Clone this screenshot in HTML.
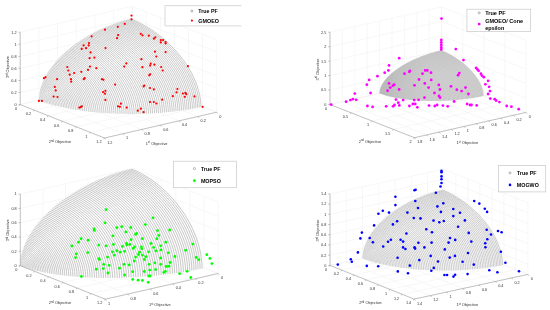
<!DOCTYPE html>
<html><head><meta charset="utf-8"><title>Pareto fronts</title>
<style>
html,body{margin:0;padding:0;background:#fff;}
body{width:550px;height:310px;overflow:hidden;}
svg{display:block;}
text{font-family:"Liberation Sans",Arial,sans-serif;fill:#333;}
.grid{fill:none;stroke:#f1f1f1;stroke-width:0.6;}
.ax{fill:none;stroke:#8a8a8a;stroke-width:0.5;}
.tl text{font-size:3.8px;fill:#333;}
.at{font-size:3.95px;fill:#333;}
.sup{font-size:2.6px;}
.lg{fill:none;stroke:#c8c8c8;stroke-width:0.7;}
.lt{font-size:5.9px;font-weight:bold;fill:#000;}
</style></head>
<body>
<svg width="550" height="310" viewBox="0 0 550 310">
<rect width="550" height="310" fill="#fff"/>
<g id="P1"><path class="grid" d="M132.3,78.8 L216.6,112.2 M132.3,78.8 L132.3,6.4 M113.6,83.1 L197.9,116.5 M113.6,83.1 L113.6,10.7 M94.9,87.4 L179.2,120.8 M94.9,87.4 L94.9,15 M76.2,91.7 L160.5,125.1 M76.2,91.7 L76.2,19.3 M57.6,96 L141.9,129.4 M57.6,96 L57.6,23.6 M38.9,100.3 L123.2,133.7 M38.9,100.3 L38.9,27.9 M20.2,104.6 L104.5,138 M20.2,104.6 L20.2,32.2 M132.3,78.8 L20.2,104.6 M132.3,78.8 L132.3,6.4 M146.3,84.4 L34.2,110.2 M146.3,84.4 L146.3,12 M160.4,89.9 L48.3,115.7 M160.4,89.9 L160.4,17.6 M174.4,95.5 L62.3,121.3 M174.4,95.5 L174.4,23.1 M188.5,101.1 L76.4,126.9 M188.5,101.1 L188.5,28.7 M202.5,106.6 L90.4,132.4 M202.5,106.6 L202.5,34.3 M216.6,112.2 L104.5,138 M216.6,112.2 L216.6,39.8 M20.2,104.6 L132.3,78.8 L216.6,112.2 M20.2,92.5 L132.3,66.7 L216.6,100.1 M20.2,80.5 L132.3,54.7 L216.6,88.1 M20.2,68.4 L132.3,42.6 L216.6,76 M20.2,56.4 L132.3,30.6 L216.6,64 M20.2,44.3 L132.3,18.5 L216.6,51.9 M20.2,32.2 L132.3,6.4 L216.6,39.8"/>
<polygon fill="#fdfdfd" points="38.9,100.3 38.9,98.7 39,97.1 39.2,95.5 39.4,93.9 39.7,92.2 40,90.6 40.4,89 40.9,87.3 41.5,85.6 42.1,84 42.7,82.3 43.5,80.6 44.2,78.9 45.1,77.3 46,75.6 47,73.9 48,72.2 49.1,70.6 50.2,68.9 51.4,67.3 52.6,65.6 54,64 55.3,62.4 56.7,60.8 58.2,59.1 59.7,57.6 61.3,56 62.9,54.4 64.5,52.9 66.2,51.4 68,49.9 69.8,48.4 71.6,46.9 73.5,45.5 75.4,44 77.4,42.7 79.4,41.3 81.4,39.9 83.5,38.6 85.6,37.3 87.7,36.1 89.9,34.8 92.1,33.6 94.3,32.5 96.6,31.3 98.8,30.2 101.1,29.1 103.4,28.1 105.8,27.1 108.1,26.1 110.5,25.2 112.9,24.3 115.3,23.4 117.7,22.6 120.1,21.8 122.5,21.1 125,20.4 127.4,19.7 129.9,19.1 132.3,18.5 134.1,19.2 136,20 137.8,20.9 139.6,21.7 141.5,22.6 143.3,23.6 145.1,24.6 146.9,25.6 148.7,26.7 150.5,27.8 152.3,28.9 154,30.1 155.7,31.2 157.5,32.5 159.2,33.7 160.9,35 162.5,36.4 164.2,37.7 165.8,39.1 167.4,40.5 169,41.9 170.6,43.4 172.1,44.9 173.6,46.4 175.1,47.9 176.5,49.5 177.9,51 179.3,52.6 180.7,54.2 182,55.8 183.3,57.5 184.5,59.1 185.7,60.8 186.9,62.5 188,64.2 189.1,65.9 190.2,67.6 191.2,69.3 192.2,71 193.1,72.8 194,74.5 194.9,76.2 195.7,78 196.5,79.7 197.2,81.4 197.9,83.2 198.5,84.9 199.1,86.6 199.7,88.4 200.2,90.1 200.6,91.8 201,93.5 201.4,95.2 201.7,96.9 201.9,98.5 202.2,100.2 202.3,101.8 202.5,103.4 202.5,105 202.5,106.6 200.1,107.2 197.6,107.7 195,108.2 192.4,108.7 189.8,109.2 187.1,109.7 184.3,110.1 181.6,110.5 178.8,110.9 176,111.2 173.1,111.6 170.2,111.9 167.3,112.2 164.4,112.5 161.5,112.7 158.5,113 155.5,113.2 152.5,113.4 149.5,113.5 146.4,113.7 143.4,113.8 140.3,113.9 137.3,113.9 134.2,114 131.2,114 128.1,114 125,113.9 122,113.9 119,113.8 115.9,113.7 112.9,113.6 109.9,113.4 106.9,113.2 103.9,113 101,112.8 98,112.6 95.1,112.3 92.2,112 89.4,111.7 86.5,111.3 83.7,111 81,110.6 78.2,110.2 75.5,109.8 72.9,109.3 70.3,108.8 67.7,108.4 65.2,107.8 62.7,107.3 60.2,106.8 57.9,106.2 55.5,105.6 53.2,105 51,104.4 48.9,103.7 46.7,103.1 44.7,102.4 42.7,101.7 40.8,101"/>
<path fill="none" stroke="#bebebe" stroke-width="0.8" d="M38.9,99.2 L39,99.3 L39.1,99.3 L39.1,99.4 L39.2,99.4 L39.3,99.5 L39.4,99.5 L39.4,99.6 L39.5,99.6 L39.6,99.7 L39.6,99.8 L39.7,99.8 L39.8,99.9 L39.8,100 L39.9,100 L39.9,100.1 L40,100.2 L40,100.3 L40,100.3 L40.1,100.4 L40.1,100.5 L40.1,100.6 L40.1,100.6 L40.1,100.7 L40.1,100.8 M38.9,98.2 L39.1,98.3 L39.3,98.3 L39.4,98.4 L39.6,98.5 L39.7,98.6 L39.9,98.7 L40,98.8 L40.2,99 L40.3,99.1 L40.4,99.2 L40.6,99.3 L40.7,99.5 L40.8,99.6 L40.9,99.8 L41,99.9 L41.1,100.1 L41.1,100.2 L41.2,100.4 L41.3,100.5 L41.3,100.7 L41.3,100.8 L41.4,101 L41.4,101.1 L41.4,101.3 M39,97.1 L39.3,97.2 L39.5,97.3 L39.7,97.5 L40,97.6 L40.2,97.8 L40.4,97.9 L40.6,98.1 L40.8,98.3 L41.1,98.5 L41.2,98.7 L41.4,98.9 L41.6,99.1 L41.8,99.3 L41.9,99.5 L42.1,99.7 L42.2,100 L42.3,100.2 L42.4,100.4 L42.5,100.6 L42.6,100.9 L42.6,101.1 L42.7,101.3 L42.7,101.5 L42.7,101.7 M39.1,96 L39.4,96.2 L39.8,96.3 L40.1,96.5 L40.4,96.7 L40.7,96.9 L41,97.1 L41.3,97.3 L41.6,97.6 L41.8,97.8 L42.1,98.1 L42.3,98.4 L42.6,98.6 L42.8,98.9 L43,99.2 L43.2,99.5 L43.4,99.8 L43.5,100.1 L43.6,100.4 L43.8,100.7 L43.8,101 L43.9,101.3 L44,101.6 L44,101.9 L44,102.2 M39.2,95 L39.6,95.1 L40,95.3 L40.4,95.5 L40.8,95.8 L41.2,96 L41.6,96.3 L41.9,96.6 L42.3,96.9 L42.6,97.2 L43,97.5 L43.3,97.9 L43.6,98.2 L43.8,98.6 L44.1,98.9 L44.3,99.3 L44.5,99.7 L44.7,100.1 L44.9,100.4 L45,100.8 L45.2,101.2 L45.2,101.6 L45.3,101.9 L45.3,102.3 L45.4,102.6 M39.4,93.9 L39.9,94.1 L40.4,94.3 L40.8,94.6 L41.3,94.8 L41.8,95.1 L42.2,95.5 L42.6,95.8 L43.1,96.2 L43.5,96.6 L43.9,97 L44.2,97.4 L44.6,97.8 L44.9,98.2 L45.2,98.7 L45.5,99.1 L45.8,99.6 L46,100 L46.2,100.5 L46.3,100.9 L46.5,101.4 L46.6,101.8 L46.7,102.2 L46.7,102.7 L46.7,103.1 M39.6,92.8 L40.1,93 L40.7,93.3 L41.2,93.6 L41.8,93.9 L42.3,94.3 L42.9,94.6 L43.4,95 L43.9,95.5 L44.3,95.9 L44.8,96.4 L45.2,96.9 L45.6,97.3 L46,97.8 L46.4,98.4 L46.7,98.9 L47,99.4 L47.3,99.9 L47.5,100.5 L47.7,101 L47.8,101.5 L48,102 L48.1,102.5 L48.1,103 L48.1,103.5 M39.8,91.7 L40.4,92 L41.1,92.3 L41.7,92.6 L42.3,93 L42.9,93.4 L43.5,93.8 L44.1,94.3 L44.7,94.8 L45.2,95.3 L45.7,95.8 L46.2,96.3 L46.7,96.9 L47.1,97.5 L47.5,98.1 L47.9,98.6 L48.3,99.2 L48.6,99.9 L48.8,100.5 L49.1,101.1 L49.2,101.7 L49.4,102.3 L49.5,102.8 L49.5,103.4 L49.6,104 M40,90.6 L40.8,90.9 L41.5,91.3 L42.2,91.6 L42.9,92.1 L43.6,92.5 L44.2,93 L44.9,93.5 L45.5,94 L46.1,94.6 L46.7,95.2 L47.3,95.8 L47.8,96.4 L48.3,97.1 L48.8,97.7 L49.2,98.4 L49.6,99.1 L49.9,99.8 L50.2,100.4 L50.4,101.1 L50.6,101.8 L50.8,102.5 L50.9,103.1 L51,103.8 L51,104.4 M40.3,89.5 L41.1,89.8 L41.9,90.2 L42.7,90.6 L43.5,91.1 L44.2,91.6 L45,92.1 L45.7,92.7 L46.4,93.3 L47.1,94 L47.7,94.6 L48.3,95.3 L48.9,96 L49.5,96.7 L50,97.4 L50.4,98.2 L50.9,98.9 L51.2,99.7 L51.6,100.4 L51.9,101.2 L52.1,101.9 L52.3,102.7 L52.4,103.4 L52.5,104.1 L52.5,104.8 M40.6,88.4 L41.5,88.8 L42.3,89.2 L43.2,89.7 L44.1,90.2 L44.9,90.7 L45.7,91.3 L46.5,91.9 L47.3,92.6 L48,93.3 L48.8,94 L49.4,94.8 L50.1,95.5 L50.7,96.3 L51.2,97.1 L51.7,97.9 L52.2,98.8 L52.6,99.6 L53,100.4 L53.3,101.2 L53.5,102.1 L53.7,102.9 L53.9,103.7 L54,104.5 L54,105.2 M40.9,87.3 L41.9,87.7 L42.8,88.2 L43.8,88.7 L44.7,89.2 L45.6,89.8 L46.5,90.5 L47.4,91.1 L48.2,91.9 L49,92.6 L49.8,93.4 L50.6,94.2 L51.3,95.1 L51.9,95.9 L52.5,96.8 L53.1,97.7 L53.6,98.6 L54,99.5 L54.4,100.4 L54.8,101.3 L55,102.2 L55.2,103.1 L55.4,103.9 L55.5,104.8 L55.5,105.6 M41.3,86.2 L42.3,86.6 L43.3,87.1 L44.4,87.7 L45.4,88.3 L46.4,88.9 L47.3,89.6 L48.3,90.4 L49.2,91.1 L50.1,91.9 L50.9,92.8 L51.7,93.7 L52.5,94.6 L53.2,95.5 L53.8,96.5 L54.4,97.4 L55,98.4 L55.5,99.4 L55.9,100.3 L56.2,101.3 L56.5,102.3 L56.8,103.2 L56.9,104.2 L57,105.1 L57.1,106 M41.7,85.1 L42.8,85.5 L43.9,86.1 L45,86.7 L46.1,87.3 L47.1,88 L48.2,88.8 L49.2,89.6 L50.2,90.4 L51.1,91.3 L52,92.2 L52.9,93.1 L53.7,94.1 L54.4,95.1 L55.1,96.1 L55.8,97.2 L56.4,98.2 L56.9,99.2 L57.4,100.3 L57.8,101.3 L58.1,102.4 L58.3,103.4 L58.5,104.4 L58.6,105.4 L58.7,106.4 M42.1,84 L43.3,84.5 L44.4,85 L45.6,85.7 L46.8,86.4 L47.9,87.1 L49,87.9 L50.1,88.8 L51.2,89.7 L52.2,90.6 L53.1,91.6 L54.1,92.6 L54.9,93.6 L55.7,94.7 L56.5,95.8 L57.2,96.9 L57.8,98 L58.4,99.1 L58.9,100.3 L59.3,101.4 L59.6,102.5 L59.9,103.6 L60.1,104.7 L60.2,105.7 L60.2,106.8 M42.5,82.8 L43.8,83.4 L45,84 L46.3,84.7 L47.5,85.4 L48.7,86.2 L49.9,87 L51.1,88 L52.2,88.9 L53.3,89.9 L54.3,91 L55.3,92 L56.2,93.1 L57.1,94.3 L57.9,95.4 L58.6,96.6 L59.3,97.8 L59.9,99 L60.4,100.2 L60.8,101.4 L61.2,102.6 L61.5,103.7 L61.7,104.9 L61.8,106 L61.9,107.1 M43,81.7 L44.3,82.3 L45.6,82.9 L47,83.7 L48.3,84.4 L49.6,85.3 L50.8,86.2 L52,87.1 L53.2,88.2 L54.4,89.2 L55.5,90.3 L56.5,91.5 L57.5,92.6 L58.4,93.9 L59.3,95.1 L60,96.3 L60.8,97.6 L61.4,98.9 L61.9,100.1 L62.4,101.4 L62.8,102.7 L63.1,103.9 L63.3,105.1 L63.5,106.3 L63.5,107.5 M43.5,80.6 L44.9,81.2 L46.3,81.9 L47.7,82.6 L49.1,83.5 L50.4,84.4 L51.8,85.3 L53.1,86.3 L54.3,87.4 L55.5,88.5 L56.7,89.7 L57.8,90.9 L58.8,92.2 L59.8,93.4 L60.7,94.7 L61.5,96 L62.3,97.4 L62.9,98.7 L63.5,100.1 L64,101.4 L64.4,102.7 L64.7,104 L65,105.3 L65.1,106.6 L65.2,107.8 M44,79.5 L45.5,80.1 L47,80.8 L48.4,81.6 L49.9,82.5 L51.3,83.5 L52.7,84.5 L54.1,85.5 L55.4,86.7 L56.7,87.8 L57.9,89.1 L59.1,90.3 L60.1,91.7 L61.2,93 L62.1,94.4 L63,95.8 L63.8,97.2 L64.5,98.6 L65.1,100 L65.6,101.4 L66.1,102.8 L66.4,104.2 L66.6,105.6 L66.8,106.9 L66.8,108.2 M44.5,78.4 L46.1,79 L47.7,79.8 L49.2,80.6 L50.7,81.5 L52.2,82.5 L53.7,83.6 L55.1,84.7 L56.5,85.9 L57.9,87.1 L59.1,88.4 L60.4,89.8 L61.5,91.2 L62.6,92.6 L63.6,94 L64.5,95.5 L65.3,96.9 L66.1,98.4 L66.7,99.9 L67.3,101.4 L67.7,102.9 L68.1,104.3 L68.3,105.7 L68.5,107.2 L68.5,108.5 M45.1,77.3 L46.7,78 L48.4,78.7 L50,79.6 L51.6,80.6 L53.2,81.6 L54.7,82.7 L56.2,83.9 L57.7,85.1 L59.1,86.4 L60.4,87.8 L61.7,89.2 L62.9,90.6 L64,92.1 L65.1,93.6 L66,95.2 L66.9,96.7 L67.7,98.3 L68.3,99.8 L68.9,101.4 L69.4,102.9 L69.8,104.4 L70,105.9 L70.2,107.4 L70.3,108.8 M45.7,76.1 L47.4,76.9 L49.1,77.7 L50.8,78.6 L52.5,79.6 L54.1,80.7 L55.8,81.9 L57.3,83.1 L58.8,84.4 L60.3,85.7 L61.7,87.2 L63,88.6 L64.3,90.1 L65.5,91.7 L66.6,93.3 L67.6,94.9 L68.5,96.5 L69.3,98.1 L70,99.7 L70.6,101.3 L71.1,103 L71.5,104.6 L71.8,106.1 L71.9,107.7 L72,109.2 M46.3,75 L48.1,75.8 L49.9,76.7 L51.7,77.6 L53.4,78.6 L55.1,79.8 L56.8,81 L58.4,82.3 L60,83.6 L61.6,85 L63,86.5 L64.4,88 L65.7,89.6 L66.9,91.2 L68.1,92.9 L69.1,94.5 L70.1,96.2 L70.9,97.9 L71.7,99.6 L72.3,101.3 L72.8,103 L73.2,104.7 L73.5,106.3 L73.7,107.9 L73.8,109.5 M47,73.9 L48.8,74.7 L50.7,75.6 L52.5,76.6 L54.4,77.7 L56.1,78.9 L57.9,80.1 L59.6,81.5 L61.2,82.9 L62.8,84.3 L64.4,85.9 L65.8,87.5 L67.2,89.1 L68.4,90.8 L69.6,92.5 L70.7,94.2 L71.7,96 L72.6,97.7 L73.4,99.5 L74,101.3 L74.6,103 L75,104.8 L75.3,106.5 L75.5,108.1 L75.5,109.8 M47.6,72.8 L49.6,73.6 L51.5,74.6 L53.4,75.6 L55.3,76.7 L57.2,77.9 L59,79.2 L60.8,80.6 L62.5,82.1 L64.1,83.6 L65.7,85.2 L67.2,86.9 L68.6,88.6 L70,90.3 L71.2,92.1 L72.3,93.9 L73.3,95.7 L74.3,97.6 L75.1,99.4 L75.7,101.2 L76.3,103.1 L76.8,104.9 L77.1,106.6 L77.3,108.4 L77.3,110 M48.3,71.7 L50.4,72.5 L52.4,73.5 L54.3,74.6 L56.3,75.7 L58.2,77 L60.1,78.4 L62,79.8 L63.7,81.3 L65.4,82.9 L67.1,84.6 L68.6,86.3 L70.1,88.1 L71.5,89.9 L72.8,91.7 L73.9,93.6 L75,95.5 L76,97.4 L76.8,99.3 L77.5,101.2 L78.1,103.1 L78.5,104.9 L78.9,106.8 L79.1,108.6 L79.1,110.3 M49.1,70.6 L51.2,71.5 L53.2,72.5 L55.3,73.6 L57.3,74.8 L59.3,76.1 L61.3,77.5 L63.2,79 L65,80.6 L66.8,82.2 L68.5,83.9 L70.1,85.7 L71.6,87.5 L73,89.4 L74.4,91.3 L75.6,93.3 L76.7,95.2 L77.7,97.2 L78.5,99.2 L79.3,101.1 L79.9,103.1 L80.3,105 L80.7,106.9 L80.9,108.8 L81,110.6 M49.8,69.5 L52,70.4 L54.1,71.4 L56.3,72.6 L58.4,73.8 L60.4,75.2 L62.4,76.6 L64.4,78.2 L66.3,79.8 L68.1,81.5 L69.9,83.3 L71.6,85.1 L73.1,87 L74.6,88.9 L76,90.9 L77.2,92.9 L78.4,94.9 L79.4,97 L80.3,99 L81,101.1 L81.7,103.1 L82.2,105.1 L82.5,107 L82.7,109 L82.8,110.9 M50.6,68.4 L52.8,69.3 L55,70.4 L57.2,71.6 L59.4,72.9 L61.5,74.3 L63.6,75.8 L65.7,77.4 L67.6,79 L69.5,80.8 L71.3,82.6 L73.1,84.5 L74.7,86.5 L76.2,88.5 L77.6,90.5 L78.9,92.6 L80.1,94.7 L81.1,96.8 L82.1,98.9 L82.8,101 L83.5,103.1 L84,105.1 L84.4,107.2 L84.6,109.2 L84.7,111.1 M51.4,67.3 L53.7,68.2 L56,69.3 L58.3,70.6 L60.5,71.9 L62.7,73.3 L64.8,74.9 L66.9,76.5 L69,78.3 L70.9,80.1 L72.8,82 L74.6,83.9 L76.2,85.9 L77.8,88 L79.3,90.1 L80.6,92.2 L81.8,94.4 L82.9,96.6 L83.9,98.7 L84.7,100.9 L85.3,103.1 L85.8,105.2 L86.2,107.3 L86.4,109.3 L86.5,111.3 M52.2,66.2 L54.6,67.2 L56.9,68.3 L59.3,69.6 L61.6,70.9 L63.9,72.4 L66.1,74 L68.2,75.7 L70.3,77.5 L72.3,79.4 L74.3,81.3 L76.1,83.3 L77.8,85.4 L79.4,87.5 L80.9,89.7 L82.3,91.9 L83.6,94.1 L84.7,96.3 L85.7,98.6 L86.5,100.8 L87.2,103 L87.7,105.2 L88.1,107.4 L88.3,109.5 L88.4,111.6 M53.1,65.1 L55.5,66.1 L57.9,67.3 L60.3,68.6 L62.7,70 L65,71.5 L67.3,73.2 L69.5,74.9 L71.7,76.7 L73.8,78.7 L75.7,80.7 L77.6,82.7 L79.4,84.9 L81.1,87.1 L82.6,89.3 L84,91.5 L85.3,93.8 L86.5,96.1 L87.5,98.4 L88.3,100.7 L89,103 L89.6,105.3 L90,107.5 L90.2,109.7 L90.3,111.8 M54,64 L56.5,65.1 L58.9,66.2 L61.4,67.6 L63.9,69 L66.3,70.6 L68.6,72.3 L70.9,74.1 L73.1,76 L75.2,77.9 L77.2,80 L79.2,82.1 L81,84.3 L82.7,86.6 L84.3,88.9 L85.8,91.2 L87.1,93.5 L88.3,95.9 L89.3,98.3 L90.2,100.6 L90.9,103 L91.5,105.3 L91.9,107.6 L92.1,109.8 L92.2,112 M54.9,62.9 L57.4,64 L60,65.2 L62.5,66.6 L65,68.1 L67.5,69.7 L69.9,71.4 L72.2,73.3 L74.5,75.2 L76.7,77.2 L78.8,79.3 L80.8,81.5 L82.6,83.8 L84.4,86.1 L86,88.4 L87.5,90.8 L88.9,93.2 L90.1,95.7 L91.1,98.1 L92.1,100.5 L92.8,102.9 L93.4,105.3 L93.8,107.7 L94.1,109.9 L94.1,112.2 M55.8,61.8 L58.4,62.9 L61,64.2 L63.6,65.6 L66.2,67.1 L68.7,68.8 L71.2,70.6 L73.6,72.5 L75.9,74.4 L78.2,76.5 L80.3,78.7 L82.3,80.9 L84.3,83.2 L86.1,85.6 L87.7,88 L89.3,90.5 L90.7,92.9 L91.9,95.4 L93,97.9 L93.9,100.4 L94.7,102.9 L95.3,105.3 L95.7,107.7 L96,110.1 L96.1,112.4 M56.7,60.8 L59.4,61.9 L62.1,63.2 L64.8,64.6 L67.4,66.2 L70,67.9 L72.5,69.7 L75,71.6 L77.4,73.7 L79.7,75.8 L81.9,78 L83.9,80.3 L85.9,82.7 L87.8,85.1 L89.5,87.6 L91.1,90.1 L92.5,92.6 L93.8,95.2 L94.9,97.7 L95.8,100.3 L96.6,102.8 L97.2,105.3 L97.7,107.8 L97.9,110.2 L98,112.6 M57.7,59.7 L60.5,60.9 L63.2,62.2 L65.9,63.6 L68.6,65.3 L71.3,67 L73.9,68.9 L76.4,70.8 L78.8,72.9 L81.2,75.1 L83.4,77.4 L85.6,79.7 L87.6,82.2 L89.5,84.6 L91.2,87.2 L92.8,89.7 L94.3,92.3 L95.6,94.9 L96.8,97.6 L97.7,100.2 L98.5,102.8 L99.2,105.3 L99.6,107.8 L99.9,110.3 L100,112.7 M58.7,58.6 L61.5,59.8 L64.3,61.2 L67.1,62.7 L69.9,64.3 L72.6,66.1 L75.2,68 L77.8,70 L80.3,72.2 L82.7,74.4 L85,76.7 L87.2,79.1 L89.3,81.6 L91.2,84.1 L93,86.7 L94.6,89.4 L96.1,92 L97.5,94.7 L98.6,97.4 L99.6,100 L100.5,102.7 L101.1,105.3 L101.6,107.9 L101.8,110.4 L101.9,112.9 M59.7,57.6 L62.6,58.8 L65.5,60.2 L68.3,61.7 L71.1,63.4 L73.9,65.2 L76.6,67.2 L79.3,69.2 L81.8,71.4 L84.3,73.7 L86.6,76.1 L88.9,78.5 L91,81.1 L92.9,83.7 L94.8,86.3 L96.5,89 L98,91.7 L99.4,94.4 L100.5,97.2 L101.6,99.9 L102.4,102.6 L103.1,105.3 L103.5,107.9 L103.8,110.5 L103.9,113 M60.7,56.5 L63.7,57.8 L66.6,59.2 L69.5,60.7 L72.4,62.5 L75.3,64.3 L78,66.3 L80.7,68.4 L83.3,70.6 L85.8,73 L88.2,75.4 L90.5,77.9 L92.7,80.5 L94.7,83.2 L96.6,85.9 L98.3,88.6 L99.8,91.4 L101.2,94.2 L102.5,97 L103.5,99.8 L104.4,102.5 L105,105.3 L105.5,107.9 L105.8,110.6 L105.9,113.2 M61.8,55.5 L64.8,56.7 L67.8,58.2 L70.8,59.8 L73.7,61.5 L76.6,63.4 L79.4,65.5 L82.2,67.6 L84.8,69.9 L87.4,72.3 L89.9,74.8 L92.2,77.3 L94.4,80 L96.4,82.7 L98.4,85.4 L100.1,88.2 L101.7,91.1 L103.1,93.9 L104.4,96.8 L105.4,99.6 L106.3,102.4 L107,105.2 L107.5,108 L107.8,110.7 L107.9,113.3 M62.9,54.4 L66,55.7 L69,57.2 L72,58.8 L75,60.6 L78,62.6 L80.9,64.6 L83.7,66.8 L86.4,69.1 L89,71.6 L91.5,74.1 L93.9,76.7 L96.1,79.4 L98.2,82.2 L100.2,85 L102,87.8 L103.6,90.7 L105,93.6 L106.3,96.5 L107.4,99.4 L108.3,102.3 L109,105.2 L109.5,108 L109.8,110.7 L109.9,113.4 M64,53.4 L67.1,54.7 L70.2,56.2 L73.3,57.9 L76.4,59.7 L79.4,61.7 L82.3,63.8 L85.2,66 L87.9,68.4 L90.6,70.9 L93.1,73.5 L95.6,76.1 L97.9,78.9 L100,81.7 L102,84.5 L103.8,87.5 L105.5,90.4 L106.9,93.4 L108.2,96.3 L109.3,99.3 L110.3,102.2 L111,105.1 L111.5,108 L111.8,110.8 L111.9,113.5 M65.1,52.4 L68.3,53.7 L71.5,55.3 L74.6,57 L77.7,58.8 L80.8,60.8 L83.8,63 L86.7,65.2 L89.5,67.7 L92.2,70.2 L94.8,72.8 L97.3,75.5 L99.6,78.3 L101.8,81.2 L103.8,84.1 L105.7,87.1 L107.4,90.1 L108.9,93.1 L110.2,96.1 L111.3,99.1 L112.2,102.1 L113,105.1 L113.5,108 L113.8,110.8 L113.9,113.6 M66.2,51.4 L69.5,52.7 L72.7,54.3 L75.9,56 L79.1,57.9 L82.2,60 L85.3,62.1 L88.2,64.5 L91.1,66.9 L93.8,69.5 L96.5,72.2 L99,74.9 L101.4,77.8 L103.6,80.7 L105.7,83.7 L107.5,86.7 L109.3,89.7 L110.8,92.8 L112.1,95.9 L113.3,98.9 L114.2,102 L115,105 L115.5,108 L115.8,110.9 L115.9,113.7 M67.4,50.4 L70.7,51.8 L74,53.3 L77.3,55.1 L80.5,57 L83.7,59.1 L86.7,61.3 L89.8,63.7 L92.7,66.2 L95.5,68.8 L98.2,71.5 L100.7,74.3 L103.1,77.2 L105.4,80.2 L107.5,83.2 L109.4,86.3 L111.2,89.4 L112.7,92.5 L114.1,95.6 L115.3,98.8 L116.2,101.8 L117,104.9 L117.5,107.9 L117.8,110.9 L117.9,113.8 M68.6,49.4 L72,50.8 L75.3,52.4 L78.6,54.2 L81.9,56.1 L85.1,58.2 L88.3,60.5 L91.3,62.9 L94.3,65.4 L97.1,68.1 L99.9,70.9 L102.5,73.7 L104.9,76.7 L107.2,79.7 L109.4,82.8 L111.3,85.9 L113.1,89 L114.7,92.2 L116.1,95.4 L117.2,98.6 L118.2,101.7 L119,104.8 L119.5,107.9 L119.9,110.9 L120,113.8 M69.8,48.4 L73.2,49.8 L76.6,51.5 L80,53.3 L83.3,55.3 L86.6,57.4 L89.8,59.7 L92.9,62.1 L95.9,64.7 L98.8,67.4 L101.6,70.2 L104.2,73.1 L106.7,76.1 L109,79.2 L111.2,82.3 L113.2,85.5 L115,88.7 L116.6,91.9 L118,95.1 L119.2,98.4 L120.2,101.6 L121,104.7 L121.6,107.8 L121.9,110.9 L122,113.9 M71,47.4 L74.5,48.9 L77.9,50.5 L81.4,52.4 L84.7,54.4 L88.1,56.6 L91.3,58.9 L94.5,61.4 L97.5,64 L100.5,66.7 L103.3,69.6 L106,72.5 L108.5,75.6 L110.9,78.7 L113.1,81.9 L115.1,85.1 L116.9,88.3 L118.6,91.6 L120,94.9 L121.2,98.2 L122.2,101.4 L123,104.6 L123.6,107.8 L123.9,110.9 L124,113.9 M72.3,46.4 L75.8,47.9 L79.3,49.6 L82.8,51.5 L86.2,53.5 L89.6,55.7 L92.8,58.1 L96.1,60.6 L99.2,63.3 L102.2,66.1 L105,69 L107.7,71.9 L110.3,75 L112.7,78.2 L114.9,81.4 L117,84.7 L118.9,88 L120.5,91.3 L122,94.6 L123.2,98 L124.2,101.3 L125,104.5 L125.6,107.7 L126,110.9 L126.1,113.9 M73.5,45.5 L77.1,47 L80.6,48.7 L84.2,50.6 L87.6,52.7 L91.1,54.9 L94.4,57.3 L97.7,59.9 L100.8,62.6 L103.8,65.4 L106.7,68.3 L109.5,71.4 L112.1,74.5 L114.6,77.7 L116.8,81 L118.9,84.3 L120.8,87.6 L122.5,91 L123.9,94.4 L125.2,97.7 L126.2,101.1 L127.1,104.4 L127.6,107.7 L128,110.8 L128.1,114 M74.8,44.5 L78.4,46.1 L82,47.8 L85.6,49.7 L89.1,51.8 L92.6,54.1 L96,56.5 L99.3,59.1 L102.5,61.9 L105.5,64.7 L108.5,67.7 L111.3,70.8 L113.9,73.9 L116.4,77.2 L118.7,80.5 L120.8,83.9 L122.7,87.3 L124.4,90.7 L125.9,94.1 L127.2,97.5 L128.3,100.9 L129.1,104.3 L129.7,107.6 L130,110.8 L130.1,114 M76.1,43.6 L79.7,45.1 L83.4,46.9 L87,48.8 L90.6,51 L94.1,53.3 L97.6,55.8 L100.9,58.4 L104.1,61.1 L107.3,64 L110.2,67.1 L113.1,70.2 L115.8,73.4 L118.3,76.7 L120.6,80.1 L122.7,83.5 L124.7,86.9 L126.4,90.4 L127.9,93.8 L129.2,97.3 L130.3,100.7 L131.1,104.1 L131.7,107.5 L132.1,110.8 L132.2,114 M77.4,42.7 L81.1,44.2 L84.8,46 L88.5,48 L92.1,50.1 L95.7,52.5 L99.1,55 L102.5,57.6 L105.8,60.4 L109,63.4 L112,66.4 L114.9,69.6 L117.6,72.9 L120.1,76.2 L122.5,79.6 L124.6,83.1 L126.6,86.5 L128.4,90.1 L129.9,93.6 L131.2,97.1 L132.3,100.6 L133.1,104 L133.7,107.4 L134.1,110.7 L134.2,114 M78.7,41.7 L82.5,43.3 L86.2,45.1 L89.9,47.1 L93.6,49.3 L97.2,51.7 L100.7,54.2 L104.2,56.9 L107.5,59.8 L110.7,62.7 L113.7,65.8 L116.7,69 L119.4,72.3 L122,75.7 L124.4,79.2 L126.6,82.6 L128.6,86.2 L130.3,89.7 L131.9,93.3 L133.2,96.8 L134.3,100.4 L135.2,103.9 L135.8,107.3 L136.1,110.7 L136.3,113.9 M80.1,40.8 L83.9,42.4 L87.7,44.3 L91.4,46.3 L95.1,48.5 L98.8,50.9 L102.3,53.5 L105.8,56.2 L109.2,59.1 L112.4,62.1 L115.5,65.2 L118.5,68.5 L121.2,71.8 L123.8,75.2 L126.3,78.7 L128.5,82.2 L130.5,85.8 L132.3,89.4 L133.9,93 L135.2,96.6 L136.3,100.2 L137.2,103.7 L137.8,107.2 L138.2,110.6 L138.3,113.9 M81.4,39.9 L85.3,41.6 L89.1,43.4 L92.9,45.5 L96.7,47.7 L100.4,50.1 L104,52.7 L107.5,55.5 L110.9,58.4 L114.2,61.4 L117.3,64.6 L120.3,67.9 L123.1,71.3 L125.7,74.7 L128.2,78.2 L130.4,81.8 L132.4,85.4 L134.3,89.1 L135.9,92.7 L137.2,96.4 L138.3,100 L139.2,103.5 L139.8,107.1 L140.2,110.5 L140.3,113.9 M82.8,39.1 L86.7,40.7 L90.6,42.6 L94.4,44.6 L98.2,46.9 L101.9,49.4 L105.6,52 L109.1,54.8 L112.6,57.7 L115.9,60.8 L119.1,64 L122.1,67.3 L124.9,70.7 L127.6,74.2 L130.1,77.8 L132.3,81.4 L134.4,85.1 L136.2,88.7 L137.8,92.4 L139.2,96.1 L140.3,99.8 L141.2,103.4 L141.9,106.9 L142.2,110.4 L142.4,113.8 M84.2,38.2 L88.1,39.9 L92,41.7 L95.9,43.8 L99.8,46.1 L103.5,48.6 L107.2,51.3 L110.8,54.1 L114.3,57 L117.6,60.2 L120.8,63.4 L123.9,66.7 L126.8,70.2 L129.5,73.7 L132,77.3 L134.3,81 L136.3,84.7 L138.2,88.4 L139.8,92.1 L141.2,95.9 L142.4,99.5 L143.2,103.2 L143.9,106.8 L144.3,110.3 L144.4,113.7 M85.6,37.3 L89.6,39 L93.5,40.9 L97.5,43 L101.3,45.3 L105.1,47.8 L108.9,50.5 L112.5,53.4 L116,56.4 L119.4,59.5 L122.6,62.8 L125.7,66.2 L128.6,69.7 L131.3,73.2 L133.9,76.9 L136.2,80.6 L138.3,84.3 L140.2,88.1 L141.8,91.8 L143.2,95.6 L144.4,99.3 L145.3,103 L145.9,106.6 L146.3,110.2 L146.4,113.7 M87,36.5 L91,38.2 L95,40.1 L99,42.2 L102.9,44.6 L106.8,47.1 L110.5,49.8 L114.2,52.7 L117.7,55.7 L121.1,58.9 L124.4,62.2 L127.5,65.6 L130.5,69.1 L133.2,72.8 L135.8,76.4 L138.1,80.2 L140.2,83.9 L142.1,87.7 L143.8,91.5 L145.2,95.3 L146.4,99.1 L147.3,102.8 L147.9,106.5 L148.3,110.1 L148.5,113.6 M88.4,35.7 L92.5,37.4 L96.5,39.3 L100.5,41.5 L104.5,43.8 L108.4,46.4 L112.2,49.1 L115.9,52 L119.5,55.1 L122.9,58.3 L126.2,61.6 L129.3,65.1 L132.3,68.6 L135.1,72.3 L137.7,76 L140,79.7 L142.2,83.6 L144.1,87.4 L145.7,91.2 L147.2,95.1 L148.4,98.9 L149.3,102.6 L149.9,106.3 L150.3,109.9 L150.5,113.5 M89.9,34.8 L94,36.6 L98.1,38.5 L102.1,40.7 L106.1,43.1 L110,45.7 L113.8,48.4 L117.6,51.3 L121.2,54.4 L124.7,57.7 L128,61 L131.2,64.5 L134.1,68.1 L136.9,71.8 L139.5,75.5 L141.9,79.3 L144.1,83.2 L146,87 L147.7,90.9 L149.2,94.8 L150.4,98.6 L151.3,102.4 L151.9,106.1 L152.3,109.8 L152.5,113.4 M91.3,34 L95.5,35.8 L99.6,37.8 L103.7,39.9 L107.7,42.3 L111.6,44.9 L115.5,47.7 L119.3,50.7 L122.9,53.8 L126.4,57.1 L129.8,60.5 L133,64 L136,67.6 L138.8,71.3 L141.4,75.1 L143.8,78.9 L146,82.8 L148,86.7 L149.7,90.6 L151.1,94.5 L152.3,98.4 L153.3,102.2 L153.9,106 L154.4,109.6 L154.5,113.2 M92.8,33.2 L97,35 L101.1,37 L105.2,39.2 L109.3,41.6 L113.3,44.2 L117.2,47 L121,50 L124.7,53.2 L128.2,56.5 L131.6,59.9 L134.8,63.4 L137.8,67.1 L140.7,70.8 L143.3,74.6 L145.8,78.5 L148,82.4 L149.9,86.3 L151.6,90.3 L153.1,94.2 L154.3,98.1 L155.3,102 L155.9,105.8 L156.4,109.5 L156.5,113.1 M94.3,32.5 L98.5,34.2 L102.7,36.2 L106.8,38.5 L110.9,40.9 L114.9,43.6 L118.9,46.4 L122.7,49.4 L126.4,52.6 L130,55.9 L133.4,59.3 L136.6,62.9 L139.7,66.6 L142.6,70.3 L145.2,74.2 L147.7,78.1 L149.9,82 L151.9,86 L153.6,90 L155.1,93.9 L156.3,97.8 L157.2,101.7 L157.9,105.6 L158.3,109.3 L158.5,113 M95.8,31.7 L100,33.5 L104.2,35.5 L108.4,37.8 L112.5,40.2 L116.6,42.9 L120.5,45.7 L124.4,48.8 L128.1,51.9 L131.7,55.3 L135.2,58.8 L138.4,62.4 L141.5,66.1 L144.4,69.9 L147.1,73.7 L149.6,77.7 L151.8,81.6 L153.8,85.6 L155.5,89.6 L157,93.6 L158.3,97.6 L159.2,101.5 L159.9,105.4 L160.3,109.1 L160.5,112.8 M97.3,30.9 L101.6,32.8 L105.8,34.8 L110,37.1 L114.2,39.5 L118.2,42.2 L122.2,45.1 L126.1,48.1 L129.9,51.3 L133.5,54.7 L137,58.2 L140.3,61.8 L143.4,65.6 L146.3,69.4 L149,73.3 L151.5,77.2 L153.7,81.2 L155.7,85.3 L157.5,89.3 L159,93.3 L160.2,97.3 L161.2,101.3 L161.9,105.1 L162.3,108.9 L162.4,112.7 M98.8,30.2 L103.1,32 L107.4,34.1 L111.6,36.4 L115.8,38.9 L119.9,41.6 L123.9,44.4 L127.8,47.5 L131.6,50.7 L135.3,54.1 L138.7,57.7 L142.1,61.3 L145.2,65.1 L148.1,68.9 L150.9,72.8 L153.4,76.8 L155.6,80.9 L157.6,84.9 L159.4,89 L160.9,93 L162.2,97 L163.1,101 L163.8,104.9 L164.3,108.8 L164.4,112.5 M100.3,29.5 L104.7,31.3 L109,33.4 L113.2,35.7 L117.4,38.2 L121.6,40.9 L125.6,43.8 L129.5,46.9 L133.4,50.2 L137,53.6 L140.5,57.1 L143.9,60.8 L147,64.6 L150,68.5 L152.7,72.4 L155.2,76.4 L157.5,80.5 L159.6,84.5 L161.3,88.6 L162.9,92.7 L164.1,96.8 L165.1,100.8 L165.8,104.7 L166.2,108.5 L166.4,112.3 M101.9,28.8 L106.2,30.6 L110.6,32.7 L114.8,35 L119.1,37.5 L123.2,40.3 L127.3,43.2 L131.3,46.3 L135.1,49.6 L138.8,53 L142.3,56.6 L145.7,60.3 L148.9,64.1 L151.8,68 L154.6,72 L157.1,76 L159.4,80.1 L161.5,84.2 L163.3,88.3 L164.8,92.4 L166,96.5 L167,100.5 L167.7,104.4 L168.2,108.3 L168.3,112.1 M103.4,28.1 L107.8,29.9 L112.2,32 L116.5,34.4 L120.7,36.9 L124.9,39.6 L129,42.6 L133,45.7 L136.8,49 L140.6,52.5 L144.1,56.1 L147.5,59.8 L150.7,63.6 L153.7,67.5 L156.4,71.5 L159,75.6 L161.3,79.7 L163.4,83.8 L165.2,88 L166.7,92.1 L168,96.2 L169,100.2 L169.7,104.2 L170.1,108.1 L170.2,111.9 M105,27.4 L109.4,29.3 L113.8,31.4 L118.1,33.7 L122.4,36.3 L126.6,39 L130.7,42 L134.7,45.1 L138.6,48.5 L142.3,51.9 L145.9,55.5 L149.3,59.3 L152.5,63.1 L155.5,67.1 L158.3,71.1 L160.8,75.2 L163.2,79.3 L165.2,83.5 L167.1,87.6 L168.6,91.8 L169.9,95.9 L170.9,99.9 L171.6,103.9 L172,107.9 L172.2,111.7 M106.6,26.8 L111,28.6 L115.4,30.8 L119.7,33.1 L124,35.7 L128.3,38.4 L132.4,41.4 L136.4,44.6 L140.3,47.9 L144.1,51.4 L147.7,55 L151.1,58.8 L154.3,62.7 L157.3,66.6 L160.1,70.7 L162.7,74.8 L165,78.9 L167.1,83.1 L168.9,87.3 L170.5,91.4 L171.8,95.6 L172.8,99.7 L173.5,103.7 L173.9,107.6 L174.1,111.5 M108.1,26.1 L112.6,28 L117,30.1 L121.4,32.5 L125.7,35.1 L129.9,37.9 L134.1,40.8 L138.1,44 L142.1,47.4 L145.8,50.9 L149.4,54.5 L152.9,58.3 L156.1,62.2 L159.1,66.2 L162,70.2 L164.5,74.4 L166.9,78.5 L169,82.7 L170.8,86.9 L172.4,91.1 L173.7,95.3 L174.7,99.4 L175.4,103.4 L175.8,107.4 L176,111.2 M109.7,25.5 L114.2,27.4 L118.6,29.5 L123,31.9 L127.3,34.5 L131.6,37.3 L135.8,40.3 L139.8,43.5 L143.8,46.8 L147.6,50.4 L151.2,54 L154.6,57.8 L157.9,61.7 L160.9,65.7 L163.8,69.8 L166.4,74 L168.7,78.1 L170.8,82.3 L172.7,86.6 L174.2,90.8 L175.5,94.9 L176.6,99.1 L177.3,103.1 L177.7,107.1 L177.9,111 M111.3,24.9 L115.8,26.8 L120.2,28.9 L124.6,31.3 L129,33.9 L133.3,36.7 L137.5,39.7 L141.6,42.9 L145.5,46.3 L149.3,49.9 L153,53.5 L156.4,57.3 L159.7,61.3 L162.7,65.3 L165.6,69.4 L168.2,73.5 L170.6,77.7 L172.7,82 L174.5,86.2 L176.1,90.4 L177.4,94.6 L178.4,98.8 L179.1,102.9 L179.6,106.9 L179.7,110.8 M112.9,24.3 L117.4,26.2 L121.8,28.3 L126.3,30.7 L130.7,33.3 L135,36.2 L139.2,39.2 L143.3,42.4 L147.2,45.8 L151.1,49.4 L154.7,53 L158.2,56.9 L161.5,60.8 L164.5,64.8 L167.4,69 L170,73.1 L172.4,77.4 L174.5,81.6 L176.4,85.9 L177.9,90.1 L179.3,94.3 L180.3,98.5 L181,102.6 L181.4,106.6 L181.6,110.5 M114.5,23.7 L119,25.6 L123.5,27.8 L127.9,30.2 L132.3,32.8 L136.6,35.6 L140.9,38.7 L145,41.9 L149,45.3 L152.8,48.9 L156.5,52.6 L159.9,56.4 L163.2,60.4 L166.3,64.4 L169.2,68.5 L171.8,72.7 L174.2,77 L176.3,81.2 L178.2,85.5 L179.8,89.7 L181.1,94 L182.1,98.2 L182.8,102.3 L183.3,106.3 L183.4,110.2 M116.1,23.1 L120.6,25.1 L125.1,27.2 L129.6,29.6 L134,32.3 L138.3,35.1 L142.6,38.2 L146.7,41.4 L150.7,44.8 L154.5,48.4 L158.2,52.1 L161.7,56 L165,59.9 L168.1,64 L171,68.1 L173.6,72.3 L176,76.6 L178.1,80.9 L180,85.1 L181.6,89.4 L182.9,93.6 L183.9,97.8 L184.7,102 L185.1,106 L185.3,109.9 M117.7,22.6 L122.2,24.5 L126.7,26.7 L131.2,29.1 L135.6,31.8 L140,34.6 L144.2,37.7 L148.4,40.9 L152.4,44.3 L156.2,47.9 L159.9,51.6 L163.4,55.5 L166.7,59.5 L169.9,63.6 L172.7,67.7 L175.4,71.9 L177.8,76.2 L179.9,80.5 L181.8,84.8 L183.4,89.1 L184.7,93.3 L185.7,97.5 L186.5,101.6 L186.9,105.7 L187.1,109.7 M119.3,22.1 L123.8,24 L128.4,26.2 L132.9,28.6 L137.3,31.2 L141.7,34.1 L145.9,37.2 L150.1,40.4 L154.1,43.9 L157.9,47.5 L161.6,51.2 L165.2,55.1 L168.5,59.1 L171.6,63.1 L174.5,67.3 L177.1,71.5 L179.5,75.8 L181.7,80.1 L183.6,84.4 L185.2,88.7 L186.5,93 L187.5,97.2 L188.3,101.3 L188.7,105.4 L188.9,109.4 M120.9,21.6 L125.5,23.5 L130,25.7 L134.5,28.1 L139,30.8 L143.3,33.6 L147.6,36.7 L151.8,40 L155.8,43.4 L159.7,47 L163.4,50.8 L166.9,54.6 L170.2,58.6 L173.3,62.7 L176.2,66.9 L178.9,71.1 L181.3,75.4 L183.5,79.7 L185.3,84 L186.9,88.3 L188.3,92.6 L189.3,96.8 L190,101 L190.5,105.1 L190.6,109 M122.5,21.1 L127.1,23 L131.7,25.2 L136.2,27.6 L140.6,30.3 L145,33.2 L149.3,36.2 L153.4,39.5 L157.5,43 L161.4,46.6 L165.1,50.3 L168.6,54.2 L171.9,58.2 L175.1,62.3 L178,66.5 L180.6,70.7 L183,75 L185.2,79.3 L187.1,83.7 L188.7,88 L190,92.3 L191.1,96.5 L191.8,100.7 L192.3,104.7 L192.4,108.7 M124.2,20.6 L128.7,22.5 L133.3,24.7 L137.8,27.2 L142.3,29.8 L146.7,32.7 L150.9,35.8 L155.1,39.1 L159.1,42.5 L163,46.1 L166.8,49.9 L170.3,53.8 L173.6,57.8 L176.8,61.9 L179.7,66.1 L182.3,70.4 L184.8,74.7 L186.9,79 L188.8,83.3 L190.4,87.6 L191.8,91.9 L192.8,96.1 L193.5,100.3 L194,104.4 L194.1,108.4 M125.8,20.1 L130.4,22.1 L134.9,24.3 L139.5,26.7 L143.9,29.4 L148.3,32.3 L152.6,35.4 L156.8,38.6 L160.8,42.1 L164.7,45.7 L168.4,49.5 L172,53.4 L175.3,57.4 L178.5,61.5 L181.4,65.7 L184.1,70 L186.5,74.3 L188.6,78.6 L190.5,82.9 L192.1,87.3 L193.5,91.6 L194.5,95.8 L195.3,100 L195.7,104.1 L195.9,108.1 M127.4,19.7 L132,21.7 L136.6,23.9 L141.1,26.3 L145.6,29 L150,31.8 L154.3,34.9 L158.4,38.2 L162.5,41.7 L166.4,45.3 L170.1,49.1 L173.7,53 L177,57 L180.2,61.1 L183.1,65.3 L185.7,69.6 L188.2,73.9 L190.3,78.2 L192.2,82.6 L193.8,86.9 L195.2,91.2 L196.2,95.4 L197,99.6 L197.4,103.7 L197.6,107.7 M129,19.3 L133.6,21.2 L138.2,23.4 L142.7,25.9 L147.2,28.5 L151.6,31.4 L155.9,34.5 L160.1,37.8 L164.1,41.3 L168,44.9 L171.8,48.7 L175.3,52.6 L178.7,56.6 L181.8,60.7 L184.7,64.9 L187.4,69.2 L189.8,73.5 L192,77.8 L193.9,82.2 L195.5,86.5 L196.9,90.8 L197.9,95.1 L198.6,99.3 L199.1,103.4 L199.2,107.4 M130.7,18.9 L135.3,20.8 L139.8,23 L144.4,25.5 L148.8,28.1 L153.2,31 L157.5,34.1 L161.7,37.4 L165.8,40.9 L169.7,44.5 L173.4,48.3 L177,52.2 L180.3,56.2 L183.5,60.3 L186.4,64.6 L189.1,68.8 L191.5,73.1 L193.7,77.5 L195.6,81.8 L197.2,86.1 L198.5,90.5 L199.6,94.7 L200.3,98.9 L200.8,103 L200.9,107"/>
<path class="ax" d="M20.2,32.2 L20.2,104.6 L104.5,138 L216.6,112.2"/>
<path class="ax" d="M20.2,104.6 L18.4,104.6 M20.2,92.5 L18.4,92.5 M20.2,80.5 L18.4,80.5 M20.2,68.4 L18.4,68.4 M20.2,56.4 L18.4,56.4 M20.2,44.3 L18.4,44.3 M20.2,32.2 L18.4,32.2 M20.2,104.6 L19,105.7 M34.2,110.2 L33,111.3 M48.3,115.7 L47.1,116.8 M62.3,121.3 L61.1,122.4 M76.4,126.9 L75.2,128 M90.4,132.4 L89.2,133.5 M104.5,138 L103.3,139.1 M216.6,112.2 L217.6,113.6 M197.9,116.5 L198.9,117.9 M179.2,120.8 L180.2,122.2 M160.5,125.1 L161.5,126.5 M141.9,129.4 L142.9,130.8 M123.2,133.7 L124.2,135.1 M104.5,138 L105.5,139.4"/>
<g class="tl"><text x="16.6" y="105.9" text-anchor="end">0</text><text x="16.6" y="93.8" text-anchor="end">0.2</text><text x="16.6" y="81.8" text-anchor="end">0.4</text><text x="16.6" y="69.7" text-anchor="end">0.6</text><text x="16.6" y="57.7" text-anchor="end">0.8</text><text x="16.6" y="45.6" text-anchor="end">1</text><text x="16.6" y="33.5" text-anchor="end">1.2</text><text x="17.2" y="109.8" text-anchor="end">0</text><text x="31.2" y="115.4" text-anchor="end">0.2</text><text x="45.3" y="120.9" text-anchor="end">0.4</text><text x="59.3" y="126.5" text-anchor="end">0.6</text><text x="73.4" y="132.1" text-anchor="end">0.8</text><text x="87.4" y="137.6" text-anchor="end">1</text><text x="101.5" y="143.2" text-anchor="end">1.2</text><text x="219.3" y="117.8">0</text><text x="200.6" y="122.1">0.2</text><text x="181.9" y="126.4">0.4</text><text x="163.2" y="130.7">0.6</text><text x="144.6" y="135">0.8</text><text x="125.9" y="139.3">1</text><text x="107.2" y="143.6">1.2</text></g>
<text class="at" x="60" y="142.8" text-anchor="middle">2<tspan class="sup" dy="-1.3">nd</tspan><tspan dy="1.3"> Objective</tspan></text>
<text class="at" x="156.7" y="144.5" text-anchor="middle">1<tspan class="sup" dy="-1.3">st</tspan><tspan dy="1.3"> Objective</tspan></text>
<text class="at" transform="translate(9.2,67) rotate(-90)" text-anchor="middle">3<tspan class="sup" dy="-1.3">rd</tspan><tspan dy="1.3"> Objective</tspan></text>
<g fill="#ff0000"><circle cx="131.5" cy="15.6" r="1.1"/><circle cx="131.5" cy="19.3" r="1.1"/><circle cx="124.8" cy="23.9" r="1.1"/><circle cx="117.8" cy="26.8" r="1.1"/><circle cx="105" cy="29.7" r="1.1"/><circle cx="91.6" cy="36.3" r="1.1"/><circle cx="118.1" cy="35.1" r="1.1"/><circle cx="117.1" cy="38.2" r="1.1"/><circle cx="140.8" cy="33.8" r="1.1"/><circle cx="142.5" cy="35.3" r="1.1"/><circle cx="148.8" cy="35.7" r="1.1"/><circle cx="155.3" cy="37.3" r="1.1"/><circle cx="153.9" cy="38.7" r="1.1"/><circle cx="89" cy="43.1" r="1.1"/><circle cx="88.7" cy="45.4" r="1.1"/><circle cx="83.6" cy="45.4" r="1.1"/><circle cx="86.1" cy="48.2" r="1.1"/><circle cx="81.7" cy="48.9" r="1.1"/><circle cx="105.5" cy="48.1" r="1.1"/><circle cx="90.5" cy="52.4" r="1.1"/><circle cx="89.6" cy="58.2" r="1.1"/><circle cx="94.4" cy="57.6" r="1.1"/><circle cx="126.3" cy="63.4" r="1.1"/><circle cx="160.8" cy="40.1" r="1.1"/><circle cx="163.1" cy="40.1" r="1.1"/><circle cx="160.8" cy="42.4" r="1.1"/><circle cx="165.6" cy="42" r="1.1"/><circle cx="165.6" cy="43.4" r="1.1"/><circle cx="155" cy="51.7" r="1.1"/><circle cx="165.6" cy="52.1" r="1.1"/><circle cx="156.3" cy="56.5" r="1.1"/><circle cx="141.4" cy="59.2" r="1.1"/><circle cx="150.7" cy="63.7" r="1.1"/><circle cx="150.1" cy="65.6" r="1.1"/><circle cx="154.4" cy="64.7" r="1.1"/><circle cx="142.4" cy="67.2" r="1.1"/><circle cx="161.2" cy="67" r="1.1"/><circle cx="162.7" cy="70.5" r="1.1"/><circle cx="150.1" cy="74.3" r="1.1"/><circle cx="149.2" cy="75.3" r="1.1"/><circle cx="187.9" cy="66.2" r="1.1"/><circle cx="124.2" cy="66.6" r="1.1"/><circle cx="67.3" cy="67" r="1.1"/><circle cx="90" cy="66.6" r="1.1"/><circle cx="96.3" cy="68.2" r="1.1"/><circle cx="68.3" cy="70.5" r="1.1"/><circle cx="88" cy="69.9" r="1.1"/><circle cx="81.3" cy="71.8" r="1.1"/><circle cx="74.1" cy="73" r="1.1"/><circle cx="69.7" cy="74.7" r="1.1"/><circle cx="45.5" cy="77.2" r="1.1"/><circle cx="43.9" cy="78.2" r="1.1"/><circle cx="57.1" cy="79.2" r="1.1"/><circle cx="71" cy="79.2" r="1.1"/><circle cx="84.7" cy="78.2" r="1.1"/><circle cx="83.8" cy="79.2" r="1.1"/><circle cx="71.2" cy="81.7" r="1.1"/><circle cx="102" cy="79.2" r="1.1"/><circle cx="103.5" cy="79.8" r="1.1"/><circle cx="115.1" cy="84.6" r="1.1"/><circle cx="54.8" cy="86.9" r="1.1"/><circle cx="55.7" cy="90.4" r="1.1"/><circle cx="103.1" cy="92.1" r="1.1"/><circle cx="105.4" cy="90.8" r="1.1"/><circle cx="105" cy="93.7" r="1.1"/><circle cx="53.6" cy="96.6" r="1.1"/><circle cx="57.5" cy="97" r="1.1"/><circle cx="105.4" cy="99.9" r="1.1"/><circle cx="38.9" cy="100.9" r="1.1"/><circle cx="41.9" cy="100.9" r="1.1"/><circle cx="79.3" cy="107.6" r="1.1"/><circle cx="81.8" cy="106.3" r="1.1"/><circle cx="80.7" cy="107.2" r="1.1"/><circle cx="120.9" cy="103.7" r="1.1"/><circle cx="118" cy="106.3" r="1.1"/><circle cx="119.9" cy="106.8" r="1.1"/><circle cx="126.7" cy="107.6" r="1.1"/><circle cx="144.2" cy="85.5" r="1.1"/><circle cx="143.6" cy="86.5" r="1.1"/><circle cx="150" cy="88" r="1.1"/><circle cx="153.8" cy="89.4" r="1.1"/><circle cx="177.4" cy="89" r="1.1"/><circle cx="176.5" cy="92.3" r="1.1"/><circle cx="172.8" cy="96.2" r="1.1"/><circle cx="182.9" cy="93.5" r="1.1"/><circle cx="185.4" cy="92.9" r="1.1"/><circle cx="186.3" cy="94.2" r="1.1"/><circle cx="184.8" cy="96.8" r="1.1"/><circle cx="194.5" cy="96.4" r="1.1"/><circle cx="150" cy="102" r="1.1"/><circle cx="153.8" cy="102" r="1.1"/><circle cx="156.4" cy="103.5" r="1.1"/><circle cx="162.2" cy="99.7" r="1.1"/><circle cx="140.9" cy="108.7" r="1.1"/><circle cx="137.8" cy="110.7" r="1.1"/><circle cx="143.6" cy="112.2" r="1.1"/><circle cx="202.6" cy="106.8" r="1.1"/></g>
<rect x="165" y="5.6" width="76.3" height="20.3" fill="#fff" stroke="none"/>
<path class="lg" d="M241.3,5.6 L165,5.6 L165,25.9 L241.3,25.9"/>
<circle cx="191.9" cy="11" r="1.05" fill="#fff" stroke="#7a7a7a" stroke-width="0.55"/>
<circle cx="191.9" cy="20.6" r="1.1" fill="#ff0000"/>
<text class="lt" x="198.3" y="13.1" textLength="19.4" lengthAdjust="spacingAndGlyphs">True PF</text>
<text class="lt" x="198.3" y="22.7" textLength="20.7" lengthAdjust="spacingAndGlyphs">GMOEO</text></g>
<g id="P2"><path class="grid" d="M441.6,79.2 L526.1,112.4 M441.6,79.2 L441.6,7 M429.2,82 L513.7,115.2 M429.2,82 L429.2,9.8 M416.8,84.8 L501.3,118 M416.8,84.8 L416.8,12.6 M404.4,87.6 L488.9,120.8 M404.4,87.6 L404.4,15.4 M392,90.4 L476.5,123.6 M392,90.4 L392,18.2 M379.6,93.3 L464.1,126.5 M379.6,93.3 L379.6,21 M367.2,96.1 L451.7,129.3 M367.2,96.1 L367.2,23.8 M354.8,98.9 L439.3,132.1 M354.8,98.9 L354.8,26.6 M342.4,101.7 L426.9,134.9 M342.4,101.7 L342.4,29.4 M330,104.5 L414.5,137.7 M330,104.5 L330,32.2 M441.6,79.2 L330,104.5 M441.6,79.2 L441.6,7 M462.7,87.5 L351.1,112.8 M462.7,87.5 L462.7,15.3 M483.9,95.8 L372.2,121.1 M483.9,95.8 L483.9,23.6 M505,104.1 L393.4,129.4 M505,104.1 L505,31.9 M526.1,112.4 L414.5,137.7 M526.1,112.4 L526.1,40.2 M330,104.5 L441.6,79.2 L526.1,112.4 M330,90 L441.6,64.8 L526.1,98 M330,75.6 L441.6,50.3 L526.1,83.5 M330,61.2 L441.6,35.9 L526.1,69.1 M330,46.7 L441.6,21.4 L526.1,54.6 M330,32.2 L441.6,7 L526.1,40.2"/>
<defs><linearGradient id="gP2" gradientUnits="userSpaceOnUse" x1="378" y1="0" x2="486" y2="0"><stop offset="0" stop-color="#b8b8b8"/><stop offset="0.2" stop-color="#cccccc"/><stop offset="0.45" stop-color="#dadada"/><stop offset="1" stop-color="#dadada"/></linearGradient></defs>
<polygon fill="url(#gP2)" points="379.6,93.3 379.6,92.5 379.7,91.7 379.8,90.9 379.9,90.2 380.1,89.4 380.4,88.6 380.6,87.8 381,86.9 381.3,86.1 381.7,85.3 382.2,84.5 382.6,83.6 383.2,82.8 383.7,82 384.3,81.1 385,80.3 385.6,79.4 386.4,78.6 387.1,77.8 387.9,76.9 388.7,76.1 389.6,75.2 390.5,74.4 391.4,73.6 392.4,72.8 393.4,71.9 394.5,71.1 395.5,70.3 396.6,69.5 397.8,68.7 398.9,67.9 400.1,67.1 401.3,66.4 402.6,65.6 403.9,64.8 405.2,64.1 406.5,63.3 407.8,62.6 409.2,61.9 410.6,61.2 412,60.5 413.5,59.8 414.9,59.2 416.4,58.5 417.9,57.9 419.4,57.3 420.9,56.6 422.4,56.1 424,55.5 425.6,54.9 427.1,54.4 428.7,53.9 430.3,53.3 431.9,52.9 433.5,52.4 435.1,51.9 436.7,51.5 438.4,51.1 440,50.7 441.6,50.3 442.7,50.7 443.8,51.2 444.9,51.7 446,52.2 447.1,52.7 448.2,53.3 449.3,53.8 450.4,54.4 451.5,55 452.5,55.6 453.6,56.2 454.7,56.8 455.7,57.5 456.7,58.2 457.8,58.9 458.8,59.6 459.8,60.3 460.8,61 461.8,61.7 462.7,62.5 463.7,63.2 464.6,64 465.5,64.8 466.4,65.6 467.3,66.4 468.2,67.2 469,68 469.9,68.8 470.7,69.7 471.5,70.5 472.2,71.3 473,72.2 473.7,73.1 474.4,73.9 475.1,74.8 475.8,75.6 476.4,76.5 477,77.4 477.6,78.3 478.2,79.1 478.7,80 479.2,80.9 479.7,81.7 480.2,82.6 480.6,83.5 481,84.3 481.4,85.2 481.8,86.1 482.1,86.9 482.4,87.8 482.7,88.6 482.9,89.4 483.1,90.3 483.3,91.1 483.5,91.9 483.6,92.7 483.7,93.5 483.8,94.3 483.8,95 483.9,95.8 482.2,96.2 480.5,96.5 478.9,96.9 477.1,97.2 475.4,97.5 473.6,97.8 471.8,98.1 470,98.4 468.2,98.6 466.4,98.9 464.5,99.1 462.6,99.3 460.7,99.5 458.8,99.7 456.9,99.9 455,100.1 453,100.2 451.1,100.4 449.1,100.5 447.2,100.6 445.2,100.7 443.3,100.8 441.3,100.8 439.3,100.9 437.4,100.9 435.4,100.9 433.5,101 431.5,100.9 429.6,100.9 427.6,100.9 425.7,100.8 423.8,100.8 421.9,100.7 420,100.6 418.1,100.5 416.3,100.3 414.4,100.2 412.6,100 410.8,99.9 409,99.7 407.3,99.5 405.5,99.3 403.8,99 402.1,98.8 400.5,98.5 398.9,98.3 397.3,98 395.7,97.7 394.2,97.4 392.6,97.1 391.2,96.7 389.7,96.4 388.3,96 387,95.7 385.6,95.3 384.4,94.9 383.1,94.5 381.9,94.1 380.7,93.7"/>
<path fill="none" stroke="#b8b8b8" stroke-width="0.6" d="M379.6,92.7 L379.7,92.8 L379.7,92.8 L379.8,92.8 L379.8,92.8 L379.8,92.9 L379.9,92.9 L379.9,92.9 L380,93 L380,93 L380.1,93 L380.1,93.1 L380.1,93.1 L380.2,93.1 L380.2,93.2 L380.2,93.2 L380.2,93.3 L380.3,93.3 L380.3,93.3 L380.3,93.4 L380.3,93.4 L380.3,93.4 L380.3,93.5 L380.3,93.5 L380.3,93.5 M379.6,92.2 L379.7,92.3 L379.8,92.3 L379.9,92.4 L380,92.4 L380.1,92.5 L380.2,92.5 L380.3,92.6 L380.4,92.7 L380.5,92.7 L380.5,92.8 L380.6,92.9 L380.7,92.9 L380.7,93 L380.8,93.1 L380.9,93.2 L380.9,93.2 L381,93.3 L381,93.4 L381,93.5 L381.1,93.5 L381.1,93.6 L381.1,93.7 L381.1,93.8 L381.1,93.8 M379.7,91.7 L379.8,91.8 L380,91.9 L380.1,91.9 L380.3,92 L380.4,92.1 L380.5,92.2 L380.7,92.3 L380.8,92.4 L380.9,92.5 L381,92.6 L381.1,92.7 L381.2,92.8 L381.3,92.9 L381.4,93 L381.5,93.1 L381.6,93.2 L381.7,93.3 L381.7,93.5 L381.8,93.6 L381.8,93.7 L381.9,93.8 L381.9,93.9 L381.9,94 L381.9,94.1 M379.8,91.2 L379.9,91.3 L380.1,91.4 L380.3,91.5 L380.5,91.6 L380.7,91.7 L380.9,91.8 L381.1,91.9 L381.2,92.1 L381.4,92.2 L381.5,92.3 L381.7,92.5 L381.8,92.6 L382,92.8 L382.1,92.9 L382.2,93.1 L382.3,93.2 L382.4,93.4 L382.5,93.5 L382.5,93.7 L382.6,93.8 L382.6,94 L382.7,94.1 L382.7,94.2 L382.7,94.4 M379.8,90.7 L380.1,90.8 L380.3,90.9 L380.6,91 L380.8,91.1 L381,91.3 L381.2,91.4 L381.5,91.6 L381.7,91.7 L381.9,91.9 L382.1,92.1 L382.3,92.3 L382.4,92.4 L382.6,92.6 L382.8,92.8 L382.9,93 L383,93.2 L383.1,93.4 L383.2,93.6 L383.3,93.8 L383.4,93.9 L383.4,94.1 L383.5,94.3 L383.5,94.5 L383.5,94.6 M379.9,90.2 L380.2,90.3 L380.5,90.4 L380.8,90.6 L381.1,90.7 L381.4,90.9 L381.6,91.1 L381.9,91.2 L382.1,91.4 L382.4,91.6 L382.6,91.8 L382.9,92.1 L383.1,92.3 L383.3,92.5 L383.4,92.7 L383.6,92.9 L383.8,93.2 L383.9,93.4 L384,93.6 L384.1,93.9 L384.2,94.1 L384.3,94.3 L384.3,94.5 L384.3,94.7 L384.4,94.9 M380.1,89.6 L380.4,89.8 L380.7,89.9 L381.1,90.1 L381.4,90.3 L381.7,90.5 L382,90.7 L382.3,90.9 L382.6,91.1 L382.9,91.3 L383.2,91.6 L383.5,91.8 L383.7,92.1 L383.9,92.3 L384.1,92.6 L384.3,92.9 L384.5,93.1 L384.7,93.4 L384.8,93.7 L384.9,93.9 L385,94.2 L385.1,94.4 L385.2,94.7 L385.2,94.9 L385.2,95.2 M380.2,89.1 L380.6,89.3 L381,89.4 L381.4,89.6 L381.7,89.8 L382.1,90.1 L382.5,90.3 L382.8,90.5 L383.1,90.8 L383.5,91.1 L383.8,91.3 L384.1,91.6 L384.4,91.9 L384.6,92.2 L384.9,92.5 L385.1,92.8 L385.3,93.1 L385.5,93.4 L385.6,93.7 L385.8,94 L385.9,94.3 L386,94.6 L386,94.9 L386.1,95.2 L386.1,95.4 M380.4,88.6 L380.8,88.7 L381.2,88.9 L381.7,89.2 L382.1,89.4 L382.5,89.6 L382.9,89.9 L383.3,90.2 L383.7,90.5 L384,90.8 L384.4,91.1 L384.7,91.4 L385,91.7 L385.3,92.1 L385.6,92.4 L385.9,92.7 L386.1,93.1 L386.3,93.4 L386.5,93.8 L386.6,94.1 L386.7,94.4 L386.8,94.7 L386.9,95.1 L387,95.4 L387,95.7 M380.5,88 L381,88.2 L381.5,88.4 L382,88.7 L382.4,88.9 L382.9,89.2 L383.3,89.5 L383.8,89.8 L384.2,90.1 L384.6,90.5 L385,90.8 L385.4,91.2 L385.7,91.5 L386.1,91.9 L386.4,92.3 L386.6,92.7 L386.9,93 L387.1,93.4 L387.3,93.8 L387.5,94.2 L387.6,94.5 L387.7,94.9 L387.8,95.2 L387.9,95.6 L387.9,95.9 M380.7,87.5 L381.3,87.7 L381.8,87.9 L382.3,88.2 L382.8,88.5 L383.3,88.8 L383.8,89.1 L384.3,89.5 L384.8,89.8 L385.2,90.2 L385.6,90.6 L386.1,90.9 L386.4,91.3 L386.8,91.7 L387.1,92.2 L387.4,92.6 L387.7,93 L388,93.4 L388.2,93.8 L388.4,94.2 L388.5,94.6 L388.6,95 L388.7,95.4 L388.8,95.8 L388.8,96.2 M381,86.9 L381.5,87.2 L382.1,87.4 L382.7,87.7 L383.2,88 L383.8,88.4 L384.3,88.7 L384.8,89.1 L385.3,89.5 L385.8,89.9 L386.3,90.3 L386.7,90.7 L387.2,91.1 L387.6,91.6 L387.9,92 L388.3,92.5 L388.6,92.9 L388.8,93.4 L389.1,93.8 L389.3,94.3 L389.4,94.7 L389.6,95.2 L389.7,95.6 L389.7,96 L389.7,96.4 M381.2,86.4 L381.8,86.7 L382.4,86.9 L383,87.2 L383.6,87.6 L384.2,87.9 L384.8,88.3 L385.4,88.7 L385.9,89.1 L386.5,89.6 L387,90 L387.5,90.5 L387.9,90.9 L388.3,91.4 L388.7,91.9 L389.1,92.4 L389.4,92.9 L389.7,93.4 L390,93.9 L390.2,94.3 L390.4,94.8 L390.5,95.3 L390.6,95.7 L390.7,96.2 L390.7,96.6 M381.4,85.8 L382.1,86.1 L382.8,86.4 L383.4,86.8 L384.1,87.1 L384.7,87.5 L385.4,87.9 L386,88.3 L386.6,88.8 L387.1,89.3 L387.7,89.7 L388.2,90.2 L388.7,90.7 L389.1,91.2 L389.6,91.8 L389.9,92.3 L390.3,92.8 L390.6,93.3 L390.9,93.9 L391.1,94.4 L391.3,94.9 L391.5,95.4 L391.6,95.9 L391.6,96.4 L391.7,96.9 M381.7,85.3 L382.4,85.6 L383.1,85.9 L383.8,86.3 L384.5,86.7 L385.2,87.1 L385.9,87.5 L386.5,88 L387.2,88.4 L387.8,88.9 L388.4,89.5 L388.9,90 L389.4,90.5 L389.9,91.1 L390.4,91.6 L390.8,92.2 L391.2,92.8 L391.5,93.3 L391.8,93.9 L392.1,94.4 L392.3,95 L392.4,95.5 L392.6,96.1 L392.6,96.6 L392.6,97.1 M382,84.7 L382.8,85.1 L383.5,85.4 L384.3,85.8 L385,86.2 L385.7,86.6 L386.5,87.1 L387.2,87.6 L387.8,88.1 L388.5,88.6 L389.1,89.2 L389.7,89.7 L390.2,90.3 L390.8,90.9 L391.2,91.5 L391.7,92.1 L392.1,92.7 L392.4,93.3 L392.8,93.9 L393,94.5 L393.3,95.1 L393.4,95.6 L393.5,96.2 L393.6,96.8 L393.6,97.3 M382.3,84.2 L383.1,84.5 L383.9,84.9 L384.7,85.3 L385.5,85.7 L386.3,86.2 L387,86.7 L387.8,87.2 L388.5,87.8 L389.2,88.3 L389.8,88.9 L390.5,89.5 L391,90.1 L391.6,90.7 L392.1,91.3 L392.6,92 L393,92.6 L393.4,93.3 L393.7,93.9 L394,94.5 L394.2,95.1 L394.4,95.8 L394.6,96.4 L394.6,96.9 L394.7,97.5 M382.6,83.6 L383.5,84 L384.3,84.4 L385.2,84.8 L386,85.3 L386.8,85.8 L387.6,86.3 L388.4,86.8 L389.2,87.4 L389.9,88 L390.6,88.6 L391.2,89.2 L391.9,89.9 L392.5,90.5 L393,91.2 L393.5,91.9 L393.9,92.5 L394.3,93.2 L394.7,93.9 L395,94.6 L395.2,95.2 L395.4,95.9 L395.6,96.5 L395.7,97.1 L395.7,97.7 M383,83.1 L383.9,83.5 L384.8,83.9 L385.7,84.3 L386.5,84.8 L387.4,85.3 L388.2,85.9 L389.1,86.4 L389.9,87 L390.6,87.7 L391.4,88.3 L392,89 L392.7,89.7 L393.3,90.3 L393.9,91 L394.4,91.8 L394.9,92.5 L395.3,93.2 L395.7,93.9 L396,94.6 L396.3,95.3 L396.5,96 L396.6,96.6 L396.7,97.3 L396.7,97.9 M383.3,82.5 L384.3,82.9 L385.2,83.3 L386.2,83.8 L387.1,84.3 L388,84.9 L388.9,85.4 L389.7,86.1 L390.6,86.7 L391.4,87.3 L392.1,88 L392.9,88.7 L393.6,89.4 L394.2,90.2 L394.8,90.9 L395.4,91.6 L395.9,92.4 L396.3,93.1 L396.7,93.9 L397,94.6 L397.3,95.3 L397.5,96 L397.7,96.7 L397.8,97.4 L397.8,98.1 M383.7,82 L384.7,82.4 L385.7,82.8 L386.7,83.3 L387.6,83.9 L388.6,84.4 L389.5,85 L390.4,85.7 L391.3,86.3 L392.1,87 L392.9,87.7 L393.7,88.5 L394.4,89.2 L395.1,90 L395.7,90.7 L396.3,91.5 L396.8,92.3 L397.3,93.1 L397.7,93.9 L398.1,94.6 L398.3,95.4 L398.6,96.1 L398.7,96.9 L398.8,97.6 L398.9,98.3 M384.1,81.4 L385.1,81.8 L386.2,82.3 L387.2,82.8 L388.2,83.4 L389.2,84 L390.2,84.6 L391.1,85.3 L392,86 L392.9,86.7 L393.7,87.4 L394.6,88.2 L395.3,89 L396,89.8 L396.7,90.6 L397.3,91.4 L397.8,92.2 L398.3,93 L398.7,93.8 L399.1,94.6 L399.4,95.4 L399.6,96.2 L399.8,97 L399.9,97.7 L399.9,98.5 M384.5,80.8 L385.6,81.3 L386.7,81.8 L387.7,82.3 L388.8,82.9 L389.8,83.5 L390.8,84.2 L391.8,84.9 L392.8,85.6 L393.7,86.4 L394.6,87.1 L395.4,87.9 L396.2,88.7 L396.9,89.6 L397.6,90.4 L398.3,91.3 L398.8,92.1 L399.3,93 L399.8,93.8 L400.2,94.7 L400.5,95.5 L400.7,96.3 L400.9,97.1 L401,97.9 L401,98.6 M385,80.3 L386.1,80.8 L387.2,81.3 L388.3,81.8 L389.4,82.4 L390.5,83.1 L391.5,83.8 L392.6,84.5 L393.6,85.2 L394.5,86 L395.4,86.8 L396.3,87.7 L397.1,88.5 L397.9,89.4 L398.6,90.2 L399.2,91.1 L399.8,92 L400.4,92.9 L400.8,93.8 L401.2,94.7 L401.6,95.5 L401.8,96.4 L402,97.2 L402.1,98 L402.1,98.8 M385.4,79.7 L386.6,80.2 L387.7,80.7 L388.9,81.3 L390,82 L391.1,82.6 L392.2,83.3 L393.3,84.1 L394.3,84.9 L395.3,85.7 L396.3,86.5 L397.2,87.4 L398,88.3 L398.8,89.2 L399.6,90.1 L400.3,91 L400.9,91.9 L401.4,92.8 L401.9,93.7 L402.3,94.7 L402.7,95.6 L402.9,96.4 L403.1,97.3 L403.2,98.1 L403.3,99 M385.9,79.2 L387.1,79.7 L388.3,80.2 L389.5,80.8 L390.7,81.5 L391.8,82.2 L393,82.9 L394.1,83.7 L395.1,84.5 L396.2,85.3 L397.1,86.2 L398.1,87.1 L399,88 L399.8,89 L400.6,89.9 L401.3,90.8 L401.9,91.8 L402.5,92.8 L403,93.7 L403.4,94.7 L403.8,95.6 L404,96.5 L404.2,97.4 L404.4,98.3 L404.4,99.1 M386.4,78.6 L387.6,79.1 L388.9,79.7 L390.1,80.3 L391.3,81 L392.5,81.7 L393.7,82.5 L394.8,83.3 L395.9,84.1 L397,85 L398,85.9 L399,86.8 L399.9,87.8 L400.8,88.7 L401.6,89.7 L402.3,90.7 L403,91.7 L403.6,92.7 L404.1,93.7 L404.5,94.6 L404.9,95.6 L405.2,96.6 L405.4,97.5 L405.5,98.4 L405.5,99.3 M386.9,78 L388.2,78.6 L389.4,79.2 L390.7,79.8 L392,80.5 L393.2,81.3 L394.4,82.1 L395.6,82.9 L396.8,83.8 L397.9,84.7 L398.9,85.6 L399.9,86.5 L400.9,87.5 L401.8,88.5 L402.6,89.5 L403.3,90.6 L404,91.6 L404.6,92.6 L405.2,93.6 L405.6,94.6 L406,95.6 L406.3,96.6 L406.5,97.6 L406.6,98.5 L406.7,99.4 M387.4,77.5 L388.7,78 L390,78.7 L391.4,79.3 L392.7,80 L394,80.8 L395.2,81.6 L396.4,82.5 L397.6,83.4 L398.8,84.3 L399.8,85.3 L400.9,86.3 L401.9,87.3 L402.8,88.3 L403.6,89.3 L404.4,90.4 L405.1,91.5 L405.7,92.5 L406.3,93.6 L406.8,94.6 L407.2,95.6 L407.5,96.7 L407.7,97.6 L407.8,98.6 L407.9,99.5 M387.9,76.9 L389.3,77.5 L390.7,78.1 L392,78.8 L393.4,79.6 L394.7,80.4 L396,81.2 L397.2,82.1 L398.5,83 L399.6,84 L400.8,85 L401.8,86 L402.8,87 L403.8,88.1 L404.7,89.2 L405.5,90.2 L406.2,91.3 L406.9,92.4 L407.4,93.5 L407.9,94.6 L408.3,95.6 L408.6,96.7 L408.9,97.7 L409,98.7 L409,99.7 M388.5,76.4 L389.9,77 L391.3,77.6 L392.7,78.3 L394.1,79.1 L395.5,79.9 L396.8,80.8 L398.1,81.7 L399.3,82.6 L400.5,83.6 L401.7,84.6 L402.8,85.7 L403.8,86.8 L404.8,87.9 L405.7,89 L406.5,90.1 L407.3,91.2 L408,92.3 L408.6,93.5 L409.1,94.6 L409.5,95.7 L409.8,96.7 L410,97.8 L410.2,98.8 L410.2,99.8 M389,75.8 L390.5,76.4 L391.9,77.1 L393.4,77.8 L394.8,78.6 L396.2,79.4 L397.6,80.3 L398.9,81.3 L400.2,82.3 L401.5,83.3 L402.7,84.3 L403.8,85.4 L404.9,86.5 L405.9,87.6 L406.8,88.8 L407.6,89.9 L408.4,91.1 L409.1,92.2 L409.7,93.4 L410.2,94.5 L410.6,95.7 L411,96.8 L411.2,97.8 L411.4,98.9 L411.4,99.9 M389.6,75.2 L391.1,75.9 L392.6,76.6 L394.1,77.3 L395.6,78.1 L397,79 L398.4,79.9 L399.8,80.9 L401.1,81.9 L402.4,82.9 L403.6,84 L404.8,85.1 L405.9,86.3 L406.9,87.4 L407.9,88.6 L408.7,89.8 L409.5,90.9 L410.2,92.1 L410.9,93.3 L411.4,94.5 L411.8,95.6 L412.2,96.8 L412.4,97.9 L412.6,99 L412.6,100 M390.2,74.7 L391.7,75.3 L393.3,76 L394.8,76.8 L396.3,77.6 L397.8,78.5 L399.2,79.5 L400.6,80.5 L402,81.5 L403.3,82.6 L404.6,83.7 L405.8,84.8 L406.9,86 L408,87.2 L408.9,88.4 L409.8,89.6 L410.7,90.8 L411.4,92 L412,93.2 L412.6,94.4 L413,95.6 L413.4,96.8 L413.6,97.9 L413.8,99.1 L413.8,100.1 M390.8,74.1 L392.4,74.8 L394,75.5 L395.5,76.3 L397.1,77.2 L398.6,78.1 L400.1,79 L401.5,80.1 L402.9,81.1 L404.3,82.2 L405.6,83.4 L406.8,84.5 L407.9,85.7 L409,86.9 L410,88.2 L411,89.4 L411.8,90.7 L412.5,91.9 L413.2,93.2 L413.8,94.4 L414.2,95.6 L414.6,96.8 L414.8,98 L415,99.1 L415,100.2 M391.4,73.6 L393.1,74.3 L394.7,75 L396.3,75.8 L397.9,76.7 L399.4,77.6 L400.9,78.6 L402.4,79.7 L403.9,80.7 L405.2,81.9 L406.6,83 L407.8,84.2 L409,85.5 L410.1,86.7 L411.1,88 L412.1,89.2 L412.9,90.5 L413.7,91.8 L414.4,93.1 L415,94.4 L415.4,95.6 L415.8,96.8 L416.1,98 L416.2,99.2 L416.3,100.3 M392.1,73 L393.7,73.7 L395.4,74.5 L397,75.3 L398.7,76.2 L400.3,77.2 L401.8,78.2 L403.3,79.2 L404.8,80.4 L406.2,81.5 L407.6,82.7 L408.8,83.9 L410.1,85.2 L411.2,86.5 L412.3,87.8 L413.2,89.1 L414.1,90.4 L414.9,91.7 L415.6,93 L416.2,94.3 L416.6,95.6 L417,96.8 L417.3,98.1 L417.5,99.3 L417.5,100.4 M392.7,72.5 L394.4,73.2 L396.1,74 L397.8,74.8 L399.5,75.7 L401.1,76.7 L402.7,77.7 L404.2,78.8 L405.7,80 L407.2,81.2 L408.6,82.4 L409.9,83.6 L411.1,84.9 L412.3,86.2 L413.4,87.6 L414.4,88.9 L415.3,90.2 L416.1,91.6 L416.8,92.9 L417.4,94.2 L417.9,95.5 L418.3,96.8 L418.5,98.1 L418.7,99.3 L418.8,100.5 M393.4,71.9 L395.2,72.7 L396.9,73.5 L398.6,74.3 L400.3,75.3 L402,76.3 L403.6,77.3 L405.2,78.4 L406.7,79.6 L408.2,80.8 L409.6,82.1 L410.9,83.3 L412.2,84.6 L413.4,86 L414.5,87.3 L415.5,88.7 L416.4,90.1 L417.3,91.4 L418,92.8 L418.6,94.2 L419.1,95.5 L419.5,96.8 L419.8,98.1 L419.9,99.4 L420,100.6 M394.1,71.4 L395.9,72.1 L397.7,72.9 L399.4,73.8 L401.1,74.8 L402.8,75.8 L404.5,76.9 L406.1,78 L407.7,79.2 L409.2,80.4 L410.6,81.7 L412,83 L413.3,84.4 L414.5,85.7 L415.7,87.1 L416.7,88.5 L417.6,89.9 L418.5,91.3 L419.2,92.7 L419.8,94.1 L420.3,95.5 L420.7,96.8 L421,98.1 L421.2,99.4 L421.3,100.6 M394.8,70.8 L396.6,71.6 L398.4,72.4 L400.2,73.3 L402,74.3 L403.7,75.4 L405.4,76.5 L407.1,77.6 L408.7,78.8 L410.2,80.1 L411.7,81.4 L413.1,82.7 L414.4,84.1 L415.6,85.5 L416.8,86.9 L417.9,88.3 L418.8,89.8 L419.7,91.2 L420.4,92.6 L421.1,94 L421.6,95.4 L422,96.8 L422.3,98.1 L422.5,99.4 L422.5,100.7 M395.5,70.3 L397.4,71.1 L399.2,71.9 L401,72.8 L402.8,73.8 L404.6,74.9 L406.3,76 L408,77.2 L409.7,78.5 L411.2,79.7 L412.7,81.1 L414.2,82.4 L415.5,83.8 L416.8,85.2 L418,86.7 L419,88.1 L420,89.6 L420.9,91.1 L421.6,92.5 L422.3,93.9 L422.8,95.4 L423.3,96.8 L423.6,98.1 L423.7,99.5 L423.8,100.8 M396.3,69.8 L398.1,70.6 L400,71.4 L401.9,72.4 L403.7,73.4 L405.5,74.5 L407.3,75.6 L409,76.8 L410.7,78.1 L412.3,79.4 L413.8,80.7 L415.3,82.1 L416.6,83.5 L417.9,85 L419.1,86.5 L420.2,87.9 L421.2,89.4 L422.1,90.9 L422.9,92.4 L423.5,93.9 L424.1,95.3 L424.5,96.7 L424.8,98.1 L425,99.5 L425.1,100.8 M397,69.2 L398.9,70 L400.8,70.9 L402.7,71.9 L404.6,72.9 L406.4,74 L408.2,75.2 L410,76.4 L411.7,77.7 L413.3,79 L414.9,80.4 L416.4,81.8 L417.8,83.3 L419.1,84.7 L420.3,86.2 L421.4,87.7 L422.4,89.3 L423.3,90.8 L424.1,92.3 L424.8,93.8 L425.4,95.3 L425.8,96.7 L426.1,98.1 L426.3,99.5 L426.4,100.8 M397.8,68.7 L399.7,69.5 L401.7,70.4 L403.6,71.4 L405.5,72.4 L407.4,73.6 L409.2,74.8 L411,76 L412.7,77.3 L414.4,78.7 L415.9,80.1 L417.5,81.5 L418.9,83 L420.2,84.5 L421.5,86 L422.6,87.5 L423.6,89.1 L424.6,90.6 L425.4,92.2 L426,93.7 L426.6,95.2 L427.1,96.7 L427.4,98.1 L427.6,99.5 L427.6,100.9 M398.5,68.2 L400.5,69 L402.5,69.9 L404.5,70.9 L406.4,72 L408.3,73.1 L410.2,74.3 L412,75.6 L413.7,76.9 L415.4,78.3 L417,79.7 L418.6,81.2 L420,82.7 L421.4,84.2 L422.6,85.8 L423.8,87.3 L424.9,88.9 L425.8,90.5 L426.6,92 L427.3,93.6 L427.9,95.1 L428.3,96.6 L428.7,98.1 L428.9,99.5 L428.9,100.9 M399.3,67.6 L401.3,68.5 L403.3,69.4 L405.3,70.4 L407.3,71.5 L409.2,72.7 L411.1,73.9 L413,75.2 L414.8,76.6 L416.5,78 L418.1,79.4 L419.7,80.9 L421.2,82.4 L422.5,84 L423.8,85.6 L425,87.1 L426.1,88.7 L427,90.3 L427.9,91.9 L428.6,93.5 L429.2,95 L429.6,96.6 L430,98.1 L430.1,99.5 L430.2,100.9 M400.1,67.1 L402.2,68 L404.2,68.9 L406.2,69.9 L408.2,71.1 L410.2,72.2 L412.1,73.5 L414,74.8 L415.8,76.2 L417.6,77.6 L419.2,79.1 L420.8,80.6 L422.3,82.1 L423.7,83.7 L425,85.3 L426.2,86.9 L427.3,88.6 L428.3,90.2 L429.1,91.8 L429.8,93.4 L430.4,95 L430.9,96.5 L431.2,98 L431.4,99.5 L431.5,100.9 M400.9,66.6 L403,67.5 L405.1,68.4 L407.1,69.5 L409.2,70.6 L411.2,71.8 L413.1,73.1 L415,74.4 L416.9,75.8 L418.6,77.2 L420.3,78.7 L421.9,80.3 L423.5,81.9 L424.9,83.5 L426.2,85.1 L427.4,86.7 L428.5,88.4 L429.5,90 L430.4,91.6 L431.1,93.3 L431.7,94.9 L432.2,96.5 L432.5,98 L432.7,99.5 L432.8,100.9 M401.7,66.1 L403.9,67 L406,67.9 L408.1,69 L410.1,70.1 L412.2,71.4 L414.1,72.6 L416.1,74 L417.9,75.4 L419.7,76.9 L421.4,78.4 L423.1,80 L424.6,81.6 L426.1,83.2 L427.4,84.8 L428.7,86.5 L429.8,88.2 L430.8,89.8 L431.6,91.5 L432.4,93.2 L433,94.8 L433.5,96.4 L433.8,98 L434,99.5 L434.1,101 M402.6,65.6 L404.7,66.5 L406.9,67.5 L409,68.5 L411.1,69.7 L413.1,70.9 L415.1,72.2 L417.1,73.6 L419,75 L420.8,76.5 L422.6,78.1 L424.2,79.7 L425.8,81.3 L427.3,82.9 L428.6,84.6 L429.9,86.3 L431,88 L432,89.7 L432.9,91.4 L433.7,93 L434.3,94.7 L434.8,96.3 L435.1,97.9 L435.3,99.4 L435.4,100.9 M403.4,65.1 L405.6,66 L407.8,67 L409.9,68.1 L412,69.2 L414.1,70.5 L416.2,71.8 L418.2,73.2 L420.1,74.7 L421.9,76.2 L423.7,77.7 L425.4,79.4 L427,81 L428.5,82.7 L429.8,84.4 L431.1,86.1 L432.3,87.8 L433.3,89.5 L434.2,91.2 L435,92.9 L435.6,94.6 L436.1,96.2 L436.4,97.8 L436.7,99.4 L436.7,100.9 M404.3,64.6 L406.5,65.5 L408.7,66.5 L410.9,67.6 L413,68.8 L415.1,70.1 L417.2,71.4 L419.2,72.8 L421.2,74.3 L423,75.8 L424.8,77.4 L426.5,79 L428.1,80.7 L429.7,82.4 L431.1,84.1 L432.3,85.9 L433.5,87.6 L434.6,89.3 L435.5,91.1 L436.2,92.8 L436.9,94.5 L437.4,96.2 L437.7,97.8 L438,99.4 L438,100.9 M405.2,64.1 L407.4,65 L409.6,66 L411.8,67.2 L414,68.4 L416.1,69.6 L418.2,71 L420.3,72.4 L422.2,73.9 L424.1,75.5 L426,77.1 L427.7,78.7 L429.3,80.4 L430.9,82.1 L432.3,83.9 L433.6,85.6 L434.8,87.4 L435.8,89.2 L436.7,90.9 L437.5,92.7 L438.2,94.4 L438.7,96.1 L439,97.7 L439.3,99.3 L439.3,100.9 M406,63.6 L408.3,64.5 L410.6,65.6 L412.8,66.7 L415,67.9 L417.2,69.2 L419.3,70.6 L421.3,72 L423.3,73.6 L425.3,75.1 L427.1,76.8 L428.9,78.4 L430.5,80.1 L432.1,81.9 L433.5,83.6 L434.8,85.4 L436,87.2 L437.1,89 L438,90.8 L438.8,92.5 L439.5,94.3 L440,96 L440.4,97.7 L440.6,99.3 L440.6,100.9 M406.9,63.1 L409.2,64.1 L411.5,65.1 L413.8,66.2 L416,67.5 L418.2,68.8 L420.3,70.2 L422.4,71.7 L424.4,73.2 L426.4,74.8 L428.3,76.4 L430,78.1 L431.7,79.8 L433.3,81.6 L434.7,83.4 L436.1,85.2 L437.3,87 L438.3,88.8 L439.3,90.6 L440.1,92.4 L440.8,94.2 L441.3,95.9 L441.7,97.6 L441.9,99.2 L442,100.8 M407.8,62.6 L410.1,63.6 L412.5,64.6 L414.7,65.8 L417,67 L419.2,68.4 L421.4,69.8 L423.5,71.3 L425.5,72.8 L427.5,74.4 L429.4,76.1 L431.2,77.8 L432.9,79.6 L434.5,81.3 L435.9,83.1 L437.3,85 L438.5,86.8 L439.6,88.6 L440.6,90.4 L441.4,92.2 L442.1,94 L442.6,95.8 L443,97.5 L443.2,99.2 L443.3,100.8 M408.7,62.1 L411.1,63.1 L413.4,64.2 L415.7,65.4 L418,66.6 L420.3,68 L422.5,69.4 L424.6,70.9 L426.7,72.5 L428.7,74.1 L430.6,75.8 L432.4,77.5 L434.1,79.3 L435.7,81.1 L437.2,82.9 L438.5,84.7 L439.8,86.6 L440.9,88.4 L441.8,90.3 L442.7,92.1 L443.4,93.9 L443.9,95.7 L444.3,97.4 L444.5,99.1 L444.6,100.7 M409.7,61.7 L412,62.7 L414.4,63.7 L416.7,64.9 L419,66.2 L421.3,67.6 L423.5,69 L425.7,70.5 L427.8,72.1 L429.8,73.7 L431.7,75.4 L433.5,77.2 L435.3,79 L436.9,80.8 L438.4,82.6 L439.8,84.5 L441,86.4 L442.1,88.2 L443.1,90.1 L444,92 L444.6,93.8 L445.2,95.6 L445.6,97.3 L445.8,99 L445.9,100.7 M410.6,61.2 L413,62.2 L415.4,63.3 L417.7,64.5 L420.1,65.8 L422.4,67.1 L424.6,68.6 L426.8,70.1 L428.9,71.7 L430.9,73.4 L432.9,75.1 L434.7,76.9 L436.5,78.7 L438.1,80.5 L439.6,82.4 L441,84.3 L442.3,86.2 L443.4,88.1 L444.4,89.9 L445.2,91.8 L445.9,93.6 L446.5,95.4 L446.9,97.2 L447.1,98.9 L447.2,100.6 M411.5,60.7 L414,61.7 L416.4,62.8 L418.8,64.1 L421.1,65.4 L423.4,66.7 L425.7,68.2 L427.9,69.8 L430,71.4 L432.1,73.1 L434,74.8 L435.9,76.6 L437.7,78.4 L439.3,80.3 L440.9,82.1 L442.3,84 L443.5,85.9 L444.7,87.9 L445.7,89.8 L446.5,91.6 L447.2,93.5 L447.8,95.3 L448.2,97.1 L448.4,98.8 L448.5,100.5 M412.5,60.3 L414.9,61.3 L417.4,62.4 L419.8,63.6 L422.1,64.9 L424.5,66.3 L426.8,67.8 L429,69.4 L431.1,71 L433.2,72.7 L435.2,74.5 L437.1,76.3 L438.9,78.1 L440.5,80 L442.1,81.9 L443.5,83.8 L444.8,85.7 L446,87.7 L447,89.6 L447.8,91.5 L448.5,93.4 L449.1,95.2 L449.5,97 L449.7,98.8 L449.8,100.5 M413.5,59.8 L415.9,60.9 L418.4,62 L420.8,63.2 L423.2,64.5 L425.6,66 L427.9,67.5 L430.1,69 L432.3,70.7 L434.4,72.4 L436.4,74.2 L438.3,76 L440.1,77.8 L441.8,79.7 L443.3,81.6 L444.8,83.6 L446.1,85.5 L447.2,87.5 L448.2,89.4 L449.1,91.3 L449.8,93.2 L450.4,95.1 L450.8,96.9 L451,98.7 L451.1,100.4 M414.4,59.4 L416.9,60.4 L419.4,61.6 L421.8,62.8 L424.2,64.1 L426.6,65.6 L429,67.1 L431.2,68.7 L433.4,70.3 L435.5,72.1 L437.5,73.8 L439.5,75.7 L441.3,77.5 L443,79.5 L444.5,81.4 L446,83.3 L447.3,85.3 L448.5,87.3 L449.5,89.2 L450.4,91.1 L451.1,93.1 L451.7,94.9 L452.1,96.8 L452.3,98.6 L452.4,100.3 M415.4,58.9 L417.9,60 L420.4,61.1 L422.9,62.4 L425.3,63.7 L427.7,65.2 L430.1,66.7 L432.3,68.3 L434.5,70 L436.7,71.7 L438.7,73.5 L440.6,75.4 L442.5,77.3 L444.2,79.2 L445.8,81.1 L447.2,83.1 L448.6,85.1 L449.7,87 L450.8,89 L451.7,91 L452.4,92.9 L453,94.8 L453.4,96.6 L453.6,98.4 L453.7,100.2 M416.4,58.5 L418.9,59.6 L421.4,60.7 L423.9,62 L426.4,63.3 L428.8,64.8 L431.2,66.3 L433.5,67.9 L435.7,69.6 L437.8,71.4 L439.9,73.2 L441.8,75.1 L443.7,77 L445.4,78.9 L447,80.9 L448.5,82.9 L449.8,84.8 L451,86.8 L452,88.8 L452.9,90.8 L453.7,92.7 L454.2,94.6 L454.6,96.5 L454.9,98.3 L455,100.1 M417.4,58.1 L419.9,59.1 L422.5,60.3 L425,61.6 L427.4,63 L429.9,64.4 L432.3,66 L434.6,67.6 L436.8,69.3 L439,71.1 L441.1,72.9 L443,74.8 L444.9,76.7 L446.6,78.6 L448.2,80.6 L449.7,82.6 L451.1,84.6 L452.3,86.6 L453.3,88.6 L454.2,90.6 L454.9,92.6 L455.5,94.5 L455.9,96.4 L456.2,98.2 L456.3,100 M418.4,57.7 L420.9,58.7 L423.5,59.9 L426,61.2 L428.5,62.6 L431,64 L433.4,65.6 L435.7,67.2 L438,69 L440.1,70.7 L442.2,72.6 L444.2,74.5 L446.1,76.4 L447.8,78.4 L449.5,80.4 L450.9,82.4 L452.3,84.4 L453.5,86.4 L454.6,88.4 L455.5,90.4 L456.2,92.4 L456.8,94.3 L457.2,96.2 L457.5,98.1 L457.5,99.9 M419.4,57.3 L422,58.3 L424.5,59.5 L427.1,60.8 L429.6,62.2 L432.1,63.7 L434.5,65.2 L436.8,66.9 L439.1,68.6 L441.3,70.4 L443.4,72.3 L445.4,74.2 L447.3,76.1 L449,78.1 L450.7,80.1 L452.2,82.1 L453.5,84.2 L454.8,86.2 L455.8,88.2 L456.7,90.2 L457.5,92.2 L458.1,94.2 L458.5,96.1 L458.7,97.9 L458.8,99.7 M420.4,56.9 L423,57.9 L425.6,59.1 L428.1,60.4 L430.7,61.8 L433.2,63.3 L435.6,64.9 L438,66.6 L440.2,68.3 L442.5,70.1 L444.6,72 L446.6,73.9 L448.5,75.8 L450.2,77.8 L451.9,79.9 L453.4,81.9 L454.8,83.9 L456,86 L457.1,88 L458,90 L458.7,92 L459.3,94 L459.8,95.9 L460,97.8 L460.1,99.6 M421.4,56.5 L424,57.5 L426.6,58.7 L429.2,60 L431.8,61.4 L434.3,62.9 L436.7,64.5 L439.1,66.2 L441.4,68 L443.6,69.8 L445.7,71.7 L447.8,73.6 L449.7,75.6 L451.4,77.6 L453.1,79.6 L454.6,81.6 L456,83.7 L457.2,85.8 L458.3,87.8 L459.2,89.9 L460,91.9 L460.6,93.8 L461,95.8 L461.3,97.7 L461.4,99.5 M422.4,56.1 L425.1,57.1 L427.7,58.4 L430.3,59.7 L432.8,61.1 L435.4,62.6 L437.8,64.2 L440.2,65.9 L442.5,67.6 L444.8,69.5 L446.9,71.3 L448.9,73.3 L450.9,75.3 L452.7,77.3 L454.3,79.3 L455.9,81.4 L457.2,83.5 L458.5,85.5 L459.6,87.6 L460.5,89.7 L461.3,91.7 L461.9,93.7 L462.3,95.6 L462.5,97.5 L462.6,99.3 M423.5,55.7 L426.1,56.8 L428.7,58 L431.4,59.3 L433.9,60.7 L436.5,62.2 L438.9,63.9 L441.3,65.5 L443.7,67.3 L445.9,69.1 L448.1,71 L450.1,73 L452,75 L453.9,77 L455.5,79.1 L457.1,81.2 L458.5,83.2 L459.7,85.3 L460.8,87.4 L461.7,89.5 L462.5,91.5 L463.1,93.5 L463.5,95.4 L463.8,97.3 L463.9,99.2 M424.5,55.3 L427.2,56.4 L429.8,57.6 L432.4,58.9 L435,60.4 L437.6,61.9 L440.1,63.5 L442.5,65.2 L444.8,67 L447.1,68.8 L449.2,70.7 L451.3,72.7 L453.2,74.7 L455,76.8 L456.7,78.8 L458.3,80.9 L459.7,83 L460.9,85.1 L462,87.2 L463,89.3 L463.7,91.3 L464.3,93.3 L464.8,95.3 L465,97.2 L465.1,99 M425.6,54.9 L428.2,56 L430.9,57.3 L433.5,58.6 L436.1,60 L438.7,61.6 L441.2,63.2 L443.6,64.9 L446,66.7 L448.2,68.5 L450.4,70.5 L452.5,72.4 L454.4,74.4 L456.2,76.5 L457.9,78.6 L459.5,80.7 L460.9,82.8 L462.2,84.9 L463.3,87 L464.2,89 L465,91.1 L465.6,93.1 L466,95.1 L466.3,97 L466.4,98.9 M426.6,54.6 L429.3,55.7 L432,56.9 L434.6,58.2 L437.2,59.7 L439.8,61.2 L442.3,62.9 L444.7,64.6 L447.1,66.4 L449.4,68.2 L451.6,70.2 L453.6,72.1 L455.6,74.2 L457.4,76.2 L459.1,78.3 L460.7,80.4 L462.1,82.5 L463.4,84.6 L464.5,86.8 L465.4,88.8 L466.2,90.9 L466.8,92.9 L467.2,94.9 L467.5,96.8 L467.6,98.7 M427.7,54.2 L430.3,55.3 L433,56.6 L435.7,57.9 L438.3,59.3 L440.9,60.9 L443.4,62.5 L445.9,64.3 L448.2,66.1 L450.5,67.9 L452.7,69.9 L454.8,71.9 L456.8,73.9 L458.6,76 L460.3,78.1 L461.9,80.2 L463.3,82.3 L464.6,84.4 L465.7,86.5 L466.6,88.6 L467.4,90.7 L468,92.7 L468.5,94.7 L468.7,96.7 L468.8,98.5 M428.7,53.9 L431.4,55 L434.1,56.2 L436.8,57.6 L439.4,59 L442,60.6 L444.5,62.2 L447,64 L449.4,65.8 L451.7,67.6 L453.9,69.6 L456,71.6 L457.9,73.6 L459.8,75.7 L461.5,77.8 L463.1,79.9 L464.5,82 L465.8,84.2 L466.9,86.3 L467.8,88.4 L468.6,90.5 L469.2,92.5 L469.7,94.5 L469.9,96.5 L470,98.4 M429.8,53.5 L432.5,54.6 L435.2,55.9 L437.9,57.2 L440.5,58.7 L443.1,60.3 L445.6,61.9 L448.1,63.6 L450.5,65.5 L452.8,67.3 L455,69.3 L457.1,71.3 L459.1,73.3 L461,75.4 L462.7,77.5 L464.3,79.7 L465.7,81.8 L467,83.9 L468.1,86.1 L469,88.2 L469.8,90.3 L470.4,92.3 L470.9,94.3 L471.2,96.3 L471.2,98.2 M430.8,53.2 L433.6,54.3 L436.3,55.6 L439,56.9 L441.6,58.4 L444.2,59.9 L446.8,61.6 L449.2,63.3 L451.6,65.2 L454,67.1 L456.2,69 L458.3,71 L460.3,73.1 L462.1,75.2 L463.8,77.3 L465.4,79.4 L466.9,81.6 L468.2,83.7 L469.3,85.9 L470.2,88 L471,90.1 L471.6,92.1 L472.1,94.1 L472.4,96.1 L472.4,98 M431.9,52.9 L434.6,54 L437.3,55.2 L440,56.6 L442.7,58.1 L445.3,59.6 L447.9,61.3 L450.4,63 L452.8,64.9 L455.1,66.8 L457.3,68.7 L459.4,70.7 L461.4,72.8 L463.3,74.9 L465,77 L466.6,79.2 L468,81.3 L469.3,83.5 L470.5,85.6 L471.4,87.7 L472.2,89.8 L472.8,91.9 L473.3,93.9 L473.5,95.9 L473.6,97.8 M433,52.5 L435.7,53.7 L438.4,54.9 L441.1,56.3 L443.8,57.8 L446.4,59.3 L449,61 L451.5,62.8 L453.9,64.6 L456.2,66.5 L458.4,68.5 L460.6,70.5 L462.6,72.5 L464.4,74.6 L466.2,76.8 L467.8,78.9 L469.2,81.1 L470.5,83.2 L471.6,85.4 L472.6,87.5 L473.4,89.6 L474,91.7 L474.5,93.7 L474.7,95.7 L474.8,97.6 M434,52.2 L436.8,53.4 L439.5,54.6 L442.2,56 L444.9,57.5 L447.5,59 L450.1,60.7 L452.6,62.5 L455,64.3 L457.3,66.2 L459.6,68.2 L461.7,70.2 L463.7,72.3 L465.6,74.4 L467.3,76.5 L468.9,78.7 L470.4,80.8 L471.7,83 L472.8,85.2 L473.8,87.3 L474.6,89.4 L475.2,91.5 L475.6,93.5 L475.9,95.5 L476,97.4 M435.1,51.9 L437.9,53.1 L440.6,54.3 L443.3,55.7 L446,57.2 L448.6,58.8 L451.2,60.4 L453.7,62.2 L456.1,64 L458.5,65.9 L460.7,67.9 L462.8,69.9 L464.8,72 L466.7,74.1 L468.5,76.3 L470.1,78.4 L471.5,80.6 L472.8,82.8 L473.9,84.9 L474.9,87.1 L475.7,89.2 L476.3,91.3 L476.8,93.3 L477,95.3 L477.1,97.2 M436.2,51.6 L438.9,52.8 L441.7,54 L444.4,55.4 L447.1,56.9 L449.7,58.5 L452.3,60.2 L454.8,61.9 L457.2,63.8 L459.6,65.7 L461.8,67.7 L463.9,69.7 L466,71.8 L467.8,73.9 L469.6,76 L471.2,78.2 L472.6,80.4 L473.9,82.5 L475.1,84.7 L476.1,86.8 L476.9,88.9 L477.5,91 L477.9,93.1 L478.2,95 L478.3,97 M437.3,51.4 L440,52.5 L442.8,53.8 L445.5,55.1 L448.2,56.6 L450.8,58.2 L453.4,59.9 L455.9,61.6 L458.3,63.5 L460.7,65.4 L462.9,67.4 L465.1,69.4 L467.1,71.5 L469,73.6 L470.7,75.8 L472.3,77.9 L473.8,80.1 L475.1,82.3 L476.2,84.4 L477.2,86.6 L478,88.7 L478.6,90.8 L479.1,92.8 L479.3,94.8 L479.4,96.7 M438.4,51.1 L441.1,52.2 L443.9,53.5 L446.6,54.9 L449.3,56.3 L451.9,57.9 L454.5,59.6 L457,61.4 L459.5,63.2 L461.8,65.1 L464,67.1 L466.2,69.2 L468.2,71.3 L470.1,73.4 L471.8,75.5 L473.4,77.7 L474.9,79.9 L476.2,82 L477.3,84.2 L478.3,86.4 L479.1,88.5 L479.7,90.6 L480.2,92.6 L480.5,94.6 L480.5,96.5 M439.4,50.8 L442.2,52 L444.9,53.2 L447.7,54.6 L450.4,56.1 L453,57.7 L455.6,59.4 L458.1,61.1 L460.5,63 L462.9,64.9 L465.1,66.9 L467.3,68.9 L469.3,71 L471.2,73.1 L472.9,75.3 L474.5,77.4 L476,79.6 L477.3,81.8 L478.4,84 L479.4,86.1 L480.2,88.2 L480.8,90.3 L481.3,92.4 L481.6,94.4 L481.7,96.3 M440.5,50.5 L443.3,51.7 L446,53 L448.8,54.3 L451.5,55.8 L454.1,57.4 L456.7,59.1 L459.2,60.9 L461.6,62.7 L464,64.6 L466.2,66.6 L468.4,68.7 L470.4,70.7 L472.3,72.9 L474,75 L475.6,77.2 L477.1,79.4 L478.4,81.6 L479.5,83.7 L480.5,85.9 L481.3,88 L481.9,90.1 L482.4,92.1 L482.7,94.1 L482.8,96"/>
<path class="ax" d="M330,32.2 L330,104.5 L414.5,137.7 L526.1,112.4"/>
<path class="ax" d="M330,104.5 L328.2,104.5 M330,90 L328.2,90 M330,75.6 L328.2,75.6 M330,61.2 L328.2,61.2 M330,46.7 L328.2,46.7 M330,32.2 L328.2,32.2 M330,104.5 L328.8,105.6 M351.1,112.8 L349.9,113.9 M372.2,121.1 L371.1,122.2 M393.4,129.4 L392.2,130.5 M414.5,137.7 L413.3,138.8 M526.1,112.4 L527.1,113.8 M513.7,115.2 L514.7,116.6 M501.3,118 L502.3,119.4 M488.9,120.8 L489.9,122.2 M476.5,123.6 L477.5,125 M464.1,126.5 L465.1,127.9 M451.7,129.3 L452.7,130.7 M439.3,132.1 L440.3,133.5 M426.9,134.9 L427.9,136.3 M414.5,137.7 L415.5,139.1"/>
<g class="tl"><text x="326.4" y="105.8" text-anchor="end">0</text><text x="326.4" y="91.3" text-anchor="end">0.5</text><text x="326.4" y="76.9" text-anchor="end">1</text><text x="326.4" y="62.5" text-anchor="end">1.5</text><text x="326.4" y="48" text-anchor="end">2</text><text x="326.4" y="33.5" text-anchor="end">2.5</text><text x="327" y="109.7" text-anchor="end">0</text><text x="348.1" y="118" text-anchor="end">0.5</text><text x="369.2" y="126.3" text-anchor="end">1</text><text x="390.4" y="134.6" text-anchor="end">1.5</text><text x="411.5" y="142.9" text-anchor="end">2</text><text x="528.8" y="118">0</text><text x="516.4" y="120.8">0.2</text><text x="504" y="123.6">0.4</text><text x="491.6" y="126.4">0.6</text><text x="479.2" y="129.2">0.8</text><text x="466.8" y="132.1">1</text><text x="454.4" y="134.9">1.2</text><text x="442" y="137.7">1.4</text><text x="429.6" y="140.5">1.6</text><text x="417.2" y="143.3">1.8</text></g>
<text class="at" x="370" y="142.7" text-anchor="middle">2<tspan class="sup" dy="-1.3">nd</tspan><tspan dy="1.3"> Objective</tspan></text>
<text class="at" x="467.4" y="144.3" text-anchor="middle">1<tspan class="sup" dy="-1.3">st</tspan><tspan dy="1.3"> Objective</tspan></text>
<text class="at" transform="translate(318.5,69.5) rotate(-90)" text-anchor="middle">3<tspan class="sup" dy="-1.3">rd</tspan><tspan dy="1.3"> Objective</tspan></text>
<g fill="#ff00ff"><circle cx="441.5" cy="18.6" r="1.4"/><circle cx="441.3" cy="40" r="1.4"/><circle cx="441.3" cy="42.5" r="1.4"/><circle cx="441.3" cy="45" r="1.4"/><circle cx="441.3" cy="47.5" r="1.4"/><circle cx="441.3" cy="49.5" r="1.4"/><circle cx="455.8" cy="49.1" r="1.4"/><circle cx="463.5" cy="60.1" r="1.4"/><circle cx="476.1" cy="67.9" r="1.4"/><circle cx="477.4" cy="69.4" r="1.4"/><circle cx="478.6" cy="70.8" r="1.4"/><circle cx="480.9" cy="73.7" r="1.4"/><circle cx="481.9" cy="75.6" r="1.4"/><circle cx="483.8" cy="77.2" r="1.4"/><circle cx="488.1" cy="80.8" r="1.4"/><circle cx="485.4" cy="84.3" r="1.4"/><circle cx="489.1" cy="86.8" r="1.4"/><circle cx="490" cy="91.1" r="1.4"/><circle cx="488.1" cy="94" r="1.4"/><circle cx="399.2" cy="58.2" r="1.4"/><circle cx="389" cy="65.4" r="1.4"/><circle cx="388.4" cy="70.4" r="1.4"/><circle cx="384.7" cy="72.7" r="1.4"/><circle cx="377.4" cy="76.2" r="1.4"/><circle cx="369.1" cy="79.9" r="1.4"/><circle cx="366.8" cy="84.7" r="1.4"/><circle cx="354.8" cy="93.6" r="1.4"/><circle cx="370.6" cy="93" r="1.4"/><circle cx="404.5" cy="73.7" r="1.4"/><circle cx="409.3" cy="71.8" r="1.4"/><circle cx="409.9" cy="70.8" r="1.4"/><circle cx="422.5" cy="73.7" r="1.4"/><circle cx="425.2" cy="70.4" r="1.4"/><circle cx="427.3" cy="70.4" r="1.4"/><circle cx="419" cy="79.5" r="1.4"/><circle cx="414.5" cy="85.3" r="1.4"/><circle cx="424.8" cy="83.4" r="1.4"/><circle cx="428.6" cy="87.6" r="1.4"/><circle cx="389" cy="83.4" r="1.4"/><circle cx="390.3" cy="87.6" r="1.4"/><circle cx="392.9" cy="85.7" r="1.4"/><circle cx="394.2" cy="84.7" r="1.4"/><circle cx="387.6" cy="90.7" r="1.4"/><circle cx="399.1" cy="89.5" r="1.4"/><circle cx="431" cy="72.7" r="1.4"/><circle cx="431.2" cy="79.9" r="1.4"/><circle cx="438.8" cy="84.9" r="1.4"/><circle cx="439.9" cy="89.5" r="1.4"/><circle cx="434.5" cy="93" r="1.4"/><circle cx="458.1" cy="75.2" r="1.4"/><circle cx="459.3" cy="73.1" r="1.4"/><circle cx="451" cy="86.3" r="1.4"/><circle cx="456.8" cy="89.7" r="1.4"/><circle cx="461.6" cy="91.1" r="1.4"/><circle cx="465.5" cy="87.6" r="1.4"/><circle cx="468.4" cy="94" r="1.4"/><circle cx="346.1" cy="101.7" r="1.4"/><circle cx="350.4" cy="100.1" r="1.4"/><circle cx="352.9" cy="99.2" r="1.4"/><circle cx="356.2" cy="99.8" r="1.4"/><circle cx="331.2" cy="104.6" r="1.4"/><circle cx="367.4" cy="106" r="1.4"/><circle cx="372.6" cy="106.9" r="1.4"/><circle cx="386.2" cy="106.3" r="1.4"/><circle cx="393.1" cy="106.3" r="1.4"/><circle cx="394.5" cy="105" r="1.4"/><circle cx="398.3" cy="102.7" r="1.4"/><circle cx="399.3" cy="105.4" r="1.4"/><circle cx="396" cy="99.6" r="1.4"/><circle cx="403.2" cy="100.1" r="1.4"/><circle cx="409.4" cy="106" r="1.4"/><circle cx="412.8" cy="104" r="1.4"/><circle cx="415.2" cy="104" r="1.4"/><circle cx="417.3" cy="107.3" r="1.4"/><circle cx="414.2" cy="100.1" r="1.4"/><circle cx="418.6" cy="99.8" r="1.4"/><circle cx="439" cy="95.9" r="1.4"/><circle cx="440" cy="97.6" r="1.4"/><circle cx="424.5" cy="97.6" r="1.4"/><circle cx="429" cy="105.6" r="1.4"/><circle cx="434.8" cy="106" r="1.4"/><circle cx="437.1" cy="105" r="1.4"/><circle cx="442.9" cy="105.6" r="1.4"/><circle cx="447.7" cy="106.3" r="1.4"/><circle cx="454.1" cy="101.5" r="1.4"/><circle cx="467.1" cy="104" r="1.4"/><circle cx="470" cy="105" r="1.4"/><circle cx="471.5" cy="105" r="1.4"/><circle cx="476.7" cy="105.4" r="1.4"/><circle cx="490.3" cy="98.6" r="1.4"/><circle cx="494.7" cy="99.2" r="1.4"/><circle cx="496.1" cy="100.5" r="1.4"/><circle cx="499.4" cy="102.1" r="1.4"/><circle cx="506.7" cy="106" r="1.4"/><circle cx="511.4" cy="106.7" r="1.4"/><circle cx="518.7" cy="109.2" r="1.4"/></g>
<rect x="466.9" y="9.2" width="63.8" height="22.2" fill="#fff" stroke="none"/>
<rect class="lg" x="466.9" y="9.2" width="63.8" height="22.2"/>
<circle cx="479.2" cy="12.8" r="1.05" fill="#fff" stroke="#7a7a7a" stroke-width="0.55"/>
<circle cx="479.2" cy="24.1" r="1.4" fill="#ff00ff"/>
<text class="lt" x="485.2" y="14.9" textLength="20.4" lengthAdjust="spacingAndGlyphs">True PF</text>
<text class="lt" x="485.2" y="23" textLength="37.9" lengthAdjust="spacingAndGlyphs">GMOEO/ Cone</text>
<text class="lt" x="485.2" y="29.9" textLength="19.1" lengthAdjust="spacingAndGlyphs">epsilon</text></g>
<g id="P3"><path class="grid" d="M133.2,240 L218.2,273.5 M133.2,240 L133.2,168.4 M110.6,245.1 L195.6,278.6 M110.6,245.1 L110.6,173.5 M88,250.3 L173,283.8 M88,250.3 L88,178.7 M65.5,255.4 L150.5,288.9 M65.5,255.4 L65.5,183.8 M42.9,260.6 L127.9,294.1 M42.9,260.6 L42.9,189 M20.3,265.7 L105.3,299.2 M20.3,265.7 L20.3,194.1 M133.2,240 L20.3,265.7 M133.2,240 L133.2,168.4 M147.4,245.6 L34.5,271.3 M147.4,245.6 L147.4,174 M161.5,251.2 L48.6,276.9 M161.5,251.2 L161.5,179.6 M175.7,256.8 L62.8,282.5 M175.7,256.8 L175.7,185.2 M189.9,262.3 L77,288 M189.9,262.3 L189.9,190.7 M204,267.9 L91.1,293.6 M204,267.9 L204,196.3 M218.2,273.5 L105.3,299.2 M218.2,273.5 L218.2,201.9 M20.3,265.7 L133.2,240 L218.2,273.5 M20.3,251.4 L133.2,225.7 L218.2,259.2 M20.3,237.1 L133.2,211.4 L218.2,244.9 M20.3,222.7 L133.2,197 L218.2,230.5 M20.3,208.4 L133.2,182.7 L218.2,216.2 M20.3,194.1 L133.2,168.4 L218.2,201.9"/>
<polygon fill="#fdfdfd" points="20.3,265.7 20.3,263.8 20.5,261.9 20.6,260 20.9,258.1 21.3,256.1 21.7,254.2 22.2,252.2 22.8,250.3 23.4,248.3 24.1,246.3 24.9,244.3 25.8,242.3 26.8,240.3 27.8,238.3 28.9,236.3 30.1,234.4 31.3,232.4 32.6,230.4 34,228.4 35.4,226.5 36.9,224.5 38.5,222.6 40.2,220.6 41.9,218.7 43.6,216.8 45.5,214.9 47.4,213 49.3,211.2 51.3,209.4 53.4,207.5 55.5,205.8 57.7,204 59.9,202.2 62.1,200.5 64.5,198.8 66.8,197.2 69.3,195.5 71.7,193.9 74.2,192.4 76.7,190.8 79.3,189.3 81.9,187.9 84.6,186.4 87.3,185 90,183.7 92.7,182.4 95.5,181.1 98.3,179.8 101.1,178.6 104,177.5 106.8,176.4 109.7,175.3 112.6,174.3 115.5,173.3 118.5,172.4 121.4,171.5 124.3,170.6 127.3,169.8 130.2,169.1 133.2,168.4 135.1,169.2 136.9,170 138.8,170.8 140.6,171.7 142.4,172.7 144.3,173.6 146.1,174.7 147.9,175.8 149.7,176.9 151.5,178.1 153.3,179.3 155.1,180.5 156.8,181.8 158.6,183.2 160.3,184.5 162,185.9 163.7,187.4 165.4,188.9 167,190.4 168.6,192 170.2,193.5 171.8,195.2 173.3,196.8 174.8,198.5 176.3,200.2 177.8,201.9 179.2,203.7 180.6,205.5 182,207.3 183.3,209.1 184.6,211 185.8,212.8 187.1,214.7 188.2,216.6 189.4,218.6 190.5,220.5 191.6,222.5 192.6,224.4 193.6,226.4 194.5,228.4 195.4,230.4 196.3,232.4 197.1,234.4 197.9,236.4 198.6,238.4 199.3,240.4 200,242.4 200.6,244.4 201.1,246.4 201.6,248.4 202.1,250.4 202.5,252.4 202.8,254.4 203.2,256.4 203.4,258.3 203.6,260.3 203.8,262.2 203.9,264.1 204,266 204,267.9 201.1,268.6 198,269.2 195,269.8 191.8,270.5 188.7,271 185.5,271.6 182.3,272.1 179,272.6 175.7,273.1 172.4,273.6 169.1,274.1 165.7,274.5 162.3,274.9 158.9,275.3 155.4,275.6 152,276 148.5,276.3 145.1,276.5 141.6,276.8 138.1,277 134.6,277.2 131.1,277.4 127.6,277.6 124.1,277.7 120.7,277.8 117.2,277.9 113.7,277.9 110.3,277.9 106.9,277.9 103.5,277.9 100.1,277.9 96.7,277.8 93.4,277.7 90,277.5 86.8,277.4 83.5,277.2 80.3,277 77.1,276.8 73.9,276.5 70.8,276.2 67.8,275.9 64.8,275.6 61.8,275.2 58.9,274.8 56,274.4 53.2,274 50.4,273.5 47.7,273.1 45.1,272.6 42.5,272 40,271.5 37.5,270.9 35.1,270.4 32.8,269.8 30.5,269.1 28.3,268.5 26.2,267.8 24.2,267.1 22.2,266.4"/>
<path fill="none" stroke="#bababa" stroke-width="0.8" d="M20.3,264.4 L20.4,264.5 L20.5,264.5 L20.6,264.6 L20.6,264.6 L20.7,264.7 L20.8,264.7 L20.9,264.8 L20.9,264.9 L21,264.9 L21.1,265 L21.1,265.1 L21.2,265.2 L21.2,265.2 L21.3,265.3 L21.3,265.4 L21.4,265.5 L21.4,265.6 L21.5,265.7 L21.5,265.8 L21.5,265.8 L21.5,265.9 L21.5,266 L21.6,266.1 L21.6,266.2 M20.4,263.2 L20.5,263.3 L20.7,263.3 L20.9,263.4 L21,263.5 L21.2,263.6 L21.3,263.7 L21.5,263.9 L21.6,264 L21.7,264.1 L21.9,264.3 L22,264.4 L22.1,264.6 L22.2,264.8 L22.3,264.9 L22.4,265.1 L22.5,265.3 L22.6,265.5 L22.7,265.6 L22.7,265.8 L22.8,266 L22.8,266.2 L22.8,266.3 L22.8,266.5 L22.8,266.7 M20.5,261.9 L20.7,262 L20.9,262.1 L21.2,262.3 L21.4,262.4 L21.6,262.6 L21.9,262.8 L22.1,263 L22.3,263.2 L22.5,263.4 L22.7,263.6 L22.9,263.8 L23.1,264 L23.2,264.3 L23.4,264.5 L23.5,264.8 L23.7,265.1 L23.8,265.3 L23.9,265.6 L24,265.8 L24,266.1 L24.1,266.4 L24.1,266.6 L24.2,266.9 L24.2,267.1 M20.6,260.6 L20.9,260.8 L21.2,260.9 L21.5,261.1 L21.9,261.3 L22.2,261.5 L22.5,261.8 L22.8,262 L23,262.3 L23.3,262.6 L23.6,262.9 L23.8,263.2 L24.1,263.5 L24.3,263.8 L24.5,264.1 L24.7,264.5 L24.9,264.8 L25,265.2 L25.1,265.5 L25.3,265.9 L25.3,266.2 L25.4,266.6 L25.5,266.9 L25.5,267.3 L25.5,267.6 M20.7,259.4 L21.1,259.5 L21.5,259.7 L21.9,260 L22.3,260.2 L22.7,260.5 L23.1,260.8 L23.5,261.1 L23.8,261.4 L24.2,261.8 L24.5,262.1 L24.8,262.5 L25.1,262.9 L25.4,263.3 L25.6,263.7 L25.9,264.2 L26.1,264.6 L26.3,265 L26.4,265.5 L26.6,265.9 L26.7,266.3 L26.8,266.8 L26.9,267.2 L26.9,267.6 L26.9,268 M20.9,258.1 L21.4,258.3 L21.9,258.5 L22.4,258.8 L22.8,259.1 L23.3,259.4 L23.8,259.8 L24.2,260.1 L24.6,260.5 L25,261 L25.4,261.4 L25.8,261.9 L26.2,262.3 L26.5,262.8 L26.8,263.3 L27.1,263.8 L27.3,264.3 L27.6,264.9 L27.8,265.4 L27.9,265.9 L28.1,266.4 L28.2,267 L28.3,267.5 L28.3,268 L28.3,268.5 M21.1,256.8 L21.7,257 L22.3,257.3 L22.8,257.6 L23.4,258 L23.9,258.3 L24.4,258.7 L25,259.2 L25.5,259.7 L25.9,260.1 L26.4,260.7 L26.8,261.2 L27.2,261.7 L27.6,262.3 L28,262.9 L28.3,263.5 L28.6,264.1 L28.9,264.7 L29.1,265.3 L29.3,265.9 L29.5,266.5 L29.6,267.1 L29.7,267.7 L29.8,268.3 L29.8,268.9 M21.4,255.5 L22,255.8 L22.7,256.1 L23.3,256.4 L24,256.8 L24.6,257.3 L25.2,257.7 L25.8,258.2 L26.3,258.8 L26.9,259.3 L27.4,259.9 L27.9,260.5 L28.4,261.2 L28.8,261.8 L29.2,262.5 L29.6,263.1 L29.9,263.8 L30.2,264.5 L30.5,265.2 L30.7,265.9 L30.9,266.6 L31.1,267.3 L31.2,268 L31.2,268.7 L31.3,269.3 M21.7,254.2 L22.4,254.5 L23.1,254.8 L23.9,255.3 L24.6,255.7 L25.3,256.2 L25.9,256.7 L26.6,257.3 L27.2,257.9 L27.8,258.5 L28.4,259.2 L29,259.8 L29.5,260.6 L30,261.3 L30.5,262 L30.9,262.8 L31.3,263.6 L31.6,264.3 L31.9,265.1 L32.2,265.9 L32.4,266.7 L32.6,267.5 L32.7,268.3 L32.7,269 L32.8,269.8 M22,252.9 L22.8,253.2 L23.6,253.6 L24.4,254.1 L25.2,254.6 L26,255.1 L26.7,255.7 L27.5,256.3 L28.2,257 L28.8,257.7 L29.5,258.4 L30.1,259.2 L30.7,259.9 L31.3,260.8 L31.8,261.6 L32.2,262.4 L32.7,263.3 L33,264.2 L33.4,265 L33.7,265.9 L33.9,266.8 L34.1,267.6 L34.2,268.5 L34.3,269.3 L34.3,270.2 M22.4,251.6 L23.3,251.9 L24.1,252.4 L25,252.9 L25.9,253.4 L26.7,254 L27.5,254.6 L28.4,255.3 L29.1,256.1 L29.9,256.8 L30.6,257.6 L31.3,258.5 L31.9,259.3 L32.5,260.2 L33.1,261.1 L33.6,262.1 L34.1,263 L34.5,264 L34.9,264.9 L35.2,265.9 L35.4,266.8 L35.6,267.8 L35.8,268.7 L35.9,269.6 L35.9,270.6 M22.8,250.3 L23.7,250.7 L24.7,251.1 L25.6,251.7 L26.6,252.3 L27.5,252.9 L28.4,253.6 L29.3,254.4 L30.1,255.1 L30.9,256 L31.7,256.9 L32.5,257.8 L33.2,258.7 L33.8,259.7 L34.5,260.7 L35,261.7 L35.5,262.7 L36,263.8 L36.4,264.8 L36.7,265.8 L37,266.9 L37.2,267.9 L37.4,268.9 L37.5,270 L37.5,270.9 M23.2,248.9 L24.2,249.4 L25.3,249.9 L26.3,250.5 L27.3,251.1 L28.3,251.8 L29.3,252.6 L30.2,253.4 L31.2,254.2 L32,255.1 L32.9,256.1 L33.7,257.1 L34.5,258.1 L35.2,259.1 L35.8,260.2 L36.4,261.3 L37,262.4 L37.5,263.5 L37.9,264.7 L38.3,265.8 L38.6,266.9 L38.8,268.1 L39,269.2 L39.1,270.3 L39.1,271.3 M23.7,247.6 L24.8,248.1 L25.9,248.6 L27,249.3 L28.1,250 L29.2,250.7 L30.2,251.5 L31.2,252.4 L32.2,253.3 L33.2,254.3 L34.1,255.3 L35,256.4 L35.8,257.5 L36.5,258.6 L37.2,259.7 L37.9,260.9 L38.5,262.1 L39,263.3 L39.5,264.5 L39.9,265.8 L40.2,267 L40.5,268.2 L40.6,269.4 L40.8,270.5 L40.8,271.7 M24.1,246.3 L25.3,246.8 L26.5,247.4 L27.7,248.1 L28.9,248.8 L30,249.6 L31.2,250.5 L32.3,251.4 L33.3,252.4 L34.3,253.4 L35.3,254.5 L36.2,255.7 L37.1,256.8 L37.9,258 L38.7,259.3 L39.4,260.5 L40,261.8 L40.6,263.1 L41.1,264.4 L41.5,265.7 L41.9,267 L42.1,268.3 L42.3,269.6 L42.4,270.8 L42.5,272 M24.7,245 L26,245.5 L27.2,246.1 L28.5,246.8 L29.7,247.6 L30.9,248.5 L32.1,249.4 L33.3,250.4 L34.4,251.5 L35.5,252.6 L36.6,253.7 L37.5,254.9 L38.5,256.2 L39.4,257.5 L40.2,258.8 L40.9,260.1 L41.6,261.5 L42.2,262.9 L42.7,264.3 L43.2,265.6 L43.5,267 L43.8,268.4 L44,269.8 L44.2,271.1 L44.2,272.4 M25.2,243.6 L26.6,244.2 L27.9,244.9 L29.3,245.6 L30.6,246.5 L31.9,247.4 L33.2,248.4 L34.4,249.4 L35.6,250.5 L36.7,251.7 L37.8,252.9 L38.9,254.2 L39.9,255.5 L40.8,256.9 L41.7,258.3 L42.5,259.7 L43.2,261.2 L43.8,262.6 L44.4,264.1 L44.8,265.6 L45.2,267 L45.5,268.5 L45.8,269.9 L45.9,271.4 L45.9,272.7 M25.8,242.3 L27.3,242.9 L28.7,243.6 L30.1,244.4 L31.5,245.3 L32.9,246.3 L34.2,247.3 L35.5,248.4 L36.8,249.6 L38,250.8 L39.2,252.1 L40.3,253.5 L41.3,254.9 L42.3,256.3 L43.2,257.8 L44,259.3 L44.8,260.9 L45.5,262.4 L46,263.9 L46.6,265.5 L47,267 L47.3,268.6 L47.5,270.1 L47.7,271.6 L47.7,273.1 M26.5,241 L28,241.6 L29.5,242.4 L30.9,243.2 L32.4,244.1 L33.9,245.1 L35.3,246.2 L36.7,247.4 L38,248.7 L39.3,250 L40.5,251.3 L41.7,252.8 L42.8,254.2 L43.8,255.8 L44.7,257.3 L45.6,258.9 L46.4,260.5 L47.1,262.1 L47.8,263.8 L48.3,265.4 L48.7,267 L49.1,268.7 L49.3,270.3 L49.5,271.8 L49.5,273.4 M27.1,239.7 L28.7,240.3 L30.3,241.1 L31.8,242 L33.4,243 L34.9,244 L36.4,245.2 L37.8,246.4 L39.2,247.7 L40.6,249.1 L41.9,250.5 L43.1,252 L44.2,253.6 L45.3,255.2 L46.3,256.8 L47.3,258.5 L48.1,260.2 L48.8,261.9 L49.5,263.6 L50,265.3 L50.5,267 L50.9,268.7 L51.1,270.4 L51.3,272.1 L51.3,273.7 M27.8,238.3 L29.5,239 L31.1,239.9 L32.8,240.8 L34.4,241.8 L36,242.9 L37.5,244.1 L39,245.4 L40.5,246.8 L41.9,248.2 L43.3,249.7 L44.5,251.3 L45.7,252.9 L46.9,254.6 L47.9,256.3 L48.9,258.1 L49.8,259.8 L50.6,261.6 L51.3,263.4 L51.8,265.2 L52.3,267 L52.7,268.8 L53,270.6 L53.1,272.3 L53.2,274 M28.5,237 L30.3,237.7 L32,238.6 L33.7,239.6 L35.4,240.6 L37.1,241.8 L38.7,243.1 L40.3,244.4 L41.8,245.8 L43.3,247.3 L44.7,248.9 L46,250.6 L47.3,252.3 L48.5,254 L49.6,255.8 L50.6,257.6 L51.5,259.5 L52.3,261.3 L53,263.2 L53.6,265.1 L54.2,267 L54.5,268.9 L54.8,270.7 L55,272.5 L55.1,274.3 M29.3,235.7 L31.1,236.5 L32.9,237.3 L34.7,238.3 L36.4,239.5 L38.2,240.7 L39.9,242 L41.5,243.4 L43.1,244.9 L44.7,246.5 L46.1,248.1 L47.5,249.8 L48.8,251.6 L50.1,253.4 L51.2,255.3 L52.3,257.2 L53.2,259.1 L54.1,261.1 L54.8,263 L55.5,265 L56,267 L56.4,268.9 L56.7,270.8 L56.9,272.7 L57,274.6 M30.1,234.4 L31.9,235.2 L33.8,236.1 L35.7,237.1 L37.5,238.3 L39.3,239.6 L41.1,240.9 L42.8,242.4 L44.5,243.9 L46.1,245.6 L47.6,247.3 L49.1,249.1 L50.4,250.9 L51.7,252.8 L52.9,254.8 L54,256.7 L55,258.8 L55.9,260.8 L56.7,262.8 L57.3,264.9 L57.9,266.9 L58.3,268.9 L58.6,270.9 L58.8,272.9 L58.9,274.8 M30.9,233 L32.8,233.9 L34.8,234.8 L36.7,235.9 L38.6,237.1 L40.5,238.4 L42.3,239.9 L44.1,241.4 L45.8,243 L47.5,244.7 L49.1,246.5 L50.6,248.3 L52,250.2 L53.4,252.2 L54.6,254.2 L55.8,256.3 L56.8,258.4 L57.7,260.5 L58.5,262.6 L59.2,264.7 L59.8,266.9 L60.2,269 L60.6,271 L60.7,273.1 L60.8,275.1 M31.7,231.7 L33.8,232.6 L35.8,233.6 L37.8,234.7 L39.8,235.9 L41.7,237.3 L43.6,238.8 L45.5,240.4 L47.3,242 L49,243.8 L50.6,245.6 L52.2,247.6 L53.7,249.6 L55.1,251.6 L56.4,253.7 L57.5,255.8 L58.6,258 L59.6,260.2 L60.4,262.4 L61.1,264.6 L61.7,266.8 L62.2,269 L62.5,271.1 L62.7,273.3 L62.8,275.3 M32.6,230.4 L34.7,231.3 L36.8,232.3 L38.9,233.5 L40.9,234.8 L42.9,236.2 L44.9,237.7 L46.8,239.4 L48.7,241.1 L50.5,242.9 L52.2,244.8 L53.8,246.8 L55.3,248.9 L56.8,251 L58.1,253.2 L59.3,255.4 L60.5,257.6 L61.4,259.9 L62.3,262.2 L63.1,264.5 L63.7,266.7 L64.1,269 L64.5,271.2 L64.7,273.4 L64.8,275.6 M33.5,229.1 L35.7,230 L37.9,231.1 L40,232.3 L42.1,233.6 L44.2,235.1 L46.2,236.7 L48.2,238.3 L50.1,240.1 L52,242 L53.8,244 L55.4,246.1 L57,248.2 L58.5,250.4 L59.9,252.6 L61.2,254.9 L62.3,257.2 L63.3,259.6 L64.2,261.9 L65,264.3 L65.6,266.7 L66.1,269 L66.5,271.3 L66.7,273.6 L66.8,275.8 M34.5,227.8 L36.7,228.7 L38.9,229.8 L41.2,231.1 L43.3,232.5 L45.5,234 L47.6,235.6 L49.6,237.3 L51.6,239.2 L53.5,241.1 L55.4,243.2 L57.1,245.3 L58.7,247.5 L60.3,249.8 L61.7,252.1 L63,254.4 L64.2,256.8 L65.3,259.3 L66.2,261.7 L67,264.1 L67.6,266.6 L68.1,269 L68.5,271.4 L68.7,273.7 L68.8,276 M35.4,226.5 L37.7,227.4 L40,228.6 L42.3,229.9 L44.6,231.3 L46.8,232.8 L49,234.5 L51.1,236.3 L53.1,238.2 L55.1,240.2 L57,242.4 L58.8,244.5 L60.5,246.8 L62.1,249.1 L63.5,251.5 L64.9,254 L66.1,256.4 L67.2,258.9 L68.1,261.5 L69,264 L69.6,266.5 L70.2,269 L70.5,271.4 L70.8,273.8 L70.8,276.2 M36.4,225.2 L38.8,226.2 L41.2,227.3 L43.5,228.7 L45.9,230.1 L48.2,231.7 L50.4,233.5 L52.6,235.3 L54.7,237.3 L56.7,239.4 L58.6,241.5 L60.5,243.8 L62.2,246.1 L63.9,248.5 L65.4,251 L66.8,253.5 L68,256 L69.1,258.6 L70.1,261.2 L71,263.8 L71.7,266.4 L72.2,268.9 L72.6,271.5 L72.8,274 L72.9,276.4 M37.5,223.9 L39.9,224.9 L42.4,226.1 L44.8,227.5 L47.2,229 L49.5,230.6 L51.8,232.4 L54.1,234.3 L56.2,236.3 L58.3,238.5 L60.3,240.7 L62.2,243 L64,245.4 L65.7,247.9 L67.2,250.4 L68.7,253 L70,255.6 L71.1,258.3 L72.1,260.9 L73,263.6 L73.7,266.3 L74.3,268.9 L74.7,271.5 L74.9,274.1 L75,276.6 M38.5,222.6 L41,223.6 L43.5,224.9 L46,226.3 L48.5,227.8 L50.9,229.5 L53.3,231.3 L55.6,233.3 L57.8,235.4 L59.9,237.6 L62,239.9 L64,242.3 L65.8,244.7 L67.5,247.3 L69.1,249.9 L70.6,252.5 L71.9,255.2 L73.1,257.9 L74.2,260.7 L75,263.4 L75.8,266.1 L76.4,268.9 L76.8,271.5 L77,274.2 L77.1,276.8 M39.6,221.3 L42.2,222.4 L44.8,223.6 L47.3,225.1 L49.9,226.7 L52.3,228.4 L54.8,230.3 L57.1,232.3 L59.4,234.4 L61.6,236.7 L63.7,239 L65.7,241.5 L67.6,244 L69.4,246.6 L71,249.3 L72.5,252 L73.9,254.8 L75.1,257.6 L76.2,260.4 L77.1,263.2 L77.9,266 L78.5,268.8 L78.9,271.6 L79.1,274.3 L79.2,276.9 M40.7,220 L43.4,221.1 L46,222.4 L48.6,223.9 L51.2,225.5 L53.8,227.3 L56.3,229.2 L58.7,231.3 L61,233.5 L63.3,235.8 L65.5,238.2 L67.5,240.7 L69.4,243.3 L71.3,246 L73,248.8 L74.5,251.5 L75.9,254.4 L77.2,257.2 L78.3,260.1 L79.2,263 L80,265.9 L80.6,268.7 L81,271.6 L81.3,274.3 L81.3,277.1 M41.9,218.7 L44.6,219.9 L47.3,221.2 L50,222.7 L52.6,224.4 L55.2,226.2 L57.8,228.2 L60.3,230.3 L62.7,232.5 L65,234.9 L67.2,237.4 L69.3,240 L71.3,242.6 L73.2,245.4 L74.9,248.2 L76.5,251.1 L77.9,254 L79.2,256.9 L80.3,259.8 L81.3,262.8 L82.1,265.7 L82.7,268.7 L83.1,271.6 L83.4,274.4 L83.5,277.2 M43,217.4 L45.8,218.6 L48.6,220 L51.4,221.5 L54.1,223.3 L56.7,225.1 L59.3,227.1 L61.9,229.3 L64.3,231.6 L66.7,234 L69,236.6 L71.1,239.2 L73.2,241.9 L75.1,244.7 L76.9,247.6 L78.5,250.6 L80,253.5 L81.3,256.5 L82.4,259.6 L83.4,262.6 L84.2,265.6 L84.8,268.6 L85.3,271.6 L85.6,274.5 L85.7,277.3 M44.2,216.2 L47.1,217.4 L49.9,218.8 L52.7,220.4 L55.5,222.1 L58.3,224 L60.9,226.1 L63.5,228.3 L66,230.7 L68.5,233.1 L70.8,235.7 L73,238.4 L75.1,241.2 L77,244.1 L78.8,247.1 L80.5,250.1 L82,253.1 L83.3,256.2 L84.5,259.3 L85.5,262.4 L86.4,265.4 L87,268.5 L87.5,271.5 L87.7,274.5 L87.8,277.4 M45.5,214.9 L48.4,216.2 L51.3,217.6 L54.2,219.2 L57,221 L59.8,223 L62.5,225.1 L65.2,227.3 L67.7,229.7 L70.2,232.3 L72.6,234.9 L74.9,237.7 L77,240.5 L79,243.5 L80.8,246.5 L82.5,249.5 L84.1,252.7 L85.4,255.8 L86.6,259 L87.7,262.1 L88.5,265.3 L89.2,268.4 L89.7,271.5 L89.9,274.6 L90,277.5 M46.7,213.7 L49.7,214.9 L52.7,216.4 L55.6,218 L58.5,219.9 L61.3,221.9 L64.1,224 L66.9,226.3 L69.5,228.8 L72,231.4 L74.4,234.1 L76.7,236.9 L78.9,239.8 L80.9,242.8 L82.8,245.9 L84.6,249 L86.1,252.2 L87.5,255.4 L88.8,258.7 L89.8,261.9 L90.7,265.1 L91.4,268.3 L91.9,271.5 L92.1,274.6 L92.2,277.6 M48,212.4 L51,213.7 L54.1,215.2 L57.1,216.9 L60,218.8 L62.9,220.8 L65.8,223 L68.5,225.4 L71.2,227.9 L73.8,230.5 L76.3,233.3 L78.6,236.2 L80.9,239.1 L82.9,242.2 L84.9,245.3 L86.6,248.5 L88.2,251.8 L89.7,255 L90.9,258.3 L92,261.6 L92.9,264.9 L93.6,268.2 L94.1,271.4 L94.4,274.6 L94.5,277.7 M49.3,211.2 L52.4,212.5 L55.5,214 L58.5,215.8 L61.6,217.7 L64.5,219.7 L67.4,222 L70.3,224.4 L73,226.9 L75.6,229.6 L78.2,232.5 L80.5,235.4 L82.8,238.4 L84.9,241.6 L86.9,244.8 L88.7,248 L90.3,251.3 L91.8,254.7 L93.1,258 L94.2,261.4 L95.1,264.7 L95.8,268.1 L96.3,271.4 L96.6,274.6 L96.7,277.8 M50.6,210 L53.8,211.3 L56.9,212.9 L60.1,214.6 L63.1,216.6 L66.2,218.7 L69.1,221 L72,223.4 L74.8,226 L77.5,228.8 L80,231.6 L82.5,234.6 L84.8,237.7 L87,240.9 L89,244.2 L90.8,247.5 L92.5,250.9 L94,254.3 L95.3,257.7 L96.4,261.1 L97.3,264.5 L98,267.9 L98.5,271.3 L98.8,274.6 L98.9,277.8 M52,208.7 L55.2,210.1 L58.4,211.7 L61.6,213.5 L64.7,215.5 L67.8,217.6 L70.8,220 L73.7,222.5 L76.6,225.1 L79.3,227.9 L81.9,230.8 L84.4,233.9 L86.8,237 L89,240.3 L91,243.6 L92.9,247 L94.6,250.4 L96.1,253.9 L97.4,257.4 L98.6,260.9 L99.5,264.3 L100.2,267.8 L100.8,271.2 L101.1,274.6 L101.2,277.9 M53.4,207.5 L56.6,208.9 L59.9,210.6 L63.1,212.4 L66.3,214.4 L69.5,216.6 L72.5,219 L75.5,221.5 L78.4,224.2 L81.2,227 L83.9,230 L86.4,233.1 L88.8,236.3 L91,239.6 L93.1,243 L95,246.5 L96.7,250 L98.3,253.5 L99.6,257 L100.8,260.6 L101.7,264.1 L102.5,267.7 L103,271.1 L103.3,274.6 L103.5,277.9 M54.8,206.3 L58.1,207.8 L61.4,209.4 L64.7,211.3 L68,213.3 L71.2,215.5 L74.3,218 L77.3,220.5 L80.2,223.3 L83.1,226.2 L85.8,229.2 L88.4,232.4 L90.8,235.6 L93.1,239 L95.2,242.4 L97.1,245.9 L98.9,249.5 L100.5,253.1 L101.8,256.7 L103,260.3 L104,263.9 L104.7,267.5 L105.3,271 L105.6,274.5 L105.7,277.9 M56.2,205.2 L59.6,206.6 L63,208.3 L66.3,210.2 L69.6,212.2 L72.9,214.5 L76,217 L79.1,219.6 L82.1,222.4 L85,225.3 L87.7,228.4 L90.4,231.6 L92.8,234.9 L95.2,238.4 L97.3,241.8 L99.3,245.4 L101.1,249 L102.7,252.7 L104.1,256.4 L105.3,260 L106.2,263.7 L107,267.3 L107.6,270.9 L107.9,274.5 L108,277.9 M57.7,204 L61.1,205.5 L64.5,207.2 L67.9,209.1 L71.3,211.2 L74.6,213.5 L77.8,216 L80.9,218.7 L84,221.5 L86.9,224.5 L89.7,227.6 L92.4,230.9 L94.9,234.2 L97.2,237.7 L99.4,241.3 L101.4,244.9 L103.2,248.6 L104.9,252.3 L106.3,256 L107.5,259.7 L108.5,263.5 L109.3,267.2 L109.8,270.8 L110.2,274.4 L110.3,277.9 M59.1,202.8 L62.6,204.3 L66.1,206 L69.6,208 L73,210.1 L76.3,212.5 L79.6,215 L82.8,217.7 L85.9,220.6 L88.8,223.6 L91.7,226.8 L94.4,230.1 L96.9,233.5 L99.3,237.1 L101.5,240.7 L103.6,244.4 L105.4,248.1 L107.1,251.9 L108.5,255.6 L109.8,259.4 L110.8,263.2 L111.6,267 L112.1,270.7 L112.5,274.4 L112.6,277.9 M60.6,201.7 L64.2,203.2 L67.7,204.9 L71.2,206.9 L74.7,209.1 L78.1,211.5 L81.4,214 L84.6,216.8 L87.8,219.7 L90.8,222.8 L93.7,226 L96.4,229.4 L99,232.9 L101.4,236.4 L103.7,240.1 L105.7,243.8 L107.6,247.6 L109.3,251.4 L110.8,255.3 L112,259.1 L113,263 L113.8,266.8 L114.4,270.6 L114.8,274.3 L114.9,277.9 M62.1,200.5 L65.8,202.1 L69.3,203.8 L72.9,205.8 L76.4,208 L79.8,210.5 L83.2,213.1 L86.5,215.9 L89.7,218.8 L92.7,222 L95.7,225.2 L98.4,228.6 L101.1,232.2 L103.5,235.8 L105.8,239.5 L107.9,243.3 L109.8,247.1 L111.5,251 L113,254.9 L114.3,258.8 L115.3,262.7 L116.1,266.6 L116.7,270.4 L117.1,274.2 L117.2,277.9 M63.7,199.4 L67.3,201 L71,202.8 L74.6,204.8 L78.1,207 L81.6,209.5 L85.1,212.1 L88.4,214.9 L91.6,218 L94.7,221.1 L97.7,224.5 L100.5,227.9 L103.2,231.5 L105.7,235.2 L108,238.9 L110.1,242.8 L112,246.7 L113.8,250.6 L115.3,254.6 L116.5,258.5 L117.6,262.5 L118.4,266.4 L119,270.3 L119.4,274.1 L119.5,277.8 M65.3,198.3 L69,199.9 L72.6,201.7 L76.3,203.7 L79.9,206 L83.4,208.5 L86.9,211.2 L90.3,214 L93.5,217.1 L96.7,220.3 L99.7,223.7 L102.6,227.2 L105.3,230.8 L107.8,234.5 L110.1,238.3 L112.3,242.2 L114.2,246.2 L116,250.2 L117.5,254.2 L118.8,258.2 L119.9,262.2 L120.7,266.2 L121.3,270.1 L121.7,274 L121.8,277.8 M66.8,197.2 L70.6,198.8 L74.3,200.6 L78,202.7 L81.7,205 L85.3,207.5 L88.8,210.2 L92.2,213.1 L95.5,216.2 L98.7,219.5 L101.7,222.9 L104.6,226.4 L107.4,230.1 L109.9,233.9 L112.3,237.8 L114.5,241.7 L116.5,245.7 L118.2,249.7 L119.8,253.8 L121.1,257.9 L122.2,261.9 L123,266 L123.7,269.9 L124,273.9 L124.1,277.7 M68.4,196.1 L72.2,197.7 L76,199.6 L79.8,201.7 L83.5,204 L87.1,206.6 L90.6,209.3 L94.1,212.3 L97.5,215.4 L100.7,218.7 L103.8,222.1 L106.7,225.7 L109.5,229.4 L112.1,233.3 L114.5,237.2 L116.7,241.2 L118.7,245.2 L120.5,249.3 L122,253.4 L123.4,257.5 L124.5,261.6 L125.4,265.7 L126,269.8 L126.3,273.7 L126.5,277.6 M70.1,195 L73.9,196.7 L77.7,198.5 L81.5,200.7 L85.3,203 L88.9,205.6 L92.5,208.4 L96,211.4 L99.4,214.5 L102.7,217.9 L105.8,221.4 L108.8,225 L111.6,228.8 L114.2,232.6 L116.7,236.6 L118.9,240.6 L120.9,244.7 L122.7,248.9 L124.3,253 L125.7,257.2 L126.8,261.4 L127.7,265.5 L128.3,269.6 L128.7,273.6 L128.8,277.5 M71.7,193.9 L75.6,195.6 L79.5,197.5 L83.3,199.7 L87.1,202.1 L90.8,204.7 L94.4,207.5 L98,210.5 L101.4,213.7 L104.7,217.1 L107.9,220.6 L110.9,224.3 L113.7,228.1 L116.4,232 L118.8,236 L121.1,240.1 L123.2,244.2 L125,248.4 L126.6,252.6 L128,256.9 L129.1,261.1 L130,265.2 L130.6,269.4 L131,273.4 L131.1,277.4 M73.4,192.9 L77.3,194.6 L81.2,196.5 L85.1,198.7 L88.9,201.1 L92.7,203.7 L96.4,206.6 L99.9,209.6 L103.4,212.9 L106.7,216.3 L109.9,219.9 L113,223.6 L115.8,227.4 L118.5,231.4 L121,235.4 L123.3,239.6 L125.4,243.8 L127.2,248 L128.9,252.3 L130.3,256.5 L131.4,260.8 L132.3,265 L132.9,269.2 L133.3,273.3 L133.4,277.3 M75.1,191.9 L79,193.6 L83,195.5 L86.9,197.7 L90.8,200.1 L94.6,202.8 L98.3,205.7 L101.9,208.8 L105.4,212.1 L108.8,215.5 L112,219.1 L115.1,222.9 L118,226.8 L120.7,230.8 L123.2,234.9 L125.5,239 L127.6,243.3 L129.5,247.6 L131.1,251.9 L132.5,256.2 L133.7,260.5 L134.6,264.7 L135.2,269 L135.6,273.1 L135.8,277.2 M76.7,190.8 L80.8,192.6 L84.8,194.5 L88.7,196.8 L92.6,199.2 L96.5,201.9 L100.2,204.8 L103.9,207.9 L107.4,211.2 L110.8,214.7 L114.1,218.4 L117.2,222.2 L120.1,226.1 L122.9,230.1 L125.4,234.3 L127.8,238.5 L129.9,242.8 L131.8,247.1 L133.4,251.5 L134.8,255.8 L136,260.2 L136.9,264.5 L137.6,268.7 L138,272.9 L138.1,277 M78.5,189.8 L82.5,191.6 L86.6,193.6 L90.6,195.8 L94.5,198.3 L98.4,201 L102.2,203.9 L105.9,207.1 L109.4,210.4 L112.9,214 L116.2,217.6 L119.3,221.5 L122.3,225.4 L125,229.5 L127.6,233.7 L130,238 L132.1,242.3 L134,246.7 L135.7,251.1 L137.1,255.5 L138.3,259.8 L139.2,264.2 L139.9,268.5 L140.3,272.7 L140.4,276.9 M80.2,188.8 L84.3,190.6 L88.4,192.6 L92.4,194.9 L96.4,197.4 L100.3,200.1 L104.1,203.1 L107.9,206.3 L111.5,209.6 L114.9,213.2 L118.3,216.9 L121.4,220.8 L124.4,224.8 L127.2,228.9 L129.8,233.1 L132.2,237.4 L134.4,241.8 L136.3,246.2 L138,250.6 L139.4,255.1 L140.6,259.5 L141.5,263.9 L142.2,268.3 L142.6,272.5 L142.7,276.7 M81.9,187.9 L86.1,189.6 L90.2,191.7 L94.3,193.9 L98.3,196.5 L102.2,199.3 L106.1,202.2 L109.9,205.5 L113.5,208.9 L117,212.4 L120.4,216.2 L123.6,220.1 L126.6,224.1 L129.4,228.3 L132,232.6 L134.4,236.9 L136.6,241.3 L138.5,245.8 L140.3,250.2 L141.7,254.7 L142.9,259.2 L143.8,263.6 L144.5,268 L144.9,272.3 L145.1,276.5 M83.7,186.9 L87.9,188.7 L92,190.7 L96.1,193 L100.2,195.6 L104.2,198.4 L108.1,201.4 L111.9,204.6 L115.5,208.1 L119.1,211.7 L122.5,215.5 L125.7,219.4 L128.7,223.5 L131.6,227.7 L134.2,232 L136.6,236.4 L138.8,240.8 L140.8,245.3 L142.5,249.8 L144,254.3 L145.2,258.8 L146.1,263.3 L146.8,267.7 L147.2,272.1 L147.4,276.4 M85.5,186 L89.7,187.8 L93.9,189.8 L98,192.2 L102.1,194.7 L106.1,197.5 L110.1,200.6 L113.9,203.9 L117.6,207.3 L121.2,211 L124.6,214.8 L127.8,218.8 L130.9,222.9 L133.8,227.1 L136.4,231.4 L138.9,235.8 L141.1,240.3 L143.1,244.9 L144.8,249.4 L146.3,254 L147.5,258.5 L148.4,263 L149.1,267.5 L149.5,271.9 L149.7,276.2 M87.3,185 L91.5,186.9 L95.7,188.9 L99.9,191.3 L104,193.9 L108.1,196.7 L112,199.8 L115.9,203.1 L119.6,206.6 L123.2,210.2 L126.7,214.1 L129.9,218.1 L133,222.2 L135.9,226.5 L138.6,230.9 L141.1,235.3 L143.3,239.8 L145.3,244.4 L147.1,249 L148.6,253.6 L149.8,258.2 L150.7,262.7 L151.4,267.2 L151.9,271.6 L152,276 M89.1,184.1 L93.4,186 L97.6,188.1 L101.8,190.4 L106,193 L110,195.9 L114,199 L117.9,202.3 L121.7,205.8 L125.3,209.5 L128.8,213.4 L132.1,217.4 L135.2,221.6 L138.1,225.9 L140.8,230.3 L143.3,234.8 L145.6,239.3 L147.6,243.9 L149.3,248.6 L150.8,253.2 L152.1,257.8 L153,262.4 L153.7,266.9 L154.1,271.4 L154.3,275.7 M90.9,183.2 L95.2,185.1 L99.5,187.2 L103.7,189.6 L107.9,192.2 L112,195.1 L116,198.2 L120,201.5 L123.7,205.1 L127.4,208.8 L130.9,212.7 L134.2,216.8 L137.3,221 L140.3,225.3 L143,229.7 L145.5,234.3 L147.8,238.9 L149.8,243.5 L151.6,248.1 L153.1,252.8 L154.3,257.4 L155.3,262.1 L156,266.6 L156.4,271.1 L156.6,275.5 M92.7,182.4 L97.1,184.2 L101.4,186.3 L105.6,188.7 L109.9,191.4 L114,194.3 L118,197.4 L122,200.8 L125.8,204.4 L129.5,208.1 L133,212 L136.3,216.1 L139.5,220.4 L142.5,224.7 L145.2,229.2 L147.7,233.7 L150,238.4 L152,243 L153.8,247.7 L155.4,252.4 L156.6,257.1 L157.6,261.7 L158.3,266.3 L158.7,270.8 L158.9,275.3 M94.6,181.5 L98.9,183.4 L103.3,185.5 L107.6,187.9 L111.8,190.6 L116,193.5 L120.1,196.7 L124,200 L127.9,203.6 L131.6,207.4 L135.1,211.4 L138.5,215.5 L141.7,219.8 L144.6,224.2 L147.4,228.6 L149.9,233.2 L152.2,237.9 L154.3,242.6 L156.1,247.3 L157.6,252 L158.9,256.7 L159.9,261.4 L160.6,266 L161,270.6 L161.1,275 M96.4,180.7 L100.8,182.5 L105.2,184.7 L109.5,187.1 L113.8,189.8 L118,192.7 L122.1,195.9 L126.1,199.3 L129.9,202.9 L133.7,206.7 L137.2,210.7 L140.6,214.9 L143.8,219.2 L146.8,223.6 L149.6,228.1 L152.1,232.7 L154.4,237.4 L156.5,242.1 L158.3,246.8 L159.9,251.6 L161.1,256.3 L162.1,261 L162.8,265.7 L163.3,270.3 L163.4,274.8 M98.3,179.8 L102.7,181.7 L107.1,183.9 L111.5,186.3 L115.7,189 L120,192 L124.1,195.2 L128.1,198.6 L132,202.2 L135.7,206.1 L139.3,210.1 L142.7,214.3 L145.9,218.6 L149,223 L151.8,227.6 L154.3,232.2 L156.7,236.9 L158.7,241.6 L160.6,246.4 L162.1,251.2 L163.4,256 L164.4,260.7 L165.1,265.4 L165.5,270 L165.7,274.5 M100.2,179 L104.6,180.9 L109,183.1 L113.4,185.6 L117.7,188.3 L122,191.3 L126.1,194.5 L130.2,197.9 L134.1,201.6 L137.8,205.4 L141.4,209.4 L144.9,213.6 L148.1,218 L151.1,222.4 L153.9,227 L156.5,231.7 L158.9,236.4 L160.9,241.2 L162.8,246 L164.3,250.8 L165.6,255.6 L166.6,260.3 L167.3,265 L167.8,269.7 L167.9,274.2 M102.1,178.3 L106.5,180.2 L111,182.3 L115.4,184.8 L119.7,187.5 L124,190.5 L128.1,193.8 L132.2,197.2 L136.1,200.9 L139.9,204.8 L143.5,208.8 L147,213 L150.2,217.4 L153.3,221.9 L156.1,226.5 L158.7,231.2 L161,235.9 L163.1,240.7 L165,245.5 L166.6,250.4 L167.8,255.2 L168.9,260 L169.6,264.7 L170,269.4 L170.2,273.9 M104,177.5 L108.5,179.4 L112.9,181.6 L117.3,184.1 L121.7,186.8 L126,189.8 L130.2,193.1 L134.2,196.6 L138.2,200.2 L142,204.1 L145.6,208.2 L149.1,212.4 L152.4,216.8 L155.4,221.3 L158.3,225.9 L160.9,230.6 L163.2,235.4 L165.3,240.2 L167.2,245.1 L168.8,250 L170.1,254.8 L171.1,259.6 L171.8,264.4 L172.3,269 L172.4,273.6 M105.9,176.7 L110.4,178.7 L114.9,180.9 L119.3,183.4 L123.7,186.1 L128,189.1 L132.2,192.4 L136.3,195.9 L140.3,199.6 L144.1,203.5 L147.7,207.6 L151.2,211.8 L154.5,216.2 L157.6,220.8 L160.4,225.4 L163,230.1 L165.4,234.9 L167.5,239.8 L169.4,244.7 L171,249.5 L172.3,254.4 L173.3,259.2 L174,264 L174.5,268.7 L174.6,273.3 M107.8,176 L112.3,177.9 L116.8,180.2 L121.3,182.7 L125.7,185.4 L130,188.5 L134.2,191.7 L138.3,195.2 L142.3,199 L146.1,202.9 L149.8,207 L153.3,211.3 L156.6,215.7 L159.7,220.2 L162.6,224.9 L165.2,229.6 L167.6,234.5 L169.7,239.3 L171.6,244.2 L173.2,249.1 L174.5,254 L175.5,258.8 L176.2,263.6 L176.7,268.4 L176.8,273 M109.7,175.3 L114.3,177.2 L118.8,179.5 L123.2,182 L127.7,184.8 L132,187.8 L136.2,191.1 L140.4,194.6 L144.4,198.3 L148.2,202.3 L151.9,206.4 L155.4,210.7 L158.7,215.1 L161.8,219.7 L164.7,224.4 L167.3,229.1 L169.7,234 L171.9,238.9 L173.7,243.8 L175.3,248.7 L176.7,253.6 L177.7,258.5 L178.4,263.3 L178.9,268 L179,272.6 M111.7,174.6 L116.2,176.6 L120.7,178.8 L125.2,181.3 L129.7,184.1 L134,187.2 L138.3,190.5 L142.4,194 L146.4,197.7 L150.3,201.7 L154,205.8 L157.5,210.1 L160.8,214.6 L163.9,219.2 L166.8,223.9 L169.5,228.6 L171.9,233.5 L174,238.4 L175.9,243.3 L177.5,248.3 L178.8,253.2 L179.9,258.1 L180.6,262.9 L181,267.7 L181.2,272.3 M113.6,174 L118.2,175.9 L122.7,178.1 L127.2,180.7 L131.6,183.5 L136,186.5 L140.3,189.8 L144.4,193.4 L148.5,197.1 L152.4,201.1 L156.1,205.3 L159.6,209.6 L162.9,214 L166,218.6 L168.9,223.3 L171.6,228.1 L174,233 L176.2,237.9 L178,242.9 L179.7,247.8 L181,252.8 L182,257.7 L182.8,262.5 L183.2,267.3 L183.4,272 M115.5,173.3 L120.1,175.3 L124.7,177.5 L129.2,180 L133.6,182.8 L138,185.9 L142.3,189.2 L146.5,192.8 L150.5,196.6 L154.4,200.5 L158.1,204.7 L161.7,209 L165,213.5 L168.1,218.1 L171,222.8 L173.7,227.7 L176.1,232.5 L178.3,237.5 L180.2,242.4 L181.8,247.4 L183.1,252.4 L184.2,257.3 L184.9,262.1 L185.4,266.9 L185.5,271.6 M117.5,172.7 L122.1,174.6 L126.6,176.9 L131.2,179.4 L135.6,182.2 L140,185.3 L144.3,188.7 L148.5,192.2 L152.6,196 L156.5,200 L160.2,204.2 L163.7,208.5 L167.1,213 L170.2,217.6 L173.1,222.3 L175.8,227.2 L178.2,232.1 L180.4,237 L182.3,242 L183.9,247 L185.2,251.9 L186.3,256.9 L187,261.7 L187.5,266.5 L187.6,271.2 M119.4,172.1 L124,174 L128.6,176.3 L133.2,178.8 L137.6,181.7 L142,184.7 L146.3,188.1 L150.5,191.6 L154.6,195.4 L158.5,199.4 L162.2,203.6 L165.8,208 L169.2,212.5 L172.3,217.1 L175.2,221.9 L177.9,226.7 L180.3,231.6 L182.5,236.6 L184.4,241.5 L186,246.5 L187.4,251.5 L188.4,256.4 L189.1,261.3 L189.6,266.1 L189.7,270.8 M121.4,171.5 L126,173.4 L130.6,175.7 L135.1,178.3 L139.6,181.1 L144,184.2 L148.4,187.5 L152.6,191.1 L156.6,194.9 L160.5,198.9 L164.3,203.1 L167.8,207.5 L171.2,212 L174.4,216.6 L177.3,221.4 L180,226.2 L182.4,231.1 L184.6,236.1 L186.5,241.1 L188.1,246.1 L189.4,251.1 L190.5,256 L191.2,260.9 L191.7,265.7 L191.8,270.5 M123.4,170.9 L128,172.9 L132.6,175.2 L137.1,177.7 L141.6,180.5 L146,183.6 L150.4,187 L154.6,190.6 L158.6,194.4 L162.6,198.4 L166.3,202.6 L169.9,206.9 L173.3,211.5 L176.4,216.1 L179.3,220.9 L182,225.7 L184.5,230.7 L186.6,235.6 L188.6,240.6 L190.2,245.6 L191.5,250.6 L192.6,255.6 L193.3,260.5 L193.8,265.3 L193.9,270.1 M125.3,170.4 L129.9,172.3 L134.5,174.6 L139.1,177.2 L143.6,180 L148,183.1 L152.4,186.5 L156.6,190.1 L160.7,193.9 L164.6,197.9 L168.3,202.1 L171.9,206.5 L175.3,211 L178.5,215.6 L181.4,220.4 L184.1,225.3 L186.5,230.2 L188.7,235.2 L190.6,240.2 L192.2,245.2 L193.6,250.2 L194.6,255.2 L195.4,260.1 L195.8,264.9 L196,269.6 M127.3,169.8 L131.9,171.8 L136.5,174.1 L141.1,176.7 L145.6,179.5 L150,182.6 L154.4,186 L158.6,189.5 L162.7,193.4 L166.6,197.4 L170.4,201.6 L173.9,206 L177.3,210.5 L180.5,215.2 L183.4,219.9 L186.1,224.8 L188.6,229.7 L190.7,234.7 L192.6,239.7 L194.3,244.8 L195.6,249.8 L196.7,254.7 L197.4,259.7 L197.9,264.5 L198,269.2 M129.3,169.3 L133.9,171.3 L138.5,173.6 L143.1,176.2 L147.6,179 L152,182.1 L156.4,185.5 L160.6,189.1 L164.7,192.9 L168.6,196.9 L172.4,201.1 L175.9,205.5 L179.3,210 L182.5,214.7 L185.4,219.5 L188.1,224.3 L190.6,229.3 L192.7,234.3 L194.7,239.3 L196.3,244.3 L197.6,249.3 L198.7,254.3 L199.4,259.2 L199.9,264.1 L200.1,268.8 M131.2,168.9 L135.9,170.8 L140.5,173.1 L145,175.7 L149.6,178.5 L154,181.6 L158.3,185 L162.6,188.6 L166.6,192.4 L170.6,196.4 L174.3,200.6 L177.9,205 L181.3,209.6 L184.5,214.2 L187.4,219 L190.1,223.9 L192.6,228.8 L194.7,233.8 L196.7,238.8 L198.3,243.9 L199.6,248.9 L200.7,253.9 L201.4,258.8 L201.9,263.6 L202.1,268.4"/>
<path class="ax" d="M20.3,194.1 L20.3,265.7 L105.3,299.2 L218.2,273.5"/>
<path class="ax" d="M20.3,265.7 L18.5,265.7 M20.3,251.4 L18.5,251.4 M20.3,237.1 L18.5,237.1 M20.3,222.7 L18.5,222.7 M20.3,208.4 L18.5,208.4 M20.3,194.1 L18.5,194.1 M20.3,265.7 L19.1,266.8 M34.5,271.3 L33.3,272.4 M48.6,276.9 L47.4,278 M62.8,282.5 L61.6,283.6 M77,288 L75.8,289.1 M91.1,293.6 L89.9,294.7 M105.3,299.2 L104.1,300.3 M218.2,273.5 L219.2,274.9 M195.6,278.6 L196.6,280 M173,283.8 L174,285.2 M150.5,288.9 L151.5,290.3 M127.9,294.1 L128.9,295.5 M105.3,299.2 L106.3,300.6"/>
<g class="tl"><text x="16.7" y="267" text-anchor="end">0</text><text x="16.7" y="252.7" text-anchor="end">0.2</text><text x="16.7" y="238.4" text-anchor="end">0.4</text><text x="16.7" y="224" text-anchor="end">0.6</text><text x="16.7" y="209.7" text-anchor="end">0.8</text><text x="16.7" y="195.4" text-anchor="end">1</text><text x="17.3" y="270.9" text-anchor="end">0</text><text x="31.5" y="276.5" text-anchor="end">0.2</text><text x="45.6" y="282.1" text-anchor="end">0.4</text><text x="59.8" y="287.7" text-anchor="end">0.6</text><text x="74" y="293.2" text-anchor="end">0.8</text><text x="88.1" y="298.8" text-anchor="end">1</text><text x="102.3" y="304.4" text-anchor="end">1.2</text><text x="220.9" y="279.1">0</text><text x="198.3" y="284.2">0.2</text><text x="175.7" y="289.4">0.4</text><text x="153.2" y="294.5">0.6</text><text x="130.6" y="299.7">0.8</text><text x="108" y="304.8">1</text></g>
<text class="at" x="60" y="303.9" text-anchor="middle">2<tspan class="sup" dy="-1.3">nd</tspan><tspan dy="1.3"> Objective</tspan></text>
<text class="at" x="159.9" y="305.9" text-anchor="middle">1<tspan class="sup" dy="-1.3">st</tspan><tspan dy="1.3"> Objective</tspan></text>
<text class="at" transform="translate(8.9,230.3) rotate(-90)" text-anchor="middle">3<tspan class="sup" dy="-1.3">rd</tspan><tspan dy="1.3"> Objective</tspan></text>
<g fill="#00ff00"><circle cx="106" cy="209.7" r="1.4"/><circle cx="105" cy="222.8" r="1.4"/><circle cx="94" cy="229" r="1.4"/><circle cx="94.4" cy="230.4" r="1.4"/><circle cx="116.8" cy="227.7" r="1.4"/><circle cx="121.7" cy="226.7" r="1.4"/><circle cx="130.8" cy="227.5" r="1.4"/><circle cx="125.9" cy="231.9" r="1.4"/><circle cx="153" cy="217.8" r="1.4"/><circle cx="145.3" cy="224.6" r="1.4"/><circle cx="157.5" cy="230.6" r="1.4"/><circle cx="158.8" cy="235.4" r="1.4"/><circle cx="136.6" cy="233.3" r="1.4"/><circle cx="135.6" cy="234.4" r="1.4"/><circle cx="113" cy="235.8" r="1.4"/><circle cx="81.1" cy="238.7" r="1.4"/><circle cx="88.2" cy="240.2" r="1.4"/><circle cx="78.5" cy="242.2" r="1.4"/><circle cx="71.8" cy="246" r="1.4"/><circle cx="142.4" cy="238.7" r="1.4"/><circle cx="131.1" cy="239.7" r="1.4"/><circle cx="156.9" cy="238.7" r="1.4"/><circle cx="151.1" cy="243.5" r="1.4"/><circle cx="126.5" cy="243.5" r="1.4"/><circle cx="126.9" cy="244.9" r="1.4"/><circle cx="129.8" cy="244.5" r="1.4"/><circle cx="113.4" cy="244.5" r="1.4"/><circle cx="106.2" cy="245.8" r="1.4"/><circle cx="98.8" cy="245.1" r="1.4"/><circle cx="122.4" cy="246.4" r="1.4"/><circle cx="134.6" cy="247" r="1.4"/><circle cx="141.4" cy="246.8" r="1.4"/><circle cx="141.8" cy="248.7" r="1.4"/><circle cx="133.1" cy="248.4" r="1.4"/><circle cx="153.6" cy="247.4" r="1.4"/><circle cx="155.9" cy="250.9" r="1.4"/><circle cx="160.7" cy="245.8" r="1.4"/><circle cx="161.1" cy="249.9" r="1.4"/><circle cx="116.8" cy="250.7" r="1.4"/><circle cx="112.4" cy="251.8" r="1.4"/><circle cx="120.1" cy="252.2" r="1.4"/><circle cx="124.6" cy="251.3" r="1.4"/><circle cx="139.5" cy="252.2" r="1.4"/><circle cx="148.6" cy="251.8" r="1.4"/><circle cx="87.8" cy="252.6" r="1.4"/><circle cx="76.2" cy="253.8" r="1.4"/><circle cx="75.6" cy="257.6" r="1.4"/><circle cx="114.3" cy="255.1" r="1.4"/><circle cx="138.5" cy="254.5" r="1.4"/><circle cx="142.4" cy="255.1" r="1.4"/><circle cx="145.9" cy="256.7" r="1.4"/><circle cx="135.6" cy="257.1" r="1.4"/><circle cx="107.6" cy="257.1" r="1.4"/><circle cx="98.8" cy="258.6" r="1.4"/><circle cx="160.7" cy="258" r="1.4"/><circle cx="169.7" cy="230" r="1.4"/><circle cx="165.8" cy="242.2" r="1.4"/><circle cx="192.9" cy="244.1" r="1.4"/><circle cx="185.7" cy="250.3" r="1.4"/><circle cx="168.3" cy="252.8" r="1.4"/><circle cx="174.9" cy="256.5" r="1.4"/><circle cx="196.2" cy="257.4" r="1.4"/><circle cx="206.8" cy="254.7" r="1.4"/><circle cx="209.9" cy="258.4" r="1.4"/><circle cx="99.4" cy="259.5" r="1.4"/><circle cx="144.3" cy="259.5" r="1.4"/><circle cx="134.2" cy="260.9" r="1.4"/><circle cx="154.9" cy="262.8" r="1.4"/><circle cx="149.1" cy="264.3" r="1.4"/><circle cx="103.7" cy="264.3" r="1.4"/><circle cx="109.1" cy="265.3" r="1.4"/><circle cx="124" cy="264.3" r="1.4"/><circle cx="129.2" cy="264.9" r="1.4"/><circle cx="103.3" cy="268.6" r="1.4"/><circle cx="96.3" cy="269.2" r="1.4"/><circle cx="119.5" cy="268.2" r="1.4"/><circle cx="107.9" cy="273" r="1.4"/><circle cx="124.6" cy="275" r="1.4"/><circle cx="132.7" cy="271.7" r="1.4"/><circle cx="144.3" cy="271.5" r="1.4"/><circle cx="149.7" cy="270.1" r="1.4"/><circle cx="155.5" cy="269.6" r="1.4"/><circle cx="81.4" cy="276.5" r="1.4"/><circle cx="148.8" cy="276" r="1.4"/><circle cx="150.1" cy="276" r="1.4"/><circle cx="132.7" cy="279.4" r="1.4"/><circle cx="138.1" cy="280.2" r="1.4"/><circle cx="142.4" cy="280.4" r="1.4"/><circle cx="148.2" cy="282.3" r="1.4"/><circle cx="160.7" cy="264.3" r="1.4"/><circle cx="170" cy="262.5" r="1.4"/><circle cx="166.1" cy="266.5" r="1.4"/><circle cx="169" cy="266.2" r="1.4"/><circle cx="163.9" cy="272.3" r="1.4"/><circle cx="165.4" cy="271.3" r="1.4"/><circle cx="179.6" cy="273.7" r="1.4"/><circle cx="187.2" cy="271.3" r="1.4"/><circle cx="190.8" cy="277.5" r="1.4"/><circle cx="198.8" cy="259.6" r="1.4"/><circle cx="211.9" cy="263.6" r="1.4"/></g>
<rect x="173.6" y="161.2" width="63" height="26.5" fill="#fff" stroke="none"/>
<rect class="lg" x="173.6" y="161.2" width="63" height="26.5"/>
<circle cx="194.4" cy="168.6" r="1.05" fill="#fff" stroke="#7a7a7a" stroke-width="0.55"/>
<circle cx="194.4" cy="180.7" r="1.4" fill="#00ff00"/>
<text class="lt" x="200.9" y="170.7" textLength="19.5" lengthAdjust="spacingAndGlyphs">True PF</text>
<text class="lt" x="200.9" y="182.8" textLength="20" lengthAdjust="spacingAndGlyphs">MOPSO</text></g>
<g id="P4"><path class="grid" d="M443.8,240.7 L528,274.4 M443.8,240.7 L443.8,169.2 M427.5,244.2 L511.7,277.9 M427.5,244.2 L427.5,172.7 M411.3,247.8 L495.5,281.5 M411.3,247.8 L411.3,176.2 M395,251.3 L479.2,285 M395,251.3 L395,179.7 M378.8,254.8 L463,288.5 M378.8,254.8 L378.8,183.3 M362.5,258.3 L446.7,292 M362.5,258.3 L362.5,186.8 M346.3,261.9 L430.5,295.6 M346.3,261.9 L346.3,190.3 M330,265.4 L414.2,299.1 M330,265.4 L330,193.9 M443.8,240.7 L330,265.4 M443.8,240.7 L443.8,169.2 M455.8,245.5 L342,270.2 M455.8,245.5 L455.8,174 M467.9,250.3 L354.1,275 M467.9,250.3 L467.9,178.8 M479.9,255.1 L366.1,279.8 M479.9,255.1 L479.9,183.6 M491.9,260 L378.1,284.7 M491.9,260 L491.9,188.4 M503.9,264.8 L390.1,289.5 M503.9,264.8 L503.9,193.2 M516,269.6 L402.2,294.3 M516,269.6 L516,198 M528,274.4 L414.2,299.1 M528,274.4 L528,202.9 M330,265.4 L443.8,240.7 L528,274.4 M330,255.2 L443.8,230.5 L528,264.2 M330,245 L443.8,220.3 L528,254 M330,234.7 L443.8,210 L528,243.7 M330,224.5 L443.8,199.8 L528,233.5 M330,214.3 L443.8,189.6 L528,223.3 M330,204.1 L443.8,179.4 L528,213.1 M330,193.9 L443.8,169.2 L528,202.9"/>
<polygon fill="#fbfbfb" points="362.5,258.3 362.5,257 362.6,255.6 362.8,254.3 363,252.9 363.2,251.5 363.5,250.1 363.9,248.7 364.3,247.3 364.8,245.9 365.3,244.5 365.9,243.1 366.5,241.7 367.2,240.3 367.9,238.9 368.7,237.4 369.5,236 370.4,234.6 371.4,233.2 372.4,231.8 373.4,230.4 374.5,229 375.6,227.7 376.8,226.3 378,224.9 379.3,223.6 380.6,222.3 382,220.9 383.4,219.6 384.8,218.3 386.3,217 387.8,215.8 389.4,214.5 391,213.3 392.6,212.1 394.3,210.9 396,209.7 397.8,208.6 399.5,207.5 401.3,206.3 403.2,205.3 405,204.2 406.9,203.2 408.8,202.2 410.7,201.2 412.7,200.2 414.7,199.3 416.7,198.4 418.7,197.6 420.7,196.7 422.8,195.9 424.8,195.1 426.9,194.4 429,193.7 431.1,193 433.2,192.3 435.3,191.7 437.4,191.1 439.5,190.6 441.7,190.1 443.8,189.6 445.4,190.2 446.9,190.9 448.5,191.6 450.1,192.4 451.7,193.2 453.2,194 454.8,194.8 456.3,195.7 457.8,196.6 459.4,197.6 460.9,198.5 462.4,199.5 463.9,200.6 465.4,201.6 466.8,202.7 468.3,203.8 469.7,204.9 471.1,206.1 472.5,207.3 473.9,208.5 475.2,209.7 476.6,211 477.9,212.2 479.2,213.5 480.4,214.8 481.6,216.1 482.9,217.5 484,218.8 485.2,220.2 486.3,221.6 487.4,223 488.5,224.4 489.5,225.8 490.5,227.2 491.5,228.7 492.5,230.1 493.4,231.6 494.2,233.1 495.1,234.5 495.9,236 496.7,237.5 497.4,238.9 498.1,240.4 498.7,241.9 499.4,243.4 499.9,244.9 500.5,246.3 501,247.8 501.5,249.3 501.9,250.7 502.3,252.2 502.6,253.6 502.9,255.1 503.2,256.5 503.4,257.9 503.6,259.3 503.8,260.7 503.9,262.1 503.9,263.4 503.9,264.8 501.8,265.2 499.6,265.7 497.4,266.1 495.1,266.5 492.8,266.9 490.5,267.2 488.1,267.6 485.7,267.9 483.3,268.2 480.9,268.5 478.4,268.8 475.9,269 473.4,269.3 470.8,269.5 468.3,269.7 465.7,269.9 463.1,270 460.5,270.2 457.9,270.3 455.2,270.4 452.6,270.4 450,270.5 447.3,270.5 444.7,270.5 442,270.5 439.4,270.5 436.7,270.5 434.1,270.4 431.5,270.3 428.8,270.2 426.2,270.1 423.6,269.9 421,269.7 418.5,269.6 415.9,269.4 413.4,269.1 410.9,268.9 408.4,268.6 405.9,268.3 403.5,268 401.1,267.7 398.7,267.3 396.3,267 394,266.6 391.7,266.2 389.5,265.8 387.3,265.4 385.1,264.9 382.9,264.5 380.9,264 378.8,263.5 376.8,263 374.8,262.4 372.9,261.9 371.1,261.3 369.2,260.8 367.5,260.2 365.8,259.6 364.1,259"/>
<path fill="none" stroke="#c0c0c0" stroke-width="0.8" d="M362.5,257.4 L362.6,257.5 L362.7,257.5 L362.7,257.5 L362.8,257.6 L362.9,257.6 L362.9,257.7 L363,257.7 L363.1,257.8 L363.1,257.8 L363.2,257.9 L363.2,257.9 L363.3,258 L363.3,258.1 L363.4,258.1 L363.4,258.2 L363.4,258.3 L363.5,258.3 L363.5,258.4 L363.5,258.5 L363.5,258.5 L363.6,258.6 L363.6,258.6 L363.6,258.7 L363.6,258.8 M362.6,256.5 L362.7,256.6 L362.8,256.7 L363,256.7 L363.1,256.8 L363.2,256.9 L363.4,257 L363.5,257.1 L363.6,257.2 L363.7,257.3 L363.8,257.4 L363.9,257.5 L364,257.7 L364.1,257.8 L364.2,257.9 L364.3,258 L364.4,258.2 L364.4,258.3 L364.5,258.4 L364.6,258.6 L364.6,258.7 L364.6,258.8 L364.6,258.9 L364.7,259.1 L364.7,259.2 M362.6,255.6 L362.8,255.7 L363,255.8 L363.2,255.9 L363.4,256.1 L363.6,256.2 L363.8,256.3 L364,256.5 L364.2,256.6 L364.4,256.8 L364.5,257 L364.7,257.1 L364.9,257.3 L365,257.5 L365.1,257.7 L365.2,257.9 L365.4,258.1 L365.4,258.3 L365.5,258.5 L365.6,258.7 L365.7,258.8 L365.7,259 L365.7,259.2 L365.8,259.4 L365.8,259.6 M362.7,254.7 L363,254.9 L363.3,255 L363.5,255.1 L363.8,255.3 L364.1,255.5 L364.3,255.6 L364.6,255.8 L364.8,256.1 L365,256.3 L365.3,256.5 L365.5,256.7 L365.7,257 L365.9,257.2 L366,257.5 L366.2,257.7 L366.3,258 L366.5,258.2 L366.6,258.5 L366.7,258.7 L366.8,259 L366.8,259.3 L366.9,259.5 L366.9,259.7 L366.9,260 M362.8,253.8 L363.2,254 L363.5,254.1 L363.8,254.3 L364.2,254.5 L364.5,254.7 L364.8,255 L365.1,255.2 L365.4,255.5 L365.7,255.7 L366,256 L366.3,256.3 L366.5,256.6 L366.8,256.9 L367,257.2 L367.2,257.5 L367.4,257.9 L367.5,258.2 L367.7,258.5 L367.8,258.8 L367.9,259.1 L368,259.5 L368,259.8 L368.1,260.1 L368.1,260.4 M363,252.9 L363.4,253.1 L363.8,253.3 L364.2,253.5 L364.6,253.7 L365,254 L365.4,254.3 L365.7,254.6 L366.1,254.9 L366.5,255.2 L366.8,255.5 L367.1,255.9 L367.4,256.2 L367.7,256.6 L367.9,257 L368.2,257.4 L368.4,257.8 L368.6,258.1 L368.8,258.5 L368.9,258.9 L369,259.3 L369.1,259.7 L369.2,260 L369.2,260.4 L369.2,260.8 M363.1,252 L363.6,252.2 L364.1,252.4 L364.6,252.7 L365,253 L365.5,253.3 L365.9,253.6 L366.4,253.9 L366.8,254.3 L367.2,254.7 L367.6,255.1 L368,255.5 L368.3,255.9 L368.6,256.3 L368.9,256.7 L369.2,257.2 L369.5,257.6 L369.7,258.1 L369.9,258.5 L370.1,259 L370.2,259.4 L370.3,259.9 L370.4,260.3 L370.4,260.7 L370.4,261.1 M363.3,251.1 L363.9,251.3 L364.4,251.6 L364.9,251.8 L365.5,252.2 L366,252.5 L366.5,252.9 L367,253.3 L367.5,253.7 L368,254.1 L368.4,254.6 L368.8,255 L369.2,255.5 L369.6,256 L369.9,256.5 L370.3,257 L370.6,257.5 L370.8,258 L371,258.5 L371.2,259.1 L371.4,259.6 L371.5,260.1 L371.6,260.6 L371.7,261 L371.7,261.5 M363.5,250.1 L364.1,250.4 L364.7,250.7 L365.4,251 L366,251.4 L366.5,251.8 L367.1,252.2 L367.7,252.6 L368.2,253.1 L368.7,253.6 L369.2,254.1 L369.7,254.6 L370.2,255.1 L370.6,255.7 L371,256.2 L371.3,256.8 L371.7,257.4 L372,258 L372.2,258.5 L372.4,259.1 L372.6,259.7 L372.7,260.3 L372.8,260.8 L372.9,261.4 L372.9,261.9 M363.7,249.2 L364.4,249.5 L365.1,249.8 L365.8,250.2 L366.5,250.6 L367.1,251 L367.7,251.5 L368.4,252 L369,252.5 L369.6,253 L370.1,253.6 L370.6,254.2 L371.1,254.8 L371.6,255.4 L372,256 L372.4,256.6 L372.8,257.3 L373.1,257.9 L373.4,258.5 L373.6,259.2 L373.8,259.8 L374,260.4 L374.1,261.1 L374.2,261.7 L374.2,262.3 M364,248.3 L364.8,248.6 L365.5,249 L366.2,249.4 L367,249.8 L367.7,250.3 L368.4,250.8 L369.1,251.3 L369.7,251.9 L370.4,252.5 L371,253.1 L371.6,253.7 L372.1,254.4 L372.6,255 L373.1,255.7 L373.5,256.4 L373.9,257.1 L374.3,257.8 L374.6,258.5 L374.9,259.2 L375.1,259.9 L375.3,260.6 L375.4,261.3 L375.5,262 L375.5,262.6 M364.3,247.3 L365.1,247.7 L365.9,248.1 L366.7,248.5 L367.5,249 L368.3,249.5 L369.1,250.1 L369.8,250.6 L370.5,251.3 L371.2,251.9 L371.9,252.6 L372.5,253.3 L373.1,254 L373.7,254.7 L374.2,255.5 L374.7,256.2 L375.1,257 L375.5,257.7 L375.8,258.5 L376.1,259.3 L376.4,260 L376.6,260.8 L376.7,261.5 L376.8,262.3 L376.8,263 M364.6,246.4 L365.5,246.8 L366.4,247.2 L367.2,247.7 L368.1,248.2 L368.9,248.7 L369.8,249.3 L370.6,250 L371.4,250.6 L372.1,251.3 L372.8,252.1 L373.5,252.8 L374.2,253.6 L374.8,254.4 L375.3,255.2 L375.8,256 L376.3,256.8 L376.7,257.7 L377.1,258.5 L377.4,259.3 L377.7,260.1 L377.9,261 L378,261.8 L378.1,262.5 L378.1,263.3 M364.9,245.5 L365.9,245.9 L366.8,246.3 L367.8,246.8 L368.7,247.4 L369.6,248 L370.5,248.6 L371.4,249.3 L372.2,250 L373,250.8 L373.8,251.6 L374.5,252.4 L375.2,253.2 L375.9,254 L376.5,254.9 L377,255.8 L377.5,256.7 L378,257.6 L378.4,258.5 L378.7,259.4 L379,260.2 L379.2,261.1 L379.4,262 L379.4,262.8 L379.5,263.6 M365.3,244.5 L366.3,245 L367.3,245.4 L368.3,246 L369.3,246.6 L370.3,247.2 L371.2,247.9 L372.2,248.6 L373.1,249.4 L373.9,250.2 L374.8,251 L375.5,251.9 L376.3,252.8 L377,253.7 L377.6,254.6 L378.2,255.6 L378.8,256.5 L379.2,257.5 L379.7,258.4 L380,259.4 L380.3,260.3 L380.6,261.3 L380.7,262.2 L380.8,263.1 L380.9,264 M365.7,243.6 L366.7,244 L367.8,244.6 L368.9,245.1 L370,245.8 L371,246.5 L372,247.2 L373,248 L374,248.8 L374.9,249.6 L375.8,250.5 L376.6,251.4 L377.4,252.4 L378.1,253.4 L378.8,254.3 L379.4,255.4 L380,256.4 L380.5,257.4 L381,258.4 L381.4,259.4 L381.7,260.4 L381.9,261.4 L382.1,262.4 L382.2,263.4 L382.2,264.3 M366.1,242.6 L367.2,243.1 L368.4,243.7 L369.5,244.3 L370.6,245 L371.7,245.7 L372.8,246.5 L373.8,247.3 L374.9,248.2 L375.8,249.1 L376.8,250 L377.7,251 L378.5,252 L379.3,253 L380,254.1 L380.7,255.1 L381.3,256.2 L381.8,257.3 L382.3,258.4 L382.7,259.4 L383.1,260.5 L383.3,261.6 L383.5,262.6 L383.6,263.6 L383.7,264.6 M366.5,241.7 L367.7,242.2 L368.9,242.8 L370.1,243.4 L371.3,244.2 L372.5,244.9 L373.6,245.7 L374.7,246.6 L375.8,247.5 L376.8,248.5 L377.8,249.5 L378.7,250.5 L379.6,251.6 L380.5,252.7 L381.2,253.8 L381.9,254.9 L382.6,256 L383.2,257.2 L383.7,258.3 L384.1,259.4 L384.4,260.6 L384.7,261.7 L384.9,262.8 L385,263.9 L385.1,264.9 M366.9,240.7 L368.2,241.3 L369.5,241.9 L370.8,242.6 L372,243.3 L373.2,244.1 L374.4,245 L375.6,245.9 L376.7,246.9 L377.8,247.9 L378.9,249 L379.9,250 L380.8,251.2 L381.7,252.3 L382.5,253.5 L383.2,254.7 L383.9,255.9 L384.5,257.1 L385,258.3 L385.5,259.5 L385.9,260.6 L386.1,261.8 L386.4,263 L386.5,264.1 L386.5,265.2 M367.4,239.8 L368.8,240.4 L370.1,241 L371.4,241.7 L372.7,242.5 L374,243.4 L375.3,244.3 L376.5,245.2 L377.7,246.3 L378.8,247.3 L379.9,248.4 L381,249.6 L382,250.7 L382.9,251.9 L383.7,253.2 L384.5,254.4 L385.2,255.7 L385.9,256.9 L386.4,258.2 L386.9,259.5 L387.3,260.7 L387.6,261.9 L387.8,263.2 L387.9,264.4 L388,265.5 M367.9,238.9 L369.3,239.5 L370.7,240.1 L372.1,240.9 L373.5,241.7 L374.8,242.6 L376.2,243.6 L377.4,244.6 L378.7,245.6 L379.9,246.7 L381,247.9 L382.1,249.1 L383.2,250.3 L384.1,251.6 L385,252.9 L385.8,254.2 L386.6,255.5 L387.2,256.8 L387.8,258.1 L388.3,259.5 L388.7,260.8 L389.1,262.1 L389.3,263.3 L389.4,264.6 L389.5,265.8 M368.4,237.9 L369.9,238.5 L371.4,239.3 L372.8,240 L374.3,240.9 L375.7,241.8 L377.1,242.8 L378.4,243.9 L379.7,245 L381,246.2 L382.1,247.4 L383.3,248.6 L384.4,249.9 L385.4,251.2 L386.3,252.6 L387.2,253.9 L387.9,255.3 L388.6,256.7 L389.2,258.1 L389.8,259.4 L390.2,260.8 L390.5,262.2 L390.8,263.5 L390.9,264.8 L391,266.1 M369,237 L370.5,237.6 L372,238.4 L373.6,239.2 L375.1,240.1 L376.5,241.1 L378,242.1 L379.4,243.2 L380.7,244.4 L382,245.6 L383.3,246.8 L384.5,248.1 L385.6,249.5 L386.6,250.8 L387.6,252.2 L388.5,253.7 L389.3,255.1 L390.1,256.5 L390.7,258 L391.2,259.4 L391.7,260.9 L392,262.3 L392.3,263.7 L392.4,265 L392.5,266.3 M369.5,236 L371.1,236.7 L372.7,237.5 L374.3,238.3 L375.9,239.3 L377.4,240.3 L378.9,241.4 L380.4,242.5 L381.8,243.7 L383.1,245 L384.4,246.3 L385.7,247.6 L386.8,249 L387.9,250.5 L388.9,251.9 L389.9,253.4 L390.7,254.9 L391.5,256.4 L392.1,257.9 L392.7,259.4 L393.2,260.9 L393.5,262.4 L393.8,263.8 L394,265.2 L394,266.6 M370.1,235.1 L371.8,235.8 L373.4,236.6 L375.1,237.5 L376.7,238.5 L378.3,239.5 L379.9,240.6 L381.4,241.8 L382.8,243.1 L384.3,244.4 L385.6,245.7 L386.9,247.2 L388.1,248.6 L389.2,250.1 L390.3,251.6 L391.3,253.2 L392.1,254.7 L392.9,256.3 L393.6,257.8 L394.2,259.4 L394.7,260.9 L395.1,262.5 L395.3,264 L395.5,265.4 L395.5,266.9 M370.7,234.2 L372.5,234.9 L374.2,235.7 L375.9,236.6 L377.6,237.7 L379.2,238.7 L380.8,239.9 L382.4,241.1 L383.9,242.4 L385.4,243.8 L386.8,245.2 L388.1,246.7 L389.4,248.2 L390.6,249.7 L391.7,251.3 L392.7,252.9 L393.6,254.5 L394.4,256.1 L395.1,257.7 L395.7,259.3 L396.2,261 L396.6,262.5 L396.9,264.1 L397,265.6 L397.1,267.1 M371.4,233.2 L373.2,234 L374.9,234.8 L376.7,235.8 L378.4,236.8 L380.2,238 L381.8,239.2 L383.5,240.4 L385,241.8 L386.5,243.2 L388,244.7 L389.4,246.2 L390.7,247.7 L391.9,249.3 L393,251 L394.1,252.6 L395,254.3 L395.9,256 L396.6,257.6 L397.2,259.3 L397.7,261 L398.2,262.6 L398.4,264.2 L398.6,265.8 L398.7,267.3 M372,232.3 L373.9,233.1 L375.7,234 L377.5,235 L379.3,236 L381.1,237.2 L382.8,238.4 L384.5,239.8 L386.1,241.2 L387.7,242.6 L389.2,244.1 L390.6,245.7 L392,247.3 L393.3,249 L394.4,250.6 L395.5,252.3 L396.5,254.1 L397.4,255.8 L398.1,257.5 L398.8,259.3 L399.3,261 L399.7,262.7 L400,264.4 L400.2,266 L400.3,267.6 M372.7,231.4 L374.6,232.2 L376.5,233.1 L378.4,234.1 L380.3,235.2 L382.1,236.4 L383.9,237.7 L385.6,239.1 L387.3,240.5 L388.9,242 L390.5,243.6 L391.9,245.2 L393.3,246.9 L394.6,248.6 L395.8,250.3 L396.9,252.1 L398,253.9 L398.9,255.6 L399.6,257.4 L400.3,259.2 L400.9,261 L401.3,262.7 L401.6,264.5 L401.8,266.2 L401.9,267.8 M373.4,230.4 L375.4,231.3 L377.3,232.2 L379.3,233.3 L381.2,234.4 L383.1,235.7 L384.9,237 L386.7,238.4 L388.4,239.9 L390.1,241.4 L391.7,243 L393.2,244.7 L394.7,246.4 L396,248.2 L397.3,250 L398.4,251.8 L399.4,253.6 L400.4,255.5 L401.2,257.3 L401.9,259.2 L402.5,261 L402.9,262.8 L403.2,264.6 L403.4,266.3 L403.5,268 M374.1,229.5 L376.2,230.4 L378.2,231.3 L380.2,232.4 L382.1,233.6 L384.1,234.9 L386,236.3 L387.8,237.7 L389.6,239.2 L391.3,240.8 L393,242.5 L394.5,244.2 L396,246 L397.4,247.8 L398.7,249.6 L399.9,251.5 L401,253.4 L401.9,255.3 L402.7,257.2 L403.5,259.1 L404,261 L404.5,262.8 L404.8,264.7 L405,266.5 L405.1,268.2 M374.9,228.6 L377,229.5 L379,230.5 L381.1,231.6 L383.1,232.8 L385.1,234.1 L387.1,235.5 L389,237 L390.8,238.6 L392.6,240.2 L394.3,241.9 L395.9,243.7 L397.4,245.5 L398.8,247.4 L400.2,249.3 L401.4,251.2 L402.5,253.2 L403.4,255.1 L404.3,257.1 L405,259 L405.7,261 L406.1,262.9 L406.5,264.8 L406.7,266.6 L406.7,268.4 M375.6,227.7 L377.8,228.6 L379.9,229.6 L382,230.8 L384.1,232 L386.2,233.4 L388.2,234.8 L390.1,236.3 L392,237.9 L393.8,239.6 L395.6,241.4 L397.2,243.2 L398.8,245.1 L400.3,247 L401.6,249 L402.9,250.9 L404,252.9 L405,254.9 L405.9,257 L406.6,259 L407.3,261 L407.8,262.9 L408.1,264.9 L408.3,266.8 L408.4,268.6 M376.4,226.8 L378.6,227.7 L380.8,228.8 L383,229.9 L385.1,231.2 L387.2,232.6 L389.3,234.1 L391.3,235.7 L393.2,237.3 L395.1,239 L396.9,240.9 L398.6,242.7 L400.2,244.6 L401.7,246.6 L403.1,248.6 L404.4,250.6 L405.5,252.7 L406.6,254.8 L407.5,256.8 L408.3,258.9 L408.9,260.9 L409.4,263 L409.8,264.9 L410,266.9 L410,268.8 M377.2,225.8 L379.5,226.8 L381.7,227.9 L383.9,229.1 L386.1,230.4 L388.3,231.8 L390.4,233.4 L392.5,235 L394.5,236.7 L396.4,238.5 L398.2,240.3 L400,242.2 L401.6,244.2 L403.2,246.2 L404.6,248.3 L405.9,250.3 L407.1,252.5 L408.2,254.6 L409.1,256.7 L409.9,258.8 L410.5,260.9 L411,263 L411.4,265 L411.6,267 L411.7,269 M378,224.9 L380.4,225.9 L382.7,227 L384.9,228.3 L387.2,229.6 L389.4,231.1 L391.6,232.6 L393.7,234.3 L395.7,236 L397.7,237.9 L399.6,239.8 L401.3,241.7 L403,243.7 L404.6,245.8 L406.1,247.9 L407.4,250.1 L408.7,252.2 L409.7,254.4 L410.7,256.6 L411.5,258.7 L412.2,260.9 L412.7,263 L413.1,265.1 L413.3,267.1 L413.4,269.1 M378.9,224 L381.2,225.1 L383.6,226.2 L385.9,227.5 L388.3,228.8 L390.5,230.3 L392.7,231.9 L394.9,233.6 L397,235.4 L399,237.3 L400.9,239.2 L402.7,241.2 L404.5,243.3 L406.1,245.4 L407.6,247.6 L409,249.8 L410.2,252 L411.3,254.2 L412.3,256.4 L413.2,258.6 L413.8,260.8 L414.4,263 L414.8,265.1 L415,267.2 L415.1,269.3 M379.7,223.1 L382.2,224.2 L384.6,225.3 L387,226.6 L389.3,228.1 L391.6,229.6 L393.9,231.2 L396.1,232.9 L398.3,234.8 L400.3,236.7 L402.3,238.7 L404.2,240.7 L405.9,242.8 L407.6,245 L409.1,247.2 L410.5,249.4 L411.8,251.7 L413,254 L414,256.3 L414.8,258.5 L415.5,260.8 L416.1,263 L416.5,265.2 L416.7,267.3 L416.8,269.4 M380.6,222.3 L383.1,223.3 L385.6,224.5 L388,225.8 L390.4,227.3 L392.8,228.8 L395.1,230.5 L397.4,232.3 L399.6,234.1 L401.7,236.1 L403.7,238.1 L405.6,240.2 L407.4,242.4 L409.1,244.6 L410.7,246.9 L412.1,249.1 L413.4,251.5 L414.6,253.8 L415.6,256.1 L416.5,258.4 L417.2,260.7 L417.8,263 L418.2,265.2 L418.4,267.4 L418.5,269.6 M381.5,221.4 L384.1,222.5 L386.6,223.7 L389.1,225 L391.5,226.5 L394,228.1 L396.3,229.8 L398.6,231.6 L400.9,233.5 L403,235.5 L405.1,237.6 L407,239.7 L408.9,241.9 L410.6,244.2 L412.2,246.5 L413.7,248.8 L415,251.2 L416.2,253.6 L417.2,255.9 L418.1,258.3 L418.9,260.7 L419.4,263 L419.9,265.3 L420.1,267.5 L420.2,269.7 M382.5,220.5 L385,221.6 L387.6,222.8 L390.2,224.2 L392.7,225.7 L395.1,227.3 L397.6,229.1 L399.9,230.9 L402.2,232.9 L404.4,234.9 L406.5,237 L408.5,239.2 L410.4,241.5 L412.1,243.8 L413.8,246.1 L415.3,248.5 L416.6,250.9 L417.8,253.4 L418.9,255.8 L419.8,258.2 L420.6,260.6 L421.2,263 L421.6,265.3 L421.8,267.6 L421.9,269.8 M383.4,219.6 L386,220.7 L388.6,222 L391.2,223.4 L393.8,225 L396.3,226.6 L398.8,228.4 L401.2,230.3 L403.5,232.3 L405.8,234.3 L407.9,236.5 L409.9,238.7 L411.8,241 L413.6,243.4 L415.3,245.8 L416.9,248.2 L418.2,250.7 L419.5,253.1 L420.6,255.6 L421.5,258.1 L422.3,260.5 L422.9,262.9 L423.3,265.3 L423.6,267.6 L423.6,269.9 M384.4,218.8 L387,219.9 L389.7,221.2 L392.4,222.6 L395,224.2 L397.5,225.9 L400,227.7 L402.5,229.6 L404.9,231.6 L407.1,233.7 L409.3,235.9 L411.4,238.2 L413.4,240.6 L415.2,243 L416.9,245.4 L418.5,247.9 L419.9,250.4 L421.1,252.9 L422.2,255.4 L423.2,257.9 L424,260.4 L424.6,262.9 L425,265.3 L425.3,267.7 L425.4,270 M385.3,217.9 L388.1,219.1 L390.8,220.4 L393.5,221.8 L396.1,223.4 L398.8,225.2 L401.3,227 L403.8,229 L406.2,231 L408.5,233.2 L410.8,235.4 L412.9,237.7 L414.9,240.1 L416.7,242.6 L418.5,245 L420.1,247.6 L421.5,250.1 L422.8,252.7 L423.9,255.3 L424.9,257.8 L425.7,260.4 L426.3,262.9 L426.7,265.3 L427,267.8 L427.1,270.1 M386.3,217 L389.1,218.2 L391.9,219.6 L394.6,221.1 L397.3,222.7 L400,224.4 L402.6,226.3 L405.1,228.3 L407.6,230.4 L409.9,232.6 L412.2,234.9 L414.4,237.2 L416.4,239.7 L418.3,242.1 L420.1,244.7 L421.7,247.3 L423.2,249.8 L424.5,252.5 L425.6,255.1 L426.6,257.7 L427.4,260.3 L428,262.8 L428.5,265.3 L428.8,267.8 L428.8,270.2 M387.3,216.2 L390.2,217.4 L393,218.8 L395.8,220.3 L398.5,221.9 L401.2,223.7 L403.9,225.6 L406.5,227.6 L409,229.8 L411.4,232 L413.7,234.3 L415.9,236.7 L417.9,239.2 L419.9,241.7 L421.7,244.3 L423.3,246.9 L424.8,249.6 L426.1,252.2 L427.3,254.9 L428.3,257.5 L429.1,260.2 L429.8,262.8 L430.2,265.3 L430.5,267.8 L430.6,270.3 M388.4,215.4 L391.2,216.6 L394.1,218 L396.9,219.5 L399.7,221.2 L402.5,223 L405.2,224.9 L407.8,227 L410.4,229.2 L412.8,231.4 L415.1,233.8 L417.4,236.2 L419.5,238.8 L421.4,241.3 L423.3,243.9 L424.9,246.6 L426.5,249.3 L427.8,252 L429,254.7 L430,257.4 L430.9,260.1 L431.5,262.7 L432,265.3 L432.3,267.9 L432.3,270.3 M389.4,214.5 L392.3,215.8 L395.2,217.2 L398.1,218.8 L401,220.5 L403.8,222.3 L406.5,224.3 L409.2,226.4 L411.8,228.6 L414.2,230.9 L416.6,233.3 L418.9,235.7 L421,238.3 L423,240.9 L424.9,243.6 L426.6,246.3 L428.1,249 L429.5,251.8 L430.7,254.5 L431.7,257.2 L432.6,260 L433.2,262.6 L433.7,265.3 L434,267.9 L434.1,270.4 M390.5,213.7 L393.4,215 L396.4,216.4 L399.3,218 L402.2,219.7 L405.1,221.6 L407.8,223.6 L410.5,225.7 L413.2,228 L415.7,230.3 L418.1,232.7 L420.4,235.3 L422.6,237.9 L424.6,240.5 L426.5,243.2 L428.2,246 L429.8,248.7 L431.2,251.5 L432.4,254.3 L433.5,257.1 L434.3,259.8 L435,262.6 L435.5,265.3 L435.8,267.9 L435.9,270.4 M391.6,212.9 L394.6,214.2 L397.6,215.6 L400.5,217.2 L403.5,219 L406.4,220.9 L409.2,222.9 L411.9,225.1 L414.6,227.4 L417.1,229.7 L419.6,232.2 L421.9,234.8 L424.1,237.4 L426.2,240.1 L428.1,242.8 L429.9,245.6 L431.5,248.4 L432.9,251.3 L434.1,254.1 L435.2,256.9 L436.1,259.7 L436.7,262.5 L437.2,265.2 L437.5,267.9 L437.6,270.5 M392.6,212.1 L395.7,213.4 L398.7,214.9 L401.8,216.5 L404.7,218.3 L407.7,220.2 L410.5,222.3 L413.3,224.5 L416,226.8 L418.6,229.2 L421.1,231.7 L423.5,234.3 L425.7,237 L427.8,239.7 L429.7,242.5 L431.5,245.3 L433.1,248.1 L434.6,251 L435.8,253.9 L436.9,256.8 L437.8,259.6 L438.5,262.4 L439,265.2 L439.3,267.9 L439.4,270.5 M393.8,211.3 L396.9,212.6 L399.9,214.1 L403,215.8 L406,217.6 L409,219.5 L411.9,221.6 L414.7,223.8 L417.5,226.2 L420.1,228.6 L422.6,231.2 L425,233.8 L427.3,236.5 L429.4,239.3 L431.4,242.1 L433.2,245 L434.8,247.9 L436.3,250.8 L437.5,253.7 L438.6,256.6 L439.5,259.5 L440.2,262.3 L440.7,265.1 L441,267.9 L441.1,270.5 M394.9,210.5 L398,211.9 L401.2,213.4 L404.3,215 L407.3,216.9 L410.3,218.9 L413.3,221 L416.1,223.2 L418.9,225.6 L421.6,228.1 L424.1,230.6 L426.6,233.3 L428.8,236.1 L431,238.9 L433,241.7 L434.8,244.6 L436.5,247.6 L438,250.5 L439.3,253.5 L440.4,256.4 L441.3,259.3 L442,262.2 L442.5,265.1 L442.8,267.8 L442.9,270.5 M396,209.7 L399.2,211.1 L402.4,212.6 L405.5,214.3 L408.6,216.2 L411.7,218.2 L414.6,220.3 L417.5,222.6 L420.3,225 L423.1,227.5 L425.6,230.1 L428.1,232.8 L430.4,235.6 L432.6,238.5 L434.6,241.4 L436.5,244.3 L438.2,247.3 L439.7,250.3 L441,253.2 L442.1,256.2 L443,259.2 L443.7,262.1 L444.3,265 L444.6,267.8 L444.7,270.5 M397.2,209 L400.4,210.3 L403.6,211.9 L406.8,213.6 L409.9,215.5 L413,217.5 L416,219.7 L419,222 L421.8,224.4 L424.5,227 L427.2,229.6 L429.7,232.3 L432,235.2 L434.2,238 L436.3,241 L438.1,244 L439.8,247 L441.4,250 L442.7,253 L443.8,256 L444.8,259 L445.5,262 L446,264.9 L446.3,267.8 L446.4,270.5 M398.3,208.2 L401.6,209.6 L404.9,211.2 L408.1,212.9 L411.3,214.8 L414.4,216.9 L417.4,219.1 L420.4,221.4 L423.3,223.9 L426,226.4 L428.7,229.1 L431.2,231.9 L433.6,234.7 L435.8,237.6 L437.9,240.6 L439.8,243.6 L441.5,246.7 L443.1,249.7 L444.4,252.8 L445.6,255.8 L446.5,258.9 L447.2,261.9 L447.8,264.8 L448.1,267.7 L448.2,270.5 M399.5,207.5 L402.8,208.9 L406.1,210.5 L409.4,212.2 L412.6,214.1 L415.7,216.2 L418.8,218.4 L421.8,220.8 L424.7,223.3 L427.6,225.9 L430.2,228.6 L432.8,231.4 L435.2,234.3 L437.5,237.2 L439.5,240.2 L441.5,243.3 L443.2,246.4 L444.8,249.5 L446.1,252.6 L447.3,255.6 L448.2,258.7 L449,261.7 L449.5,264.7 L449.9,267.7 L450,270.5 M400.7,206.7 L404.1,208.1 L407.4,209.7 L410.7,211.5 L413.9,213.5 L417.1,215.6 L420.2,217.8 L423.3,220.2 L426.2,222.7 L429.1,225.4 L431.8,228.1 L434.4,230.9 L436.8,233.8 L439.1,236.8 L441.2,239.9 L443.1,242.9 L444.9,246.1 L446.5,249.2 L447.8,252.3 L449,255.5 L450,258.6 L450.7,261.6 L451.3,264.6 L451.6,267.6 L451.7,270.5 M401.9,206 L405.3,207.4 L408.7,209.1 L412,210.9 L415.3,212.8 L418.5,214.9 L421.7,217.2 L424.7,219.6 L427.7,222.2 L430.6,224.8 L433.3,227.6 L435.9,230.5 L438.4,233.4 L440.7,236.4 L442.8,239.5 L444.8,242.6 L446.6,245.8 L448.2,248.9 L449.6,252.1 L450.8,255.2 L451.7,258.4 L452.5,261.5 L453,264.5 L453.4,267.5 L453.5,270.4 M403.2,205.3 L406.6,206.7 L410,208.4 L413.3,210.2 L416.6,212.2 L419.9,214.3 L423.1,216.6 L426.2,219.1 L429.2,221.6 L432.1,224.3 L434.9,227.1 L437.5,230 L440,233 L442.3,236 L444.5,239.1 L446.5,242.3 L448.3,245.4 L449.9,248.6 L451.3,251.8 L452.5,255 L453.5,258.2 L454.2,261.3 L454.8,264.4 L455.1,267.4 L455.2,270.4 M404.4,204.6 L407.8,206 L411.3,207.7 L414.7,209.5 L418,211.5 L421.3,213.7 L424.5,216 L427.7,218.5 L430.7,221.1 L433.6,223.8 L436.4,226.6 L439.1,229.5 L441.6,232.5 L443.9,235.6 L446.1,238.7 L448.1,241.9 L449.9,245.1 L451.6,248.4 L453,251.6 L454.2,254.8 L455.2,258 L456,261.2 L456.5,264.3 L456.9,267.3 L457,270.3 M405.6,203.9 L409.1,205.4 L412.6,207 L416,208.9 L419.4,210.9 L422.7,213.1 L426,215.4 L429.1,217.9 L432.2,220.5 L435.1,223.3 L438,226.1 L440.7,229.1 L443.2,232.1 L445.6,235.2 L447.8,238.4 L449.8,241.6 L451.6,244.8 L453.3,248.1 L454.7,251.4 L455.9,254.6 L456.9,257.8 L457.7,261 L458.3,264.2 L458.6,267.2 L458.7,270.2 M406.9,203.2 L410.4,204.7 L413.9,206.4 L417.4,208.2 L420.8,210.3 L424.1,212.5 L427.4,214.9 L430.6,217.4 L433.7,220 L436.7,222.8 L439.5,225.6 L442.2,228.6 L444.8,231.7 L447.2,234.8 L449.4,238 L451.5,241.2 L453.3,244.5 L455,247.8 L456.4,251.1 L457.6,254.4 L458.7,257.6 L459.5,260.9 L460,264 L460.4,267.1 L460.5,270.2 M408.2,202.5 L411.7,204 L415.2,205.7 L418.7,207.6 L422.2,209.7 L425.5,211.9 L428.9,214.3 L432.1,216.8 L435.2,219.5 L438.2,222.3 L441.1,225.2 L443.8,228.2 L446.4,231.3 L448.8,234.4 L451.1,237.6 L453.1,240.9 L455,244.2 L456.6,247.5 L458.1,250.8 L459.4,254.2 L460.4,257.4 L461.2,260.7 L461.8,263.9 L462.1,267 L462.2,270.1 M409.4,201.8 L413,203.4 L416.6,205.1 L420.1,207 L423.6,209.1 L427,211.3 L430.3,213.7 L433.6,216.3 L436.7,219 L439.7,221.8 L442.6,224.7 L445.4,227.7 L448,230.8 L450.4,234 L452.7,237.3 L454.8,240.6 L456.7,243.9 L458.3,247.2 L459.8,250.6 L461.1,253.9 L462.1,257.2 L462.9,260.5 L463.5,263.7 L463.8,266.9 L464,270 M410.7,201.2 L414.3,202.7 L417.9,204.5 L421.5,206.4 L425,208.5 L428.4,210.7 L431.8,213.2 L435,215.7 L438.2,218.4 L441.3,221.3 L444.2,224.2 L447,227.3 L449.6,230.4 L452,233.6 L454.3,236.9 L456.4,240.2 L458.3,243.6 L460,247 L461.5,250.3 L462.8,253.7 L463.8,257 L464.6,260.3 L465.2,263.6 L465.6,266.8 L465.7,269.9 M412,200.6 L415.7,202.1 L419.3,203.9 L422.8,205.8 L426.4,207.9 L429.8,210.2 L433.2,212.6 L436.5,215.2 L439.7,217.9 L442.8,220.8 L445.7,223.8 L448.5,226.8 L451.2,230 L453.7,233.2 L456,236.5 L458.1,239.9 L460,243.3 L461.7,246.7 L463.2,250.1 L464.5,253.5 L465.5,256.8 L466.3,260.1 L466.9,263.4 L467.3,266.6 L467.4,269.8 M413.3,199.9 L417,201.5 L420.6,203.2 L424.2,205.2 L427.8,207.3 L431.3,209.6 L434.7,212.1 L438,214.7 L441.2,217.4 L444.3,220.3 L447.3,223.3 L450.1,226.4 L452.8,229.6 L455.3,232.8 L457.6,236.2 L459.7,239.5 L461.6,242.9 L463.4,246.4 L464.9,249.8 L466.2,253.2 L467.2,256.6 L468,260 L468.6,263.3 L469,266.5 L469.1,269.6 M414.7,199.3 L418.3,200.9 L422,202.7 L425.6,204.6 L429.2,206.8 L432.7,209.1 L436.2,211.5 L439.5,214.2 L442.7,216.9 L445.9,219.8 L448.9,222.9 L451.7,226 L454.4,229.2 L456.9,232.5 L459.2,235.8 L461.4,239.2 L463.3,242.6 L465,246.1 L466.5,249.5 L467.8,253 L468.9,256.4 L469.7,259.8 L470.3,263.1 L470.7,266.3 L470.8,269.5 M416,198.7 L419.7,200.3 L423.4,202.1 L427,204.1 L430.6,206.2 L434.2,208.5 L437.6,211 L441,213.7 L444.3,216.5 L447.4,219.4 L450.4,222.4 L453.3,225.5 L456,228.8 L458.5,232.1 L460.8,235.4 L463,238.9 L464.9,242.3 L466.7,245.8 L468.2,249.3 L469.5,252.7 L470.6,256.2 L471.4,259.6 L472,262.9 L472.4,266.2 L472.5,269.4 M417.3,198.1 L421.1,199.7 L424.8,201.5 L428.4,203.5 L432.1,205.7 L435.6,208 L439.1,210.5 L442.5,213.2 L445.8,216 L448.9,218.9 L452,222 L454.8,225.1 L457.5,228.4 L460.1,231.7 L462.5,235.1 L464.6,238.5 L466.6,242 L468.3,245.5 L469.9,249 L471.2,252.5 L472.3,255.9 L473.1,259.3 L473.7,262.7 L474.1,266 L474.2,269.2 M418.7,197.6 L422.4,199.2 L426.1,201 L429.8,203 L433.5,205.1 L437.1,207.5 L440.6,210 L444,212.7 L447.3,215.5 L450.5,218.5 L453.5,221.5 L456.4,224.7 L459.1,228 L461.7,231.3 L464.1,234.7 L466.2,238.2 L468.2,241.7 L470,245.2 L471.5,248.7 L472.8,252.2 L473.9,255.7 L474.8,259.1 L475.4,262.5 L475.8,265.8 L475.9,269 M420,197 L423.8,198.6 L427.5,200.4 L431.3,202.4 L434.9,204.6 L438.5,207 L442,209.5 L445.5,212.2 L448.8,215 L452,218 L455,221.1 L458,224.3 L460.7,227.6 L463.3,230.9 L465.7,234.4 L467.9,237.8 L469.8,241.4 L471.6,244.9 L473.2,248.4 L474.5,251.9 L475.6,255.4 L476.4,258.9 L477.1,262.3 L477.4,265.6 L477.5,268.9 M421.4,196.4 L425.2,198.1 L428.9,199.9 L432.7,201.9 L436.4,204.1 L440,206.5 L443.5,209 L447,211.7 L450.3,214.6 L453.5,217.6 L456.6,220.7 L459.5,223.9 L462.3,227.2 L464.9,230.6 L467.3,234 L469.5,237.5 L471.5,241 L473.2,244.6 L474.8,248.1 L476.1,251.7 L477.2,255.2 L478.1,258.7 L478.7,262.1 L479.1,265.4 L479.2,268.7 M422.8,195.9 L426.6,197.5 L430.3,199.4 L434.1,201.4 L437.8,203.6 L441.4,206 L445,208.6 L448.5,211.3 L451.8,214.1 L455,217.1 L458.1,220.3 L461.1,223.5 L463.8,226.8 L466.4,230.2 L468.9,233.7 L471.1,237.2 L473.1,240.7 L474.9,244.3 L476.4,247.9 L477.8,251.4 L478.9,255 L479.7,258.4 L480.4,261.9 L480.7,265.2 L480.9,268.5 M424.1,195.4 L428,197 L431.8,198.9 L435.5,200.9 L439.2,203.1 L442.9,205.5 L446.5,208.1 L449.9,210.8 L453.3,213.7 L456.6,216.7 L459.7,219.9 L462.6,223.1 L465.4,226.4 L468,229.8 L470.4,233.3 L472.7,236.8 L474.7,240.4 L476.5,244 L478,247.6 L479.4,251.1 L480.5,254.7 L481.4,258.2 L482,261.7 L482.4,265 L482.5,268.3 M425.5,194.9 L429.3,196.5 L433.2,198.4 L436.9,200.4 L440.7,202.6 L444.4,205.1 L447.9,207.6 L451.4,210.4 L454.8,213.3 L458.1,216.3 L461.2,219.4 L464.2,222.7 L467,226 L469.6,229.5 L472,233 L474.2,236.5 L476.3,240.1 L478.1,243.7 L479.7,247.3 L481,250.9 L482.1,254.4 L483,258 L483.6,261.4 L484,264.8 L484.1,268.1 M426.9,194.4 L430.7,196 L434.6,197.9 L438.4,199.9 L442.1,202.2 L445.8,204.6 L449.4,207.2 L452.9,210 L456.3,212.9 L459.6,215.9 L462.7,219 L465.7,222.3 L468.5,225.7 L471.1,229.1 L473.6,232.6 L475.8,236.2 L477.8,239.8 L479.7,243.4 L481.3,247 L482.6,250.6 L483.7,254.2 L484.6,257.7 L485.2,261.2 L485.6,264.6 L485.7,267.9 M428.3,193.9 L432.2,195.6 L436,197.4 L439.8,199.5 L443.6,201.7 L447.3,204.2 L450.9,206.8 L454.4,209.5 L457.8,212.4 L461.1,215.5 L464.2,218.7 L467.2,221.9 L470,225.3 L472.7,228.8 L475.1,232.3 L477.4,235.8 L479.4,239.4 L481.2,243.1 L482.8,246.7 L484.2,250.3 L485.3,253.9 L486.2,257.5 L486.8,260.9 L487.2,264.4 L487.3,267.7 M429.7,193.4 L433.6,195.1 L437.4,197 L441.2,199 L445,201.3 L448.7,203.7 L452.4,206.3 L455.9,209.1 L459.3,212 L462.6,215.1 L465.7,218.3 L468.7,221.6 L471.6,224.9 L474.2,228.4 L476.7,231.9 L478.9,235.5 L481,239.1 L482.8,242.8 L484.4,246.4 L485.8,250 L486.9,253.6 L487.8,257.2 L488.4,260.7 L488.8,264.1 L488.9,267.5 M431.1,193 L435,194.7 L438.8,196.5 L442.7,198.6 L446.5,200.9 L450.2,203.3 L453.8,205.9 L457.4,208.7 L460.8,211.6 L464.1,214.7 L467.2,217.9 L470.3,221.2 L473.1,224.6 L475.7,228.1 L478.2,231.6 L480.5,235.2 L482.5,238.8 L484.4,242.5 L486,246.1 L487.3,249.7 L488.5,253.4 L489.3,256.9 L490,260.4 L490.4,263.9 L490.5,267.2 M432.5,192.6 L436.4,194.2 L440.3,196.1 L444.1,198.2 L447.9,200.4 L451.6,202.9 L455.3,205.5 L458.8,208.3 L462.3,211.3 L465.6,214.3 L468.7,217.5 L471.8,220.8 L474.6,224.2 L477.3,227.7 L479.7,231.3 L482,234.9 L484.1,238.5 L485.9,242.2 L487.5,245.8 L488.9,249.5 L490,253.1 L490.9,256.7 L491.5,260.2 L491.9,263.6 L492,267 M433.9,192.1 L437.8,193.8 L441.7,195.7 L445.5,197.8 L449.3,200 L453.1,202.5 L456.7,205.1 L460.3,207.9 L463.7,210.9 L467.1,214 L470.2,217.2 L473.3,220.5 L476.1,223.9 L478.8,227.4 L481.3,230.9 L483.5,234.5 L485.6,238.2 L487.4,241.8 L489,245.5 L490.4,249.2 L491.6,252.8 L492.4,256.4 L493.1,259.9 L493.5,263.4 L493.6,266.7 M435.3,191.7 L439.2,193.4 L443.1,195.3 L447,197.4 L450.8,199.7 L454.5,202.1 L458.2,204.8 L461.8,207.6 L465.2,210.5 L468.5,213.6 L471.7,216.8 L474.7,220.1 L477.6,223.5 L480.3,227 L482.8,230.6 L485,234.2 L487.1,237.9 L488.9,241.5 L490.6,245.2 L491.9,248.9 L493.1,252.5 L494,256.1 L494.6,259.6 L495,263.1 L495.1,266.5 M436.7,191.3 L440.6,193 L444.5,194.9 L448.4,197 L452.2,199.3 L456,201.7 L459.6,204.4 L463.2,207.2 L466.7,210.1 L470,213.2 L473.2,216.4 L476.2,219.8 L479.1,223.2 L481.8,226.7 L484.2,230.3 L486.5,233.9 L488.6,237.6 L490.5,241.2 L492.1,244.9 L493.4,248.6 L494.6,252.2 L495.5,255.8 L496.1,259.4 L496.5,262.8 L496.6,266.2 M438.1,191 L442.1,192.6 L446,194.5 L449.8,196.6 L453.7,198.9 L457.4,201.4 L461.1,204 L464.7,206.8 L468.1,209.8 L471.5,212.9 L474.7,216.1 L477.7,219.4 L480.6,222.9 L483.2,226.4 L485.7,229.9 L488,233.6 L490.1,237.2 L491.9,240.9 L493.6,244.6 L494.9,248.3 L496.1,251.9 L497,255.5 L497.6,259.1 L498,262.6 L498.1,265.9 M439.5,190.6 L443.5,192.3 L447.4,194.2 L451.3,196.3 L455.1,198.6 L458.9,201 L462.5,203.7 L466.1,206.5 L469.6,209.4 L472.9,212.5 L476.1,215.8 L479.1,219.1 L482,222.5 L484.7,226.1 L487.2,229.6 L489.5,233.3 L491.6,236.9 L493.4,240.6 L495,244.3 L496.4,248 L497.6,251.6 L498.5,255.2 L499.1,258.8 L499.5,262.3 L499.6,265.7 M441,190.2 L444.9,191.9 L448.8,193.8 L452.7,195.9 L456.5,198.2 L460.3,200.7 L464,203.3 L467.5,206.2 L471,209.1 L474.4,212.2 L477.6,215.4 L480.6,218.8 L483.5,222.2 L486.2,225.7 L488.6,229.3 L490.9,232.9 L493,236.6 L494.9,240.3 L496.5,244 L497.9,247.7 L499,251.3 L499.9,254.9 L500.6,258.5 L500.9,262 L501.1,265.4 M442.4,189.9 L446.3,191.6 L450.2,193.5 L454.1,195.6 L457.9,197.9 L461.7,200.4 L465.4,203 L469,205.8 L472.4,208.8 L475.8,211.9 L479,215.1 L482,218.5 L484.9,221.9 L487.6,225.4 L490.1,229 L492.4,232.6 L494.5,236.3 L496.3,240 L497.9,243.7 L499.3,247.4 L500.5,251 L501.4,254.6 L502,258.2 L502.4,261.7 L502.5,265.1"/>
<path class="ax" d="M330,193.9 L330,265.4 L414.2,299.1 L528,274.4"/>
<path class="ax" d="M330,265.4 L328.2,265.4 M330,255.2 L328.2,255.2 M330,245 L328.2,245 M330,234.7 L328.2,234.7 M330,224.5 L328.2,224.5 M330,214.3 L328.2,214.3 M330,204.1 L328.2,204.1 M330,193.9 L328.2,193.9 M330,265.4 L328.8,266.5 M342,270.2 L340.8,271.3 M354.1,275 L352.9,276.1 M366.1,279.8 L364.9,280.9 M378.1,284.7 L376.9,285.8 M390.1,289.5 L388.9,290.6 M402.2,294.3 L401,295.4 M414.2,299.1 L413,300.2 M528,274.4 L529,275.8 M511.7,277.9 L512.7,279.3 M495.5,281.5 L496.5,282.9 M479.2,285 L480.2,286.4 M463,288.5 L464,289.9 M446.7,292 L447.7,293.4 M430.5,295.6 L431.5,297 M414.2,299.1 L415.2,300.5"/>
<g class="tl"><text x="326.4" y="266.7" text-anchor="end">0</text><text x="326.4" y="256.5" text-anchor="end">0.2</text><text x="326.4" y="246.3" text-anchor="end">0.4</text><text x="326.4" y="236" text-anchor="end">0.6</text><text x="326.4" y="225.8" text-anchor="end">0.8</text><text x="326.4" y="215.6" text-anchor="end">1</text><text x="326.4" y="205.4" text-anchor="end">1.2</text><text x="326.4" y="195.2" text-anchor="end">1.4</text><text x="327" y="270.6" text-anchor="end">0</text><text x="339" y="275.4" text-anchor="end">0.2</text><text x="351.1" y="280.2" text-anchor="end">0.4</text><text x="363.1" y="285" text-anchor="end">0.6</text><text x="375.1" y="289.9" text-anchor="end">0.8</text><text x="387.1" y="294.7" text-anchor="end">1</text><text x="399.2" y="299.5" text-anchor="end">1.2</text><text x="411.2" y="304.3" text-anchor="end">1.4</text><text x="530.7" y="280">0</text><text x="514.4" y="283.5">0.2</text><text x="498.2" y="287.1">0.4</text><text x="481.9" y="290.6">0.6</text><text x="465.7" y="294.1">0.8</text><text x="449.4" y="297.6">1</text><text x="433.2" y="301.2">1.2</text><text x="416.9" y="304.7">1.4</text></g>
<text class="at" x="370.5" y="303.9" text-anchor="middle">2<tspan class="sup" dy="-1.3">nd</tspan><tspan dy="1.3"> Objective</tspan></text>
<text class="at" x="467.4" y="306.3" text-anchor="middle">1<tspan class="sup" dy="-1.3">st</tspan><tspan dy="1.3"> Objective</tspan></text>
<text class="at" transform="translate(319.1,230.5) rotate(-90)" text-anchor="middle">3<tspan class="sup" dy="-1.3">rd</tspan><tspan dy="1.3"> Objective</tspan></text>
<g fill="#0000ff"><circle cx="441.5" cy="170.9" r="1.3"/><circle cx="441.5" cy="172.2" r="1.3"/><circle cx="441.5" cy="176.4" r="1.3"/><circle cx="441.5" cy="179.3" r="1.3"/><circle cx="441.5" cy="183" r="1.3"/><circle cx="440.5" cy="186.5" r="1.3"/><circle cx="414.5" cy="190.3" r="1.3"/><circle cx="415.6" cy="189.8" r="1.3"/><circle cx="435.9" cy="192.7" r="1.3"/><circle cx="415.3" cy="201" r="1.3"/><circle cx="443.3" cy="203.2" r="1.3"/><circle cx="474.2" cy="201" r="1.3"/><circle cx="479.3" cy="203.6" r="1.3"/><circle cx="395.4" cy="196.8" r="1.3"/><circle cx="395.4" cy="205.1" r="1.3"/><circle cx="418" cy="208" r="1.3"/><circle cx="382.8" cy="210.7" r="1.3"/><circle cx="378.4" cy="213.8" r="1.3"/><circle cx="389" cy="212.6" r="1.3"/><circle cx="407.4" cy="212.6" r="1.3"/><circle cx="413.8" cy="218" r="1.3"/><circle cx="420.5" cy="218.4" r="1.3"/><circle cx="397.1" cy="221.3" r="1.3"/><circle cx="392.9" cy="224.4" r="1.3"/><circle cx="374.1" cy="225.4" r="1.3"/><circle cx="426.3" cy="229.3" r="1.3"/><circle cx="361.9" cy="232.6" r="1.3"/><circle cx="360.4" cy="238.4" r="1.3"/><circle cx="369.7" cy="238" r="1.3"/><circle cx="372.9" cy="242.2" r="1.3"/><circle cx="406.4" cy="233.5" r="1.3"/><circle cx="390.9" cy="239.7" r="1.3"/><circle cx="388" cy="241.8" r="1.3"/><circle cx="400.6" cy="239.7" r="1.3"/><circle cx="403.1" cy="241.6" r="1.3"/><circle cx="418.4" cy="242.8" r="1.3"/><circle cx="383.2" cy="246.5" r="1.3"/><circle cx="403.1" cy="247.4" r="1.3"/><circle cx="405.4" cy="249" r="1.3"/><circle cx="414.5" cy="247.4" r="1.3"/><circle cx="415.1" cy="248.6" r="1.3"/><circle cx="424.4" cy="247.4" r="1.3"/><circle cx="484.8" cy="208.8" r="1.3"/><circle cx="487.1" cy="211.9" r="1.3"/><circle cx="437.4" cy="206.4" r="1.3"/><circle cx="440.9" cy="211.9" r="1.3"/><circle cx="453.3" cy="209" r="1.3"/><circle cx="460" cy="212.8" r="1.3"/><circle cx="453.3" cy="216.1" r="1.3"/><circle cx="464.9" cy="220.4" r="1.3"/><circle cx="433.5" cy="220.6" r="1.3"/><circle cx="439.3" cy="222.3" r="1.3"/><circle cx="443.8" cy="221" r="1.3"/><circle cx="458.1" cy="226.8" r="1.3"/><circle cx="432" cy="232.2" r="1.3"/><circle cx="468.7" cy="232.9" r="1.3"/><circle cx="486.7" cy="229.7" r="1.3"/><circle cx="491" cy="234.5" r="1.3"/><circle cx="498" cy="231" r="1.3"/><circle cx="501.6" cy="232.2" r="1.3"/><circle cx="450" cy="238" r="1.3"/><circle cx="455.2" cy="239.9" r="1.3"/><circle cx="448.6" cy="242.6" r="1.3"/><circle cx="431.6" cy="242.6" r="1.3"/><circle cx="471.3" cy="241.6" r="1.3"/><circle cx="487.3" cy="239.3" r="1.3"/><circle cx="485.2" cy="243.2" r="1.3"/><circle cx="485.4" cy="247.3" r="1.3"/><circle cx="444.8" cy="249.4" r="1.3"/><circle cx="357.9" cy="252.4" r="1.3"/><circle cx="350.8" cy="259.2" r="1.3"/><circle cx="351.8" cy="261.7" r="1.3"/><circle cx="337.8" cy="264.6" r="1.3"/><circle cx="366.8" cy="265.9" r="1.3"/><circle cx="378.2" cy="266.3" r="1.3"/><circle cx="397.6" cy="257.8" r="1.3"/><circle cx="409.8" cy="265.6" r="1.3"/><circle cx="397.8" cy="271.4" r="1.3"/><circle cx="408" cy="273.3" r="1.3"/><circle cx="468" cy="253" r="1.3"/><circle cx="430.7" cy="255.9" r="1.3"/><circle cx="449.7" cy="257.6" r="1.3"/><circle cx="454.9" cy="255.9" r="1.3"/><circle cx="500.9" cy="251.8" r="1.3"/><circle cx="419.3" cy="260.1" r="1.3"/><circle cx="438" cy="261.5" r="1.3"/><circle cx="462.6" cy="261.7" r="1.3"/><circle cx="473.8" cy="264.6" r="1.3"/><circle cx="505.4" cy="262.7" r="1.3"/><circle cx="433.8" cy="267.9" r="1.3"/><circle cx="431.3" cy="270.8" r="1.3"/><circle cx="489.3" cy="270.2" r="1.3"/><circle cx="497.4" cy="272.3" r="1.3"/><circle cx="444.4" cy="275" r="1.3"/><circle cx="447.1" cy="275" r="1.3"/><circle cx="455.1" cy="274.7" r="1.3"/><circle cx="453.5" cy="276.6" r="1.3"/><circle cx="467.6" cy="274.1" r="1.3"/><circle cx="519" cy="271.3" r="1.3"/></g>
<rect x="498.4" y="165.4" width="47.3" height="26.5" fill="#fff" stroke="none"/>
<rect class="lg" x="498.4" y="165.4" width="47.3" height="26.5"/>
<circle cx="510" cy="172.9" r="1.05" fill="#fff" stroke="#7a7a7a" stroke-width="0.55"/>
<circle cx="510" cy="184.9" r="1.3" fill="#0000ff"/>
<text class="lt" x="516.8" y="175" textLength="19.8" lengthAdjust="spacingAndGlyphs">True PF</text>
<text class="lt" x="516.8" y="187" textLength="22" lengthAdjust="spacingAndGlyphs">MOGWO</text></g>
</svg>
</body></html>
